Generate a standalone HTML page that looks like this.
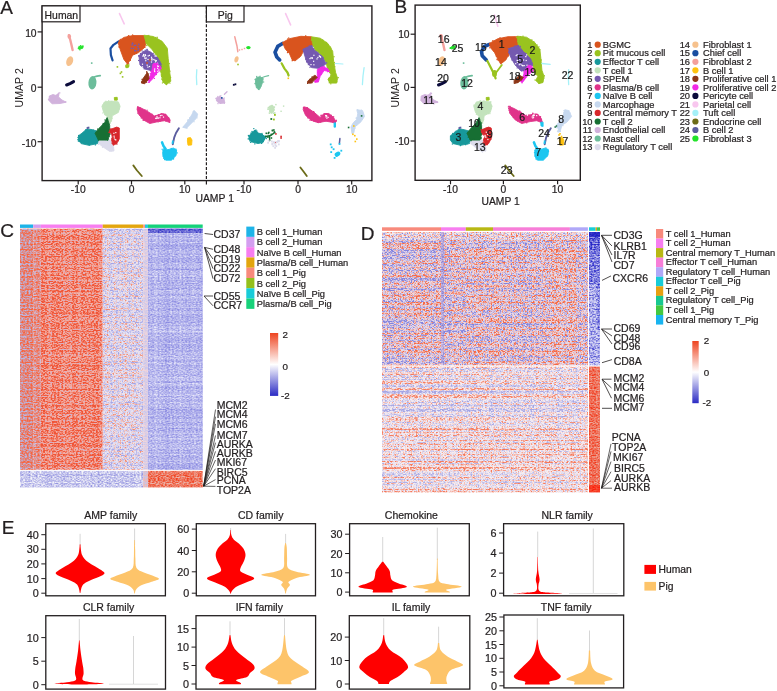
<!DOCTYPE html>
<html><head><meta charset="utf-8"><style>
html,body{margin:0;padding:0;background:#fff;}
svg{display:block;font-family:"Liberation Sans", sans-serif;will-change:transform;}
</style></head><body>
<svg width="777" height="691" viewBox="0 0 777 691">
<defs><filter id="hf1" x="17" y="225.6" width="19.200000000000003" height="247.20000000000002" filterUnits="userSpaceOnUse" color-interpolation-filters="sRGB"><feTurbulence type="fractalNoise" baseFrequency="0.55 0.85" numOctaves="1" seed="3" result="n1"/><feColorMatrix in="n1" type="matrix" values="2.400 0 0 0 -0.700 2.400 0 0 0 -0.700 2.400 0 0 0 -0.700 0 0 0 0 1" result="m1"/><feTurbulence type="fractalNoise" baseFrequency="0.0015 0.55" numOctaves="1" seed="53" result="n2"/><feColorMatrix in="n2" type="matrix" values="1.400 0 0 0 -0.200 1.400 0 0 0 -0.200 1.400 0 0 0 -0.200 0 0 0 0 1" result="m2"/><feTurbulence type="fractalNoise" baseFrequency="0.45 0.0015" numOctaves="1" seed="93" result="n3"/><feColorMatrix in="n3" type="matrix" values="0.500 0 0 0 0.250 0.500 0 0 0 0.250 0.500 0 0 0 0.250 0 0 0 0 1" result="m3"/><feComposite in="m1" in2="m2" operator="arithmetic" k1="0" k2="1" k3="1" k4="-0.5" result="m12"/><feComposite in="m12" in2="m3" operator="arithmetic" k1="0" k2="1" k3="1" k4="-0.4558"/><feColorMatrix type="matrix" values="1 0 0 0 0 0 1 0 0 0 0 0 1 0 0 0 0 0 0 1"/><feComponentTransfer><feFuncR type="table" tableValues="0.725 0.980"/><feFuncG type="table" tableValues="0.725 0.392"/><feFuncB type="table" tableValues="0.902 0.235"/><feFuncA type="linear" slope="0" intercept="1"/></feComponentTransfer><feGaussianBlur stdDeviation="0.4 0.25"/><feComposite in2="SourceGraphic" operator="in"/></filter>
<filter id="hf2" x="30.200000000000003" y="225.6" width="13.699999999999996" height="247.20000000000002" filterUnits="userSpaceOnUse" color-interpolation-filters="sRGB"><feTurbulence type="fractalNoise" baseFrequency="0.55 0.85" numOctaves="1" seed="4" result="n1"/><feColorMatrix in="n1" type="matrix" values="2.200 0 0 0 -0.600 2.200 0 0 0 -0.600 2.200 0 0 0 -0.600 0 0 0 0 1" result="m1"/><feTurbulence type="fractalNoise" baseFrequency="0.0015 0.55" numOctaves="1" seed="54" result="n2"/><feColorMatrix in="n2" type="matrix" values="1.200 0 0 0 -0.100 1.200 0 0 0 -0.100 1.200 0 0 0 -0.100 0 0 0 0 1" result="m2"/><feTurbulence type="fractalNoise" baseFrequency="0.45 0.0015" numOctaves="1" seed="94" result="n3"/><feColorMatrix in="n3" type="matrix" values="0.500 0 0 0 0.250 0.500 0 0 0 0.250 0.500 0 0 0 0.250 0 0 0 0 1" result="m3"/><feComposite in="m1" in2="m2" operator="arithmetic" k1="0" k2="1" k3="1" k4="-0.5" result="m12"/><feComposite in="m12" in2="m3" operator="arithmetic" k1="0" k2="1" k3="1" k4="-0.4746"/><feColorMatrix type="matrix" values="1 0 0 0 0 0 1 0 0 0 0 0 1 0 0 0 0 0 0 1"/><feComponentTransfer><feFuncR type="table" tableValues="0.784 0.980"/><feFuncG type="table" tableValues="0.765 0.392"/><feFuncB type="table" tableValues="0.910 0.235"/><feFuncA type="linear" slope="0" intercept="1"/></feComponentTransfer><feGaussianBlur stdDeviation="0.4 0.25"/><feComposite in2="SourceGraphic" operator="in"/></filter>
<filter id="hf3" x="37.9" y="225.6" width="67.80000000000001" height="247.20000000000002" filterUnits="userSpaceOnUse" color-interpolation-filters="sRGB"><feTurbulence type="fractalNoise" baseFrequency="0.55 0.85" numOctaves="1" seed="5" result="n1"/><feColorMatrix in="n1" type="matrix" values="2.000 0 0 0 -0.500 2.000 0 0 0 -0.500 2.000 0 0 0 -0.500 0 0 0 0 1" result="m1"/><feTurbulence type="fractalNoise" baseFrequency="0.0015 0.55" numOctaves="1" seed="55" result="n2"/><feColorMatrix in="n2" type="matrix" values="1.000 0 0 0 0.000 1.000 0 0 0 0.000 1.000 0 0 0 0.000 0 0 0 0 1" result="m2"/><feTurbulence type="fractalNoise" baseFrequency="0.45 0.0015" numOctaves="1" seed="95" result="n3"/><feColorMatrix in="n3" type="matrix" values="0.500 0 0 0 0.250 0.500 0 0 0 0.250 0.500 0 0 0 0.250 0 0 0 0 1" result="m3"/><feComposite in="m1" in2="m2" operator="arithmetic" k1="0" k2="1" k3="1" k4="-0.5" result="m12"/><feComposite in="m12" in2="m3" operator="arithmetic" k1="0" k2="1" k3="1" k4="-0.2900"/><feColorMatrix type="matrix" values="1 0 0 0 0 0 1 0 0 0 0 0 1 0 0 0 0 0 0 1"/><feComponentTransfer><feFuncR type="table" tableValues="0.725 0.957 0.941"/><feFuncG type="table" tableValues="0.698 0.686 0.333"/><feFuncB type="table" tableValues="0.902 0.647 0.216"/><feFuncA type="linear" slope="0" intercept="1"/></feComponentTransfer><feGaussianBlur stdDeviation="0.4 0.25"/><feComposite in2="SourceGraphic" operator="in"/></filter>
<filter id="hf4" x="99.7" y="225.6" width="46.39999999999999" height="247.20000000000002" filterUnits="userSpaceOnUse" color-interpolation-filters="sRGB"><feTurbulence type="fractalNoise" baseFrequency="0.55 0.85" numOctaves="1" seed="6" result="n1"/><feColorMatrix in="n1" type="matrix" values="1.900 0 0 0 -0.450 1.900 0 0 0 -0.450 1.900 0 0 0 -0.450 0 0 0 0 1" result="m1"/><feTurbulence type="fractalNoise" baseFrequency="0.0015 0.55" numOctaves="1" seed="56" result="n2"/><feColorMatrix in="n2" type="matrix" values="1.100 0 0 0 -0.050 1.100 0 0 0 -0.050 1.100 0 0 0 -0.050 0 0 0 0 1" result="m2"/><feTurbulence type="fractalNoise" baseFrequency="0.45 0.0015" numOctaves="1" seed="96" result="n3"/><feColorMatrix in="n3" type="matrix" values="0.500 0 0 0 0.250 0.500 0 0 0 0.250 0.500 0 0 0 0.250 0 0 0 0 1" result="m3"/><feComposite in="m1" in2="m2" operator="arithmetic" k1="0" k2="1" k3="1" k4="-0.5" result="m12"/><feComposite in="m12" in2="m3" operator="arithmetic" k1="0" k2="1" k3="1" k4="-0.5500"/><feColorMatrix type="matrix" values="1 0 0 0 0 0 1 0 0 0 0 0 1 0 0 0 0 0 0 1"/><feComponentTransfer><feFuncR type="table" tableValues="0.647 0.918 0.949"/><feFuncG type="table" tableValues="0.647 0.902 0.529"/><feFuncB type="table" tableValues="0.902 0.957 0.431"/><feFuncA type="linear" slope="0" intercept="1"/></feComponentTransfer><feGaussianBlur stdDeviation="0.4 0.25"/><feComposite in2="SourceGraphic" operator="in"/></filter>
<filter id="hf5" x="140.1" y="225.6" width="10.900000000000006" height="247.20000000000002" filterUnits="userSpaceOnUse" color-interpolation-filters="sRGB"><feTurbulence type="fractalNoise" baseFrequency="0.55 0.85" numOctaves="1" seed="7" result="n1"/><feColorMatrix in="n1" type="matrix" values="2.000 0 0 0 -0.500 2.000 0 0 0 -0.500 2.000 0 0 0 -0.500 0 0 0 0 1" result="m1"/><feTurbulence type="fractalNoise" baseFrequency="0.0015 0.55" numOctaves="1" seed="57" result="n2"/><feColorMatrix in="n2" type="matrix" values="0.900 0 0 0 0.050 0.900 0 0 0 0.050 0.900 0 0 0 0.050 0 0 0 0 1" result="m2"/><feTurbulence type="fractalNoise" baseFrequency="0.45 0.0015" numOctaves="1" seed="97" result="n3"/><feColorMatrix in="n3" type="matrix" values="0.500 0 0 0 0.250 0.500 0 0 0 0.250 0.500 0 0 0 0.250 0 0 0 0 1" result="m3"/><feComposite in="m1" in2="m2" operator="arithmetic" k1="0" k2="1" k3="1" k4="-0.5" result="m12"/><feComposite in="m12" in2="m3" operator="arithmetic" k1="0" k2="1" k3="1" k4="-0.5734"/><feColorMatrix type="matrix" values="1 0 0 0 0 0 1 0 0 0 0 0 1 0 0 0 0 0 0 1"/><feComponentTransfer><feFuncR type="table" tableValues="0.784 0.980"/><feFuncG type="table" tableValues="0.784 0.843"/><feFuncB type="table" tableValues="0.933 0.843"/><feFuncA type="linear" slope="0" intercept="1"/></feComponentTransfer><feGaussianBlur stdDeviation="0.4 0.25"/><feComposite in2="SourceGraphic" operator="in"/></filter>
<filter id="hf6" x="145" y="225.6" width="60.69999999999999" height="247.20000000000002" filterUnits="userSpaceOnUse" color-interpolation-filters="sRGB"><feTurbulence type="fractalNoise" baseFrequency="0.55 0.85" numOctaves="1" seed="8" result="n1"/><feColorMatrix in="n1" type="matrix" values="1.500 0 0 0 -0.250 1.500 0 0 0 -0.250 1.500 0 0 0 -0.250 0 0 0 0 1" result="m1"/><feTurbulence type="fractalNoise" baseFrequency="0.0015 0.55" numOctaves="1" seed="58" result="n2"/><feColorMatrix in="n2" type="matrix" values="0.800 0 0 0 0.100 0.800 0 0 0 0.100 0.800 0 0 0 0.100 0 0 0 0 1" result="m2"/><feTurbulence type="fractalNoise" baseFrequency="0.45 0.0015" numOctaves="1" seed="98" result="n3"/><feColorMatrix in="n3" type="matrix" values="0.500 0 0 0 0.250 0.500 0 0 0 0.250 0.500 0 0 0 0.250 0 0 0 0 1" result="m3"/><feComposite in="m1" in2="m2" operator="arithmetic" k1="0" k2="1" k3="1" k4="-0.5" result="m12"/><feComposite in="m12" in2="m3" operator="arithmetic" k1="0" k2="1" k3="1" k4="-0.5044"/><feColorMatrix type="matrix" values="1 0 0 0 0 0 1 0 0 0 0 0 1 0 0 0 0 0 0 1"/><feComponentTransfer><feFuncR type="table" tableValues="0.529 0.902"/><feFuncG type="table" tableValues="0.529 0.902"/><feFuncB type="table" tableValues="0.882 0.980"/><feFuncA type="linear" slope="0" intercept="1"/></feComponentTransfer><feGaussianBlur stdDeviation="0.4 0.25"/><feComposite in2="SourceGraphic" operator="in"/></filter>
<filter id="hf7" x="145" y="225.6" width="60.69999999999999" height="10.400000000000006" filterUnits="userSpaceOnUse" color-interpolation-filters="sRGB"><feTurbulence type="fractalNoise" baseFrequency="0.55 0.85" numOctaves="1" seed="9" result="n1"/><feColorMatrix in="n1" type="matrix" values="2.000 0 0 0 -0.500 2.000 0 0 0 -0.500 2.000 0 0 0 -0.500 0 0 0 0 1" result="m1"/><feTurbulence type="fractalNoise" baseFrequency="0.0015 0.55" numOctaves="1" seed="59" result="n2"/><feColorMatrix in="n2" type="matrix" values="0.900 0 0 0 0.050 0.900 0 0 0 0.050 0.900 0 0 0 0.050 0 0 0 0 1" result="m2"/><feTurbulence type="fractalNoise" baseFrequency="0.45 0.0015" numOctaves="1" seed="99" result="n3"/><feColorMatrix in="n3" type="matrix" values="0.500 0 0 0 0.250 0.500 0 0 0 0.250 0.500 0 0 0 0.250 0 0 0 0 1" result="m3"/><feComposite in="m1" in2="m2" operator="arithmetic" k1="0" k2="1" k3="1" k4="-0.5" result="m12"/><feComposite in="m12" in2="m3" operator="arithmetic" k1="0" k2="1" k3="1" k4="-0.5000"/><feColorMatrix type="matrix" values="1 0 0 0 0 0 1 0 0 0 0 0 1 0 0 0 0 0 0 1"/><feComponentTransfer><feFuncR type="table" tableValues="0.235 0.627"/><feFuncG type="table" tableValues="0.235 0.627"/><feFuncB type="table" tableValues="0.784 0.902"/><feFuncA type="linear" slope="0" intercept="1"/></feComponentTransfer><feGaussianBlur stdDeviation="0.4 0.25"/><feComposite in2="SourceGraphic" operator="in"/></filter>
<filter id="hf8" x="17" y="467.9" width="129.1" height="22.5" filterUnits="userSpaceOnUse" color-interpolation-filters="sRGB"><feTurbulence type="fractalNoise" baseFrequency="0.55 0.85" numOctaves="1" seed="10" result="n1"/><feColorMatrix in="n1" type="matrix" values="2.000 0 0 0 -0.500 2.000 0 0 0 -0.500 2.000 0 0 0 -0.500 0 0 0 0 1" result="m1"/><feTurbulence type="fractalNoise" baseFrequency="0.0015 0.55" numOctaves="1" seed="60" result="n2"/><feColorMatrix in="n2" type="matrix" values="0.900 0 0 0 0.050 0.900 0 0 0 0.050 0.900 0 0 0 0.050 0 0 0 0 1" result="m2"/><feTurbulence type="fractalNoise" baseFrequency="0.45 0.0015" numOctaves="1" seed="100" result="n3"/><feColorMatrix in="n3" type="matrix" values="0.500 0 0 0 0.250 0.500 0 0 0 0.250 0.500 0 0 0 0.250 0 0 0 0 1" result="m3"/><feComposite in="m1" in2="m2" operator="arithmetic" k1="0" k2="1" k3="1" k4="-0.5" result="m12"/><feComposite in="m12" in2="m3" operator="arithmetic" k1="0" k2="1" k3="1" k4="-0.4739"/><feColorMatrix type="matrix" values="1 0 0 0 0 0 1 0 0 0 0 0 1 0 0 0 0 0 0 1"/><feComponentTransfer><feFuncR type="table" tableValues="0.588 0.961"/><feFuncG type="table" tableValues="0.588 0.961"/><feFuncB type="table" tableValues="0.882 0.980"/><feFuncA type="linear" slope="0" intercept="1"/></feComponentTransfer><feGaussianBlur stdDeviation="0.4 0.25"/><feComposite in2="SourceGraphic" operator="in"/></filter>
<filter id="hf9" x="140.1" y="467.9" width="10.900000000000006" height="22.5" filterUnits="userSpaceOnUse" color-interpolation-filters="sRGB"><feTurbulence type="fractalNoise" baseFrequency="0.55 0.85" numOctaves="1" seed="11" result="n1"/><feColorMatrix in="n1" type="matrix" values="2.000 0 0 0 -0.500 2.000 0 0 0 -0.500 2.000 0 0 0 -0.500 0 0 0 0 1" result="m1"/><feTurbulence type="fractalNoise" baseFrequency="0.0015 0.55" numOctaves="1" seed="61" result="n2"/><feColorMatrix in="n2" type="matrix" values="0.900 0 0 0 0.050 0.900 0 0 0 0.050 0.900 0 0 0 0.050 0 0 0 0 1" result="m2"/><feTurbulence type="fractalNoise" baseFrequency="0.45 0.0015" numOctaves="1" seed="101" result="n3"/><feColorMatrix in="n3" type="matrix" values="0.500 0 0 0 0.250 0.500 0 0 0 0.250 0.500 0 0 0 0.250 0 0 0 0 1" result="m3"/><feComposite in="m1" in2="m2" operator="arithmetic" k1="0" k2="1" k3="1" k4="-0.5" result="m12"/><feComposite in="m12" in2="m3" operator="arithmetic" k1="0" k2="1" k3="1" k4="-0.5000"/><feColorMatrix type="matrix" values="1 0 0 0 0 0 1 0 0 0 0 0 1 0 0 0 0 0 0 1"/><feComponentTransfer><feFuncR type="table" tableValues="0.784 0.980"/><feFuncG type="table" tableValues="0.784 0.706"/><feFuncB type="table" tableValues="0.922 0.647"/><feFuncA type="linear" slope="0" intercept="1"/></feComponentTransfer><feGaussianBlur stdDeviation="0.4 0.25"/><feComposite in2="SourceGraphic" operator="in"/></filter>
<filter id="hf10" x="145" y="467.9" width="60.69999999999999" height="22.5" filterUnits="userSpaceOnUse" color-interpolation-filters="sRGB"><feTurbulence type="fractalNoise" baseFrequency="0.55 0.85" numOctaves="1" seed="12" result="n1"/><feColorMatrix in="n1" type="matrix" values="2.000 0 0 0 -0.500 2.000 0 0 0 -0.500 2.000 0 0 0 -0.500 0 0 0 0 1" result="m1"/><feTurbulence type="fractalNoise" baseFrequency="0.0015 0.55" numOctaves="1" seed="62" result="n2"/><feColorMatrix in="n2" type="matrix" values="0.900 0 0 0 0.050 0.900 0 0 0 0.050 0.900 0 0 0 0.050 0 0 0 0 1" result="m2"/><feTurbulence type="fractalNoise" baseFrequency="0.45 0.0015" numOctaves="1" seed="102" result="n3"/><feColorMatrix in="n3" type="matrix" values="0.500 0 0 0 0.250 0.500 0 0 0 0.250 0.500 0 0 0 0.250 0 0 0 0 1" result="m3"/><feComposite in="m1" in2="m2" operator="arithmetic" k1="0" k2="1" k3="1" k4="-0.5" result="m12"/><feComposite in="m12" in2="m3" operator="arithmetic" k1="0" k2="1" k3="1" k4="-0.4899"/><feColorMatrix type="matrix" values="1 0 0 0 0 0 1 0 0 0 0 0 1 0 0 0 0 0 0 1"/><feComponentTransfer><feFuncR type="table" tableValues="0.922 0.949"/><feFuncG type="table" tableValues="0.725 0.255"/><feFuncB type="table" tableValues="0.686 0.118"/><feFuncA type="linear" slope="0" intercept="1"/></feComponentTransfer><feGaussianBlur stdDeviation="0.4 0.25"/><feComposite in2="SourceGraphic" operator="in"/></filter>
<filter id="hf11" x="379" y="229" width="65" height="139.39999999999998" filterUnits="userSpaceOnUse" color-interpolation-filters="sRGB"><feTurbulence type="fractalNoise" baseFrequency="0.55 0.85" numOctaves="1" seed="21" result="n1"/><feColorMatrix in="n1" type="matrix" values="2.300 0 0 0 -0.650 2.300 0 0 0 -0.650 2.300 0 0 0 -0.650 0 0 0 0 1" result="m1"/><feTurbulence type="fractalNoise" baseFrequency="0.0015 0.55" numOctaves="1" seed="71" result="n2"/><feColorMatrix in="n2" type="matrix" values="1.300 0 0 0 -0.150 1.300 0 0 0 -0.150 1.300 0 0 0 -0.150 0 0 0 0 1" result="m2"/><feTurbulence type="fractalNoise" baseFrequency="0.45 0.0015" numOctaves="1" seed="111" result="n3"/><feColorMatrix in="n3" type="matrix" values="0.500 0 0 0 0.250 0.500 0 0 0 0.250 0.500 0 0 0 0.250 0 0 0 0 1" result="m3"/><feComposite in="m1" in2="m2" operator="arithmetic" k1="0" k2="1" k3="1" k4="-0.5" result="m12"/><feComposite in="m12" in2="m3" operator="arithmetic" k1="0" k2="1" k3="1" k4="-0.5300"/><feColorMatrix type="matrix" values="1 0 0 0 0 0 1 0 0 0 0 0 1 0 0 0 0 0 0 1"/><feComponentTransfer><feFuncR type="table" tableValues="0.510 0.925 0.961"/><feFuncG type="table" tableValues="0.510 0.871 0.412"/><feFuncB type="table" tableValues="0.871 0.918 0.275"/><feFuncA type="linear" slope="0" intercept="1"/></feComponentTransfer><feGaussianBlur stdDeviation="0.4 0.25"/><feComposite in2="SourceGraphic" operator="in"/></filter>
<filter id="hf12" x="441" y="229" width="28" height="139.39999999999998" filterUnits="userSpaceOnUse" color-interpolation-filters="sRGB"><feTurbulence type="fractalNoise" baseFrequency="0.55 0.85" numOctaves="1" seed="31" result="n1"/><feColorMatrix in="n1" type="matrix" values="2.300 0 0 0 -0.650 2.300 0 0 0 -0.650 2.300 0 0 0 -0.650 0 0 0 0 1" result="m1"/><feTurbulence type="fractalNoise" baseFrequency="0.0015 0.55" numOctaves="1" seed="81" result="n2"/><feColorMatrix in="n2" type="matrix" values="1.300 0 0 0 -0.150 1.300 0 0 0 -0.150 1.300 0 0 0 -0.150 0 0 0 0 1" result="m2"/><feTurbulence type="fractalNoise" baseFrequency="0.45 0.0015" numOctaves="1" seed="121" result="n3"/><feColorMatrix in="n3" type="matrix" values="0.500 0 0 0 0.250 0.500 0 0 0 0.250 0.500 0 0 0 0.250 0 0 0 0 1" result="m3"/><feComposite in="m1" in2="m2" operator="arithmetic" k1="0" k2="1" k3="1" k4="-0.5" result="m12"/><feComposite in="m12" in2="m3" operator="arithmetic" k1="0" k2="1" k3="1" k4="-0.5400"/><feColorMatrix type="matrix" values="1 0 0 0 0 0 1 0 0 0 0 0 1 0 0 0 0 0 0 1"/><feComponentTransfer><feFuncR type="table" tableValues="0.510 0.925 0.961"/><feFuncG type="table" tableValues="0.510 0.871 0.412"/><feFuncB type="table" tableValues="0.871 0.918 0.275"/><feFuncA type="linear" slope="0" intercept="1"/></feComponentTransfer><feGaussianBlur stdDeviation="0.4 0.25"/><feComposite in2="SourceGraphic" operator="in"/></filter>
<filter id="hf13" x="463" y="229" width="128" height="139.39999999999998" filterUnits="userSpaceOnUse" color-interpolation-filters="sRGB"><feTurbulence type="fractalNoise" baseFrequency="0.55 0.85" numOctaves="1" seed="32" result="n1"/><feColorMatrix in="n1" type="matrix" values="2.300 0 0 0 -0.650 2.300 0 0 0 -0.650 2.300 0 0 0 -0.650 0 0 0 0 1" result="m1"/><feTurbulence type="fractalNoise" baseFrequency="0.0015 0.55" numOctaves="1" seed="82" result="n2"/><feColorMatrix in="n2" type="matrix" values="1.300 0 0 0 -0.150 1.300 0 0 0 -0.150 1.300 0 0 0 -0.150 0 0 0 0 1" result="m2"/><feTurbulence type="fractalNoise" baseFrequency="0.45 0.0015" numOctaves="1" seed="122" result="n3"/><feColorMatrix in="n3" type="matrix" values="0.500 0 0 0 0.250 0.500 0 0 0 0.250 0.500 0 0 0 0.250 0 0 0 0 1" result="m3"/><feComposite in="m1" in2="m2" operator="arithmetic" k1="0" k2="1" k3="1" k4="-0.5" result="m12"/><feComposite in="m12" in2="m3" operator="arithmetic" k1="0" k2="1" k3="1" k4="-0.4700"/><feColorMatrix type="matrix" values="1 0 0 0 0 0 1 0 0 0 0 0 1 0 0 0 0 0 0 1"/><feComponentTransfer><feFuncR type="table" tableValues="0.510 0.925 0.961"/><feFuncG type="table" tableValues="0.510 0.871 0.412"/><feFuncB type="table" tableValues="0.871 0.918 0.275"/><feFuncA type="linear" slope="0" intercept="1"/></feComponentTransfer><feGaussianBlur stdDeviation="0.4 0.25"/><feComposite in2="SourceGraphic" operator="in"/></filter>
<filter id="hf14" x="379" y="229" width="212" height="14" filterUnits="userSpaceOnUse" color-interpolation-filters="sRGB"><feTurbulence type="fractalNoise" baseFrequency="0.55 0.85" numOctaves="1" seed="34" result="n1"/><feColorMatrix in="n1" type="matrix" values="1.800 0 0 0 -0.400 1.800 0 0 0 -0.400 1.800 0 0 0 -0.400 0 0 0 0 1" result="m1"/><feTurbulence type="fractalNoise" baseFrequency="0.0015 0.55" numOctaves="1" seed="84" result="n2"/><feColorMatrix in="n2" type="matrix" values="1.000 0 0 0 0.000 1.000 0 0 0 0.000 1.000 0 0 0 0.000 0 0 0 0 1" result="m2"/><feTurbulence type="fractalNoise" baseFrequency="0.45 0.0015" numOctaves="1" seed="124" result="n3"/><feColorMatrix in="n3" type="matrix" values="0.500 0 0 0 0.250 0.500 0 0 0 0.250 0.500 0 0 0 0.250 0 0 0 0 1" result="m3"/><feComposite in="m1" in2="m2" operator="arithmetic" k1="0" k2="1" k3="1" k4="-0.5" result="m12"/><feComposite in="m12" in2="m3" operator="arithmetic" k1="0" k2="1" k3="1" k4="-0.5000"/><feColorMatrix type="matrix" values="1 0 0 0 0 0 1 0 0 0 0 0 1 0 0 0 0 0 0 1"/><feComponentTransfer><feFuncR type="table" tableValues="0.510 0.961 0.961"/><feFuncG type="table" tableValues="0.510 0.933 0.412"/><feFuncB type="table" tableValues="0.871 0.949 0.275"/><feFuncA type="linear" slope="0" intercept="1"/></feComponentTransfer><feGaussianBlur stdDeviation="0.4 0.25"/><feComposite in2="SourceGraphic" operator="in"/></filter>
<filter id="hf15" x="438" y="229" width="9" height="139.39999999999998" filterUnits="userSpaceOnUse" color-interpolation-filters="sRGB"><feTurbulence type="fractalNoise" baseFrequency="0.55 0.85" numOctaves="1" seed="22" result="n1"/><feColorMatrix in="n1" type="matrix" values="2.000 0 0 0 -0.500 2.000 0 0 0 -0.500 2.000 0 0 0 -0.500 0 0 0 0 1" result="m1"/><feTurbulence type="fractalNoise" baseFrequency="0.0015 0.55" numOctaves="1" seed="72" result="n2"/><feColorMatrix in="n2" type="matrix" values="0.900 0 0 0 0.050 0.900 0 0 0 0.050 0.900 0 0 0 0.050 0 0 0 0 1" result="m2"/><feTurbulence type="fractalNoise" baseFrequency="0.45 0.0015" numOctaves="1" seed="112" result="n3"/><feColorMatrix in="n3" type="matrix" values="0.500 0 0 0 0.250 0.500 0 0 0 0.250 0.500 0 0 0 0.250 0 0 0 0 1" result="m3"/><feComposite in="m1" in2="m2" operator="arithmetic" k1="0" k2="1" k3="1" k4="-0.5" result="m12"/><feComposite in="m12" in2="m3" operator="arithmetic" k1="0" k2="1" k3="1" k4="-0.4612"/><feColorMatrix type="matrix" values="1 0 0 0 0 0 1 0 0 0 0 0 1 0 0 0 0 0 0 1"/><feComponentTransfer><feFuncR type="table" tableValues="0.471 0.882"/><feFuncG type="table" tableValues="0.471 0.784"/><feFuncB type="table" tableValues="0.831 0.882"/><feFuncA type="linear" slope="0" intercept="1"/></feComponentTransfer><feGaussianBlur stdDeviation="0.4 0.25"/><feComposite in2="SourceGraphic" operator="in"/></filter>
<filter id="hf16" x="586" y="234" width="17" height="19" filterUnits="userSpaceOnUse" color-interpolation-filters="sRGB"><feTurbulence type="fractalNoise" baseFrequency="0.55 0.85" numOctaves="1" seed="23" result="n1"/><feColorMatrix in="n1" type="matrix" values="2.000 0 0 0 -0.500 2.000 0 0 0 -0.500 2.000 0 0 0 -0.500 0 0 0 0 1" result="m1"/><feTurbulence type="fractalNoise" baseFrequency="0.0015 0.55" numOctaves="1" seed="73" result="n2"/><feColorMatrix in="n2" type="matrix" values="0.900 0 0 0 0.050 0.900 0 0 0 0.050 0.900 0 0 0 0.050 0 0 0 0 1" result="m2"/><feTurbulence type="fractalNoise" baseFrequency="0.45 0.0015" numOctaves="1" seed="113" result="n3"/><feColorMatrix in="n3" type="matrix" values="0.500 0 0 0 0.250 0.500 0 0 0 0.250 0.500 0 0 0 0.250 0 0 0 0 1" result="m3"/><feComposite in="m1" in2="m2" operator="arithmetic" k1="0" k2="1" k3="1" k4="-0.5" result="m12"/><feComposite in="m12" in2="m3" operator="arithmetic" k1="0" k2="1" k3="1" k4="-0.7149"/><feColorMatrix type="matrix" values="1 0 0 0 0 0 1 0 0 0 0 0 1 0 0 0 0 0 0 1"/><feComponentTransfer><feFuncR type="table" tableValues="0.157 0.843"/><feFuncG type="table" tableValues="0.157 0.843"/><feFuncB type="table" tableValues="0.784 0.961"/><feFuncA type="linear" slope="0" intercept="1"/></feComponentTransfer><feGaussianBlur stdDeviation="0.4 0.25"/><feComposite in2="SourceGraphic" operator="in"/></filter>
<filter id="hf17" x="586" y="247" width="17" height="41" filterUnits="userSpaceOnUse" color-interpolation-filters="sRGB"><feTurbulence type="fractalNoise" baseFrequency="0.55 0.85" numOctaves="1" seed="28" result="n1"/><feColorMatrix in="n1" type="matrix" values="2.000 0 0 0 -0.500 2.000 0 0 0 -0.500 2.000 0 0 0 -0.500 0 0 0 0 1" result="m1"/><feTurbulence type="fractalNoise" baseFrequency="0.0015 0.55" numOctaves="1" seed="78" result="n2"/><feColorMatrix in="n2" type="matrix" values="0.900 0 0 0 0.050 0.900 0 0 0 0.050 0.900 0 0 0 0.050 0 0 0 0 1" result="m2"/><feTurbulence type="fractalNoise" baseFrequency="0.45 0.0015" numOctaves="1" seed="118" result="n3"/><feColorMatrix in="n3" type="matrix" values="0.500 0 0 0 0.250 0.500 0 0 0 0.250 0.500 0 0 0 0.250 0 0 0 0 1" result="m3"/><feComposite in="m1" in2="m2" operator="arithmetic" k1="0" k2="1" k3="1" k4="-0.5" result="m12"/><feComposite in="m12" in2="m3" operator="arithmetic" k1="0" k2="1" k3="1" k4="-0.5142"/><feColorMatrix type="matrix" values="1 0 0 0 0 0 1 0 0 0 0 0 1 0 0 0 0 0 0 1"/><feComponentTransfer><feFuncR type="table" tableValues="0.157 0.843"/><feFuncG type="table" tableValues="0.157 0.843"/><feFuncB type="table" tableValues="0.784 0.961"/><feFuncA type="linear" slope="0" intercept="1"/></feComponentTransfer><feGaussianBlur stdDeviation="0.4 0.25"/><feComposite in2="SourceGraphic" operator="in"/></filter>
<filter id="hf18" x="586" y="282" width="17" height="51" filterUnits="userSpaceOnUse" color-interpolation-filters="sRGB"><feTurbulence type="fractalNoise" baseFrequency="0.55 0.85" numOctaves="1" seed="29" result="n1"/><feColorMatrix in="n1" type="matrix" values="2.000 0 0 0 -0.500 2.000 0 0 0 -0.500 2.000 0 0 0 -0.500 0 0 0 0 1" result="m1"/><feTurbulence type="fractalNoise" baseFrequency="0.0015 0.55" numOctaves="1" seed="79" result="n2"/><feColorMatrix in="n2" type="matrix" values="0.900 0 0 0 0.050 0.900 0 0 0 0.050 0.900 0 0 0 0.050 0 0 0 0 1" result="m2"/><feTurbulence type="fractalNoise" baseFrequency="0.45 0.0015" numOctaves="1" seed="119" result="n3"/><feColorMatrix in="n3" type="matrix" values="0.500 0 0 0 0.250 0.500 0 0 0 0.250 0.500 0 0 0 0.250 0 0 0 0 1" result="m3"/><feComposite in="m1" in2="m2" operator="arithmetic" k1="0" k2="1" k3="1" k4="-0.5" result="m12"/><feComposite in="m12" in2="m3" operator="arithmetic" k1="0" k2="1" k3="1" k4="-0.3135"/><feColorMatrix type="matrix" values="1 0 0 0 0 0 1 0 0 0 0 0 1 0 0 0 0 0 0 1"/><feComponentTransfer><feFuncR type="table" tableValues="0.157 0.843"/><feFuncG type="table" tableValues="0.157 0.843"/><feFuncB type="table" tableValues="0.784 0.961"/><feFuncA type="linear" slope="0" intercept="1"/></feComponentTransfer><feGaussianBlur stdDeviation="0.4 0.25"/><feComposite in2="SourceGraphic" operator="in"/></filter>
<filter id="hf19" x="586" y="327" width="17" height="41.39999999999998" filterUnits="userSpaceOnUse" color-interpolation-filters="sRGB"><feTurbulence type="fractalNoise" baseFrequency="0.55 0.85" numOctaves="1" seed="30" result="n1"/><feColorMatrix in="n1" type="matrix" values="2.000 0 0 0 -0.500 2.000 0 0 0 -0.500 2.000 0 0 0 -0.500 0 0 0 0 1" result="m1"/><feTurbulence type="fractalNoise" baseFrequency="0.0015 0.55" numOctaves="1" seed="80" result="n2"/><feColorMatrix in="n2" type="matrix" values="0.900 0 0 0 0.050 0.900 0 0 0 0.050 0.900 0 0 0 0.050 0 0 0 0 1" result="m2"/><feTurbulence type="fractalNoise" baseFrequency="0.45 0.0015" numOctaves="1" seed="120" result="n3"/><feColorMatrix in="n3" type="matrix" values="0.500 0 0 0 0.250 0.500 0 0 0 0.250 0.500 0 0 0 0.250 0 0 0 0 1" result="m3"/><feComposite in="m1" in2="m2" operator="arithmetic" k1="0" k2="1" k3="1" k4="-0.5" result="m12"/><feComposite in="m12" in2="m3" operator="arithmetic" k1="0" k2="1" k3="1" k4="-0.2277"/><feColorMatrix type="matrix" values="1 0 0 0 0 0 1 0 0 0 0 0 1 0 0 0 0 0 0 1"/><feComponentTransfer><feFuncR type="table" tableValues="0.157 0.843"/><feFuncG type="table" tableValues="0.157 0.843"/><feFuncB type="table" tableValues="0.784 0.961"/><feFuncA type="linear" slope="0" intercept="1"/></feComponentTransfer><feGaussianBlur stdDeviation="0.4 0.25"/><feComposite in2="SourceGraphic" operator="in"/></filter>
<filter id="hf20" x="586" y="229" width="17" height="11" filterUnits="userSpaceOnUse" color-interpolation-filters="sRGB"><feTurbulence type="fractalNoise" baseFrequency="0.55 0.85" numOctaves="1" seed="24" result="n1"/><feColorMatrix in="n1" type="matrix" values="2.000 0 0 0 -0.500 2.000 0 0 0 -0.500 2.000 0 0 0 -0.500 0 0 0 0 1" result="m1"/><feTurbulence type="fractalNoise" baseFrequency="0.0015 0.55" numOctaves="1" seed="74" result="n2"/><feColorMatrix in="n2" type="matrix" values="0.900 0 0 0 0.050 0.900 0 0 0 0.050 0.900 0 0 0 0.050 0 0 0 0 1" result="m2"/><feTurbulence type="fractalNoise" baseFrequency="0.45 0.0015" numOctaves="1" seed="114" result="n3"/><feColorMatrix in="n3" type="matrix" values="0.500 0 0 0 0.250 0.500 0 0 0 0.250 0.500 0 0 0 0.250 0 0 0 0 1" result="m3"/><feComposite in="m1" in2="m2" operator="arithmetic" k1="0" k2="1" k3="1" k4="-0.5" result="m12"/><feComposite in="m12" in2="m3" operator="arithmetic" k1="0" k2="1" k3="1" k4="-0.6212"/><feColorMatrix type="matrix" values="1 0 0 0 0 0 1 0 0 0 0 0 1 0 0 0 0 0 0 1"/><feComponentTransfer><feFuncR type="table" tableValues="0.118 0.275"/><feFuncG type="table" tableValues="0.118 0.275"/><feFuncB type="table" tableValues="0.765 0.804"/><feFuncA type="linear" slope="0" intercept="1"/></feComponentTransfer><feGaussianBlur stdDeviation="0.4 0.25"/><feComposite in2="SourceGraphic" operator="in"/></filter>
<filter id="hf21" x="379" y="363.6" width="212" height="79.39999999999998" filterUnits="userSpaceOnUse" color-interpolation-filters="sRGB"><feTurbulence type="fractalNoise" baseFrequency="0.55 0.85" numOctaves="1" seed="25" result="n1"/><feColorMatrix in="n1" type="matrix" values="1.700 0 0 0 -0.350 1.700 0 0 0 -0.350 1.700 0 0 0 -0.350 0 0 0 0 1" result="m1"/><feTurbulence type="fractalNoise" baseFrequency="0.0015 0.55" numOctaves="1" seed="75" result="n2"/><feColorMatrix in="n2" type="matrix" values="1.600 0 0 0 -0.300 1.600 0 0 0 -0.300 1.600 0 0 0 -0.300 0 0 0 0 1" result="m2"/><feTurbulence type="fractalNoise" baseFrequency="0.45 0.0015" numOctaves="1" seed="115" result="n3"/><feColorMatrix in="n3" type="matrix" values="0.500 0 0 0 0.250 0.500 0 0 0 0.250 0.500 0 0 0 0.250 0 0 0 0 1" result="m3"/><feComposite in="m1" in2="m2" operator="arithmetic" k1="0" k2="1" k3="1" k4="-0.5" result="m12"/><feComposite in="m12" in2="m3" operator="arithmetic" k1="0" k2="1" k3="1" k4="-0.5100"/><feColorMatrix type="matrix" values="1 0 0 0 0 0 1 0 0 0 0 0 1 0 0 0 0 0 0 1"/><feComponentTransfer><feFuncR type="table" tableValues="0.647 0.965 0.961"/><feFuncG type="table" tableValues="0.647 0.941 0.490"/><feFuncB type="table" tableValues="0.894 0.965 0.373"/><feFuncA type="linear" slope="0" intercept="1"/></feComponentTransfer><feGaussianBlur stdDeviation="0.4 0.25"/><feComposite in2="SourceGraphic" operator="in"/></filter>
<filter id="hf22" x="379" y="437" width="212" height="58.39999999999998" filterUnits="userSpaceOnUse" color-interpolation-filters="sRGB"><feTurbulence type="fractalNoise" baseFrequency="0.55 0.85" numOctaves="1" seed="33" result="n1"/><feColorMatrix in="n1" type="matrix" values="1.700 0 0 0 -0.350 1.700 0 0 0 -0.350 1.700 0 0 0 -0.350 0 0 0 0 1" result="m1"/><feTurbulence type="fractalNoise" baseFrequency="0.0015 0.55" numOctaves="1" seed="83" result="n2"/><feColorMatrix in="n2" type="matrix" values="1.600 0 0 0 -0.300 1.600 0 0 0 -0.300 1.600 0 0 0 -0.300 0 0 0 0 1" result="m2"/><feTurbulence type="fractalNoise" baseFrequency="0.45 0.0015" numOctaves="1" seed="123" result="n3"/><feColorMatrix in="n3" type="matrix" values="0.500 0 0 0 0.250 0.500 0 0 0 0.250 0.500 0 0 0 0.250 0 0 0 0 1" result="m3"/><feComposite in="m1" in2="m2" operator="arithmetic" k1="0" k2="1" k3="1" k4="-0.5" result="m12"/><feComposite in="m12" in2="m3" operator="arithmetic" k1="0" k2="1" k3="1" k4="-0.4700"/><feColorMatrix type="matrix" values="1 0 0 0 0 0 1 0 0 0 0 0 1 0 0 0 0 0 0 1"/><feComponentTransfer><feFuncR type="table" tableValues="0.686 0.969 0.961"/><feFuncG type="table" tableValues="0.686 0.941 0.471"/><feFuncB type="table" tableValues="0.902 0.957 0.353"/><feFuncA type="linear" slope="0" intercept="1"/></feComponentTransfer><feGaussianBlur stdDeviation="0.4 0.25"/><feComposite in2="SourceGraphic" operator="in"/></filter>
<filter id="hf23" x="586" y="363.6" width="17" height="124.39999999999998" filterUnits="userSpaceOnUse" color-interpolation-filters="sRGB"><feTurbulence type="fractalNoise" baseFrequency="0.55 0.85" numOctaves="1" seed="26" result="n1"/><feColorMatrix in="n1" type="matrix" values="2.000 0 0 0 -0.500 2.000 0 0 0 -0.500 2.000 0 0 0 -0.500 0 0 0 0 1" result="m1"/><feTurbulence type="fractalNoise" baseFrequency="0.0015 0.55" numOctaves="1" seed="76" result="n2"/><feColorMatrix in="n2" type="matrix" values="0.900 0 0 0 0.050 0.900 0 0 0 0.050 0.900 0 0 0 0.050 0 0 0 0 1" result="m2"/><feTurbulence type="fractalNoise" baseFrequency="0.45 0.0015" numOctaves="1" seed="116" result="n3"/><feColorMatrix in="n3" type="matrix" values="0.500 0 0 0 0.250 0.500 0 0 0 0.250 0.500 0 0 0 0.250 0 0 0 0 1" result="m3"/><feComposite in="m1" in2="m2" operator="arithmetic" k1="0" k2="1" k3="1" k4="-0.5" result="m12"/><feComposite in="m12" in2="m3" operator="arithmetic" k1="0" k2="1" k3="1" k4="-0.4689"/><feColorMatrix type="matrix" values="1 0 0 0 0 0 1 0 0 0 0 0 1 0 0 0 0 0 0 1"/><feComponentTransfer><feFuncR type="table" tableValues="0.933 0.949"/><feFuncG type="table" tableValues="0.667 0.216"/><feFuncB type="table" tableValues="0.608 0.098"/><feFuncA type="linear" slope="0" intercept="1"/></feComponentTransfer><feGaussianBlur stdDeviation="0.4 0.25"/><feComposite in2="SourceGraphic" operator="in"/></filter>
<filter id="hf24" x="586" y="482" width="17" height="13.399999999999977" filterUnits="userSpaceOnUse" color-interpolation-filters="sRGB"><feTurbulence type="fractalNoise" baseFrequency="0.55 0.85" numOctaves="1" seed="27" result="n1"/><feColorMatrix in="n1" type="matrix" values="2.000 0 0 0 -0.500 2.000 0 0 0 -0.500 2.000 0 0 0 -0.500 0 0 0 0 1" result="m1"/><feTurbulence type="fractalNoise" baseFrequency="0.0015 0.55" numOctaves="1" seed="77" result="n2"/><feColorMatrix in="n2" type="matrix" values="0.900 0 0 0 0.050 0.900 0 0 0 0.050 0.900 0 0 0 0.050 0 0 0 0 1" result="m2"/><feTurbulence type="fractalNoise" baseFrequency="0.45 0.0015" numOctaves="1" seed="117" result="n3"/><feColorMatrix in="n3" type="matrix" values="0.500 0 0 0 0.250 0.500 0 0 0 0.250 0.500 0 0 0 0.250 0 0 0 0 1" result="m3"/><feComposite in="m1" in2="m2" operator="arithmetic" k1="0" k2="1" k3="1" k4="-0.5" result="m12"/><feComposite in="m12" in2="m3" operator="arithmetic" k1="0" k2="1" k3="1" k4="-0.3876"/><feColorMatrix type="matrix" values="1 0 0 0 0 0 1 0 0 0 0 0 1 0 0 0 0 0 0 1"/><feComponentTransfer><feFuncR type="table" tableValues="0.961 0.988"/><feFuncG type="table" tableValues="0.392 0.118"/><feFuncB type="table" tableValues="0.275 0.039"/><feFuncA type="linear" slope="0" intercept="1"/></feComponentTransfer><feGaussianBlur stdDeviation="0.4 0.25"/><feComposite in2="SourceGraphic" operator="in"/></filter>
<linearGradient id="cbar" x1="0" y1="0" x2="0" y2="1"><stop offset="0" stop-color="#ee4420"/><stop offset="0.5" stop-color="#ffffff"/><stop offset="1" stop-color="#2b2bc4"/></linearGradient></defs>
<rect width="777" height="691" fill="#fff"/>
<text x="0.3" y="14.3" font-size="19" text-anchor="start" fill="#231f20" stroke="#231f20" stroke-width="0.22" >A</text>
<text x="394.5" y="13.4" font-size="19" text-anchor="start" fill="#231f20" stroke="#231f20" stroke-width="0.22" >B</text>
<text x="0.2" y="237.4" font-size="19" text-anchor="start" fill="#231f20" stroke="#231f20" stroke-width="0.22" >C</text>
<text x="360.8" y="239.8" font-size="19" text-anchor="start" fill="#231f20" stroke="#231f20" stroke-width="0.22" >D</text>
<text x="1.8" y="533.6" font-size="19" text-anchor="start" fill="#231f20" stroke="#231f20" stroke-width="0.22" >E</text>
<text x="592.5" y="47.9" font-size="9.3" text-anchor="end" fill="#231f20" stroke="#231f20" stroke-width="0.22" >1</text>
<circle cx="597.7" cy="44.7" r="3.1" fill="#d9541e"/>
<text x="602.8" y="47.9" font-size="9.3" text-anchor="start" fill="#231f20" stroke="#231f20" stroke-width="0.22" >BGMC</text>
<text x="592.5" y="56.4" font-size="9.3" text-anchor="end" fill="#231f20" stroke="#231f20" stroke-width="0.22" >2</text>
<circle cx="597.7" cy="53.2" r="3.1" fill="#99c31f"/>
<text x="602.8" y="56.4" font-size="9.3" text-anchor="start" fill="#231f20" stroke="#231f20" stroke-width="0.22" >Pit mucous cell</text>
<text x="592.5" y="65.0" font-size="9.3" text-anchor="end" fill="#231f20" stroke="#231f20" stroke-width="0.22" >3</text>
<circle cx="597.7" cy="61.8" r="3.1" fill="#17989b"/>
<text x="602.8" y="65.0" font-size="9.3" text-anchor="start" fill="#231f20" stroke="#231f20" stroke-width="0.22" >Effector T cell</text>
<text x="592.5" y="73.5" font-size="9.3" text-anchor="end" fill="#231f20" stroke="#231f20" stroke-width="0.22" >4</text>
<circle cx="597.7" cy="70.3" r="3.1" fill="#c3e3bc"/>
<text x="602.8" y="73.5" font-size="9.3" text-anchor="start" fill="#231f20" stroke="#231f20" stroke-width="0.22" >T cell 1</text>
<text x="592.5" y="82.0" font-size="9.3" text-anchor="end" fill="#231f20" stroke="#231f20" stroke-width="0.22" >5</text>
<circle cx="597.7" cy="78.8" r="3.1" fill="#7459b0"/>
<text x="602.8" y="82.0" font-size="9.3" text-anchor="start" fill="#231f20" stroke="#231f20" stroke-width="0.22" >SPEM</text>
<text x="592.5" y="90.6" font-size="9.3" text-anchor="end" fill="#231f20" stroke="#231f20" stroke-width="0.22" >6</text>
<circle cx="597.7" cy="87.3" r="3.1" fill="#e0338a"/>
<text x="602.8" y="90.6" font-size="9.3" text-anchor="start" fill="#231f20" stroke="#231f20" stroke-width="0.22" >Plasma/B cell</text>
<text x="592.5" y="99.1" font-size="9.3" text-anchor="end" fill="#231f20" stroke="#231f20" stroke-width="0.22" >7</text>
<circle cx="597.7" cy="95.9" r="3.1" fill="#1cc6f0"/>
<text x="602.8" y="99.1" font-size="9.3" text-anchor="start" fill="#231f20" stroke="#231f20" stroke-width="0.22" >Na&#239;ve B cell</text>
<text x="592.5" y="107.6" font-size="9.3" text-anchor="end" fill="#231f20" stroke="#231f20" stroke-width="0.22" >8</text>
<circle cx="597.7" cy="104.4" r="3.1" fill="#c6d8ef"/>
<text x="602.8" y="107.6" font-size="9.3" text-anchor="start" fill="#231f20" stroke="#231f20" stroke-width="0.22" >Marcophage</text>
<text x="592.5" y="116.1" font-size="9.3" text-anchor="end" fill="#231f20" stroke="#231f20" stroke-width="0.22" >9</text>
<circle cx="597.7" cy="112.9" r="3.1" fill="#d7272b"/>
<text x="602.8" y="116.1" font-size="9.3" text-anchor="start" fill="#231f20" stroke="#231f20" stroke-width="0.22" >Central memory T</text>
<text x="592.5" y="124.7" font-size="9.3" text-anchor="end" fill="#231f20" stroke="#231f20" stroke-width="0.22" >10</text>
<circle cx="597.7" cy="121.5" r="3.1" fill="#176f33"/>
<text x="602.8" y="124.7" font-size="9.3" text-anchor="start" fill="#231f20" stroke="#231f20" stroke-width="0.22" >T cell 2</text>
<text x="592.5" y="133.2" font-size="9.3" text-anchor="end" fill="#231f20" stroke="#231f20" stroke-width="0.22" >11</text>
<circle cx="597.7" cy="130.0" r="3.1" fill="#d1b2dc"/>
<text x="602.8" y="133.2" font-size="9.3" text-anchor="start" fill="#231f20" stroke="#231f20" stroke-width="0.22" >Endothelial cell</text>
<text x="592.5" y="141.7" font-size="9.3" text-anchor="end" fill="#231f20" stroke="#231f20" stroke-width="0.22" >12</text>
<circle cx="597.7" cy="138.5" r="3.1" fill="#6cbd9b"/>
<text x="602.8" y="141.7" font-size="9.3" text-anchor="start" fill="#231f20" stroke="#231f20" stroke-width="0.22" >Mast cell</text>
<text x="592.5" y="150.3" font-size="9.3" text-anchor="end" fill="#231f20" stroke="#231f20" stroke-width="0.22" >13</text>
<circle cx="597.7" cy="147.1" r="3.1" fill="#dcdcec"/>
<text x="602.8" y="150.3" font-size="9.3" text-anchor="start" fill="#231f20" stroke="#231f20" stroke-width="0.22" >Regulatory T cell</text>
<text x="690.0" y="47.9" font-size="9.3" text-anchor="end" fill="#231f20" stroke="#231f20" stroke-width="0.22" >14</text>
<circle cx="695.4" cy="44.7" r="3.1" fill="#f6c18d"/>
<text x="703.0" y="47.9" font-size="9.3" text-anchor="start" fill="#231f20" stroke="#231f20" stroke-width="0.22" >Fibroblast 1</text>
<text x="690.0" y="56.4" font-size="9.3" text-anchor="end" fill="#231f20" stroke="#231f20" stroke-width="0.22" >15</text>
<circle cx="695.4" cy="53.2" r="3.1" fill="#1a4ea0"/>
<text x="703.0" y="56.4" font-size="9.3" text-anchor="start" fill="#231f20" stroke="#231f20" stroke-width="0.22" >Chief cell</text>
<text x="690.0" y="65.0" font-size="9.3" text-anchor="end" fill="#231f20" stroke="#231f20" stroke-width="0.22" >16</text>
<circle cx="695.4" cy="61.8" r="3.1" fill="#f4a09c"/>
<text x="703.0" y="65.0" font-size="9.3" text-anchor="start" fill="#231f20" stroke="#231f20" stroke-width="0.22" >Fibroblast 2</text>
<text x="690.0" y="73.5" font-size="9.3" text-anchor="end" fill="#231f20" stroke="#231f20" stroke-width="0.22" >17</text>
<circle cx="695.4" cy="70.3" r="3.1" fill="#ffc20e"/>
<text x="703.0" y="73.5" font-size="9.3" text-anchor="start" fill="#231f20" stroke="#231f20" stroke-width="0.22" >B cell 1</text>
<text x="690.0" y="82.0" font-size="9.3" text-anchor="end" fill="#231f20" stroke="#231f20" stroke-width="0.22" >18</text>
<circle cx="695.4" cy="78.8" r="3.1" fill="#8c3516"/>
<text x="703.0" y="82.0" font-size="9.3" text-anchor="start" fill="#231f20" stroke="#231f20" stroke-width="0.22" >Proliferative cell 1</text>
<text x="690.0" y="90.6" font-size="9.3" text-anchor="end" fill="#231f20" stroke="#231f20" stroke-width="0.22" >19</text>
<circle cx="695.4" cy="87.3" r="3.1" fill="#f22ae6"/>
<text x="703.0" y="90.6" font-size="9.3" text-anchor="start" fill="#231f20" stroke="#231f20" stroke-width="0.22" >Proliferative cell 2</text>
<text x="690.0" y="99.1" font-size="9.3" text-anchor="end" fill="#231f20" stroke="#231f20" stroke-width="0.22" >20</text>
<circle cx="695.4" cy="95.9" r="3.1" fill="#0b0b3b"/>
<text x="703.0" y="99.1" font-size="9.3" text-anchor="start" fill="#231f20" stroke="#231f20" stroke-width="0.22" >Pericyte cell</text>
<text x="690.0" y="107.6" font-size="9.3" text-anchor="end" fill="#231f20" stroke="#231f20" stroke-width="0.22" >21</text>
<circle cx="695.4" cy="104.4" r="3.1" fill="#f8c6ee"/>
<text x="703.0" y="107.6" font-size="9.3" text-anchor="start" fill="#231f20" stroke="#231f20" stroke-width="0.22" >Parietal cell</text>
<text x="690.0" y="116.1" font-size="9.3" text-anchor="end" fill="#231f20" stroke="#231f20" stroke-width="0.22" >22</text>
<circle cx="695.4" cy="112.9" r="3.1" fill="#a5f1f8"/>
<text x="703.0" y="116.1" font-size="9.3" text-anchor="start" fill="#231f20" stroke="#231f20" stroke-width="0.22" >Tuft cell</text>
<text x="690.0" y="124.7" font-size="9.3" text-anchor="end" fill="#231f20" stroke="#231f20" stroke-width="0.22" >23</text>
<circle cx="695.4" cy="121.5" r="3.1" fill="#6b6b18"/>
<text x="703.0" y="124.7" font-size="9.3" text-anchor="start" fill="#231f20" stroke="#231f20" stroke-width="0.22" >Endocrine cell</text>
<text x="690.0" y="133.2" font-size="9.3" text-anchor="end" fill="#231f20" stroke="#231f20" stroke-width="0.22" >24</text>
<circle cx="695.4" cy="130.0" r="3.1" fill="#5b5d9f"/>
<text x="703.0" y="133.2" font-size="9.3" text-anchor="start" fill="#231f20" stroke="#231f20" stroke-width="0.22" >B cell 2</text>
<text x="690.0" y="141.7" font-size="9.3" text-anchor="end" fill="#231f20" stroke="#231f20" stroke-width="0.22" >25</text>
<circle cx="695.4" cy="138.5" r="3.1" fill="#22e22a"/>
<text x="703.0" y="141.7" font-size="9.3" text-anchor="start" fill="#231f20" stroke="#231f20" stroke-width="0.22" >Fibroblast 3</text>
<path d="M119.5,13.6 L121.5,18.0 L124.2,23.8" fill="none" stroke="#f8c6ee" stroke-width="1.6" stroke-linecap="round" stroke-linejoin="round"/>
<path d="M68.9,35.2 L70.3,40.0 L71.5,45.0 L72.6,50.0" fill="none" stroke="#f4a09c" stroke-width="2.4" stroke-linecap="round" stroke-linejoin="round"/>
<ellipse cx="69.3" cy="36.5" rx="1.8" ry="2.2" fill="#f4a09c" transform="rotate(0 69.3 36.5)"/>
<polygon points="77.8,48.2 80.0,46.4 83.3,45.8 82.8,48.2 80.0,49.0" fill="#22e22a" stroke="#22e22a" stroke-width="0.9" stroke-linejoin="round"/>
<rect x="78.6" y="48.5" width="1.2" height="1.2" fill="#22e22a"/>
<rect x="79.3" y="49.2" width="1.2" height="1.2" fill="#22e22a"/>
<rect x="78.5" y="45.9" width="1.2" height="1.2" fill="#22e22a"/>
<rect x="79.9" y="45.1" width="1.2" height="1.2" fill="#22e22a"/>
<ellipse cx="69.7" cy="61.2" rx="3.3" ry="5.0" fill="#f6c18d" transform="rotate(20 69.7 61.2)"/>
<path d="M66.6,85.0 L70.0,83.6 L73.6,81.6" fill="none" stroke="#0b0b3b" stroke-width="3.0" stroke-linecap="round" stroke-linejoin="round"/>
<ellipse cx="92.4" cy="82.8" rx="4.0" ry="6.8" fill="#6cbd9b" transform="rotate(5 92.4 82.8)"/>
<path d="M94.0,77.0 L97.0,76.2 L100.2,75.6" fill="none" stroke="#6cbd9b" stroke-width="1.8" stroke-linecap="round" stroke-linejoin="round"/>
<rect x="90.9" y="62.3" width="1.6" height="1.6" fill="#6cbd9b"/>
<polygon points="49.3,96.0 53.0,94.5 56.0,95.5 59.1,92.6 58.5,97.0 62.0,100.0 66.2,102.2 60.0,103.5 52.0,103.8 49.0,100.5" fill="#d1b2dc" stroke="#d1b2dc" stroke-width="0.9" stroke-linejoin="round"/>
<rect x="57.7" y="94.5" width="1.2" height="1.2" fill="#d1b2dc"/>
<rect x="65.1" y="101.2" width="1.2" height="1.2" fill="#d1b2dc"/>
<rect x="47.9" y="98.7" width="1.2" height="1.2" fill="#d1b2dc"/>
<rect x="49.0" y="96.0" width="1.2" height="1.2" fill="#d1b2dc"/>
<rect x="57.1" y="94.1" width="1.2" height="1.2" fill="#d1b2dc"/>
<rect x="59.2" y="92.3" width="1.2" height="1.2" fill="#d1b2dc"/>
<rect x="63.5" y="101.4" width="1.2" height="1.2" fill="#d1b2dc"/>
<rect x="55.9" y="94.7" width="1.2" height="1.2" fill="#d1b2dc"/>
<rect x="48.7" y="99.6" width="1.2" height="1.2" fill="#d1b2dc"/>
<rect x="58.8" y="97.8" width="1.2" height="1.2" fill="#d1b2dc"/>
<path d="M196.8,69.7 L196.4,77.0 L196.8,84.6" fill="none" stroke="#a5f1f8" stroke-width="1.3" stroke-linecap="round" stroke-linejoin="round"/>
<path d="M133.3,165.4 L137.0,170.5 L141.8,176.0" fill="none" stroke="#6b6b18" stroke-width="1.8" stroke-linecap="round" stroke-linejoin="round"/>
<path d="M118.7,41.3 L113.5,44.8 L110.5,48.5 L110.9,55.2 L112.6,60.4" fill="none" stroke="#1a4ea0" stroke-width="2.2" stroke-linecap="round" stroke-linejoin="round"/>
<polygon points="118.2,43.0 120.0,40.2 123.9,37.4 132.6,35.6 143.9,35.6 146.5,41.3 144.7,47.4 138.6,52.6 132.6,55.2 130.0,60.4 127.4,63.9 123.9,59.5 120.4,50.0" fill="#d9541e" stroke="#d9541e" stroke-width="0.9" stroke-linejoin="round"/>
<rect x="127.9" y="35.1" width="1.2" height="1.2" fill="#d9541e"/>
<rect x="119.1" y="39.6" width="1.2" height="1.2" fill="#d9541e"/>
<rect x="129.7" y="58.8" width="1.2" height="1.2" fill="#d9541e"/>
<rect x="118.8" y="41.4" width="1.2" height="1.2" fill="#d9541e"/>
<rect x="132.9" y="35.6" width="1.2" height="1.2" fill="#d9541e"/>
<rect x="135.7" y="52.9" width="1.2" height="1.2" fill="#d9541e"/>
<rect x="118.9" y="46.7" width="1.2" height="1.2" fill="#d9541e"/>
<rect x="143.5" y="46.7" width="1.2" height="1.2" fill="#d9541e"/>
<rect x="120.2" y="38.8" width="1.2" height="1.2" fill="#d9541e"/>
<rect x="127.0" y="36.3" width="1.2" height="1.2" fill="#d9541e"/>
<rect x="144.7" y="39.4" width="1.2" height="1.2" fill="#d9541e"/>
<rect x="126.6" y="63.5" width="1.2" height="1.2" fill="#d9541e"/>
<rect x="128.8" y="35.7" width="1.2" height="1.2" fill="#d9541e"/>
<rect x="144.3" y="46.7" width="1.2" height="1.2" fill="#d9541e"/>
<rect x="144.3" y="36.8" width="1.2" height="1.2" fill="#d9541e"/>
<rect x="126.7" y="63.8" width="1.2" height="1.2" fill="#d9541e"/>
<rect x="132.0" y="34.4" width="1.2" height="1.2" fill="#d9541e"/>
<rect x="118.3" y="46.3" width="1.2" height="1.2" fill="#d9541e"/>
<rect x="118.8" y="40.0" width="1.2" height="1.2" fill="#d9541e"/>
<rect x="128.0" y="62.7" width="1.2" height="1.2" fill="#d9541e"/>
<rect x="133.5" y="53.4" width="1.2" height="1.2" fill="#d9541e"/>
<rect x="134.9" y="52.8" width="1.2" height="1.2" fill="#d9541e"/>
<rect x="129.7" y="59.6" width="1.2" height="1.2" fill="#d9541e"/>
<rect x="145.6" y="41.8" width="1.2" height="1.2" fill="#d9541e"/>
<rect x="129.5" y="59.6" width="1.2" height="1.2" fill="#d9541e"/>
<rect x="119.2" y="46.1" width="1.2" height="1.2" fill="#d9541e"/>
<polygon points="143.9,35.2 153.4,36.5 162.1,41.3 167.3,48.2 168.2,58.6 169.9,73.4 170.8,81.2 166.4,84.7 163.0,82.1 161.2,73.4 158.6,64.7 156.9,56.0 151.7,49.1 146.5,43.9" fill="#99c31f" stroke="#99c31f" stroke-width="0.9" stroke-linejoin="round"/>
<rect x="168.6" y="63.0" width="1.2" height="1.2" fill="#99c31f"/>
<rect x="165.8" y="83.8" width="1.2" height="1.2" fill="#99c31f"/>
<rect x="170.0" y="77.0" width="1.2" height="1.2" fill="#99c31f"/>
<rect x="160.7" y="74.4" width="1.2" height="1.2" fill="#99c31f"/>
<rect x="169.3" y="70.6" width="1.2" height="1.2" fill="#99c31f"/>
<rect x="169.3" y="75.7" width="1.2" height="1.2" fill="#99c31f"/>
<rect x="169.3" y="82.5" width="1.2" height="1.2" fill="#99c31f"/>
<rect x="153.7" y="52.0" width="1.2" height="1.2" fill="#99c31f"/>
<rect x="163.7" y="45.0" width="1.2" height="1.2" fill="#99c31f"/>
<rect x="145.0" y="39.5" width="1.2" height="1.2" fill="#99c31f"/>
<rect x="154.3" y="53.3" width="1.2" height="1.2" fill="#99c31f"/>
<rect x="161.1" y="75.9" width="1.2" height="1.2" fill="#99c31f"/>
<rect x="146.2" y="44.9" width="1.2" height="1.2" fill="#99c31f"/>
<rect x="166.7" y="49.5" width="1.2" height="1.2" fill="#99c31f"/>
<rect x="166.8" y="55.9" width="1.2" height="1.2" fill="#99c31f"/>
<rect x="161.9" y="82.3" width="1.2" height="1.2" fill="#99c31f"/>
<rect x="155.0" y="36.9" width="1.2" height="1.2" fill="#99c31f"/>
<rect x="147.0" y="35.4" width="1.2" height="1.2" fill="#99c31f"/>
<rect x="157.5" y="39.5" width="1.2" height="1.2" fill="#99c31f"/>
<rect x="147.4" y="35.7" width="1.2" height="1.2" fill="#99c31f"/>
<rect x="146.2" y="42.1" width="1.2" height="1.2" fill="#99c31f"/>
<rect x="148.2" y="34.9" width="1.2" height="1.2" fill="#99c31f"/>
<rect x="161.9" y="79.4" width="1.2" height="1.2" fill="#99c31f"/>
<rect x="145.4" y="42.3" width="1.2" height="1.2" fill="#99c31f"/>
<rect x="161.1" y="78.5" width="1.2" height="1.2" fill="#99c31f"/>
<rect x="158.8" y="68.0" width="1.2" height="1.2" fill="#99c31f"/>
<rect x="156.6" y="36.7" width="1.2" height="1.2" fill="#99c31f"/>
<rect x="156.4" y="37.5" width="1.2" height="1.2" fill="#99c31f"/>
<polygon points="139.0,56.0 143.0,51.5 147.5,50.5 152.0,53.0 157.0,57.0 160.3,62.0 160.0,67.0 157.0,70.0 151.7,70.8 145.0,69.0 140.0,65.0" fill="#7459b0" stroke="#7459b0" stroke-width="0.9" stroke-linejoin="round"/>
<rect x="160.5" y="64.2" width="1.2" height="1.2" fill="#7459b0"/>
<rect x="156.5" y="69.3" width="1.2" height="1.2" fill="#7459b0"/>
<rect x="159.1" y="66.7" width="1.2" height="1.2" fill="#7459b0"/>
<rect x="144.3" y="67.4" width="1.2" height="1.2" fill="#7459b0"/>
<rect x="160.4" y="66.0" width="1.2" height="1.2" fill="#7459b0"/>
<rect x="155.7" y="57.5" width="1.2" height="1.2" fill="#7459b0"/>
<rect x="154.0" y="68.7" width="1.2" height="1.2" fill="#7459b0"/>
<rect x="159.4" y="65.9" width="1.2" height="1.2" fill="#7459b0"/>
<rect x="151.6" y="69.5" width="1.2" height="1.2" fill="#7459b0"/>
<rect x="149.6" y="51.7" width="1.2" height="1.2" fill="#7459b0"/>
<rect x="154.5" y="70.7" width="1.2" height="1.2" fill="#7459b0"/>
<rect x="141.6" y="50.4" width="1.2" height="1.2" fill="#7459b0"/>
<rect x="160.1" y="63.3" width="1.2" height="1.2" fill="#7459b0"/>
<rect x="160.2" y="63.4" width="1.2" height="1.2" fill="#7459b0"/>
<rect x="138.5" y="55.8" width="1.2" height="1.2" fill="#7459b0"/>
<rect x="146.5" y="48.8" width="1.2" height="1.2" fill="#7459b0"/>
<rect x="158.1" y="69.3" width="1.2" height="1.2" fill="#7459b0"/>
<rect x="139.9" y="59.8" width="1.2" height="1.2" fill="#7459b0"/>
<rect x="157.9" y="69.4" width="1.2" height="1.2" fill="#7459b0"/>
<rect x="151.0" y="70.9" width="1.2" height="1.2" fill="#7459b0"/>
<rect x="158.0" y="68.1" width="1.2" height="1.2" fill="#7459b0"/>
<rect x="156.8" y="57.2" width="1.2" height="1.2" fill="#7459b0"/>
<rect x="151.3" y="70.0" width="1.2" height="1.2" fill="#7459b0"/>
<rect x="144.6" y="68.1" width="1.2" height="1.2" fill="#7459b0"/>
<rect x="146.4" y="49.0" width="1.2" height="1.2" fill="#7459b0"/>
<rect x="157.7" y="69.8" width="1.2" height="1.2" fill="#7459b0"/>
<rect x="138.0" y="55.1" width="1.2" height="1.2" fill="#7459b0"/>
<rect x="144.7" y="49.7" width="1.2" height="1.2" fill="#7459b0"/>
<rect x="155.9" y="69.3" width="1.2" height="1.2" fill="#7459b0"/>
<rect x="146.5" y="50.2" width="1.2" height="1.2" fill="#7459b0"/>
<rect x="138.0" y="59.9" width="1.2" height="1.2" fill="#7459b0"/>
<rect x="143.6" y="68.2" width="1.2" height="1.2" fill="#7459b0"/>
<rect x="139.7" y="53.7" width="1.2" height="1.2" fill="#7459b0"/>
<rect x="154.9" y="70.7" width="1.2" height="1.2" fill="#7459b0"/>
<rect x="149.2" y="52.0" width="1.2" height="1.2" fill="#7459b0"/>
<rect x="150.2" y="69.8" width="1.2" height="1.2" fill="#7459b0"/>
<rect x="152.8" y="52.9" width="1.2" height="1.2" fill="#7459b0"/>
<rect x="157.2" y="58.3" width="1.2" height="1.2" fill="#7459b0"/>
<rect x="159.3" y="62.8" width="1.2" height="1.2" fill="#7459b0"/>
<rect x="140.0" y="52.9" width="1.2" height="1.2" fill="#7459b0"/>
<rect x="142.9" y="55.1" width="1.2" height="1.2" fill="#ffffff"/>
<rect x="150.9" y="56.7" width="1.2" height="1.2" fill="#ffffff"/>
<rect x="155.4" y="60.1" width="1.2" height="1.2" fill="#ffffff"/>
<rect x="146.6" y="64.6" width="1.2" height="1.2" fill="#ffffff"/>
<rect x="141.9" y="63.6" width="1.2" height="1.2" fill="#ffffff"/>
<rect x="142.3" y="55.5" width="1.2" height="1.2" fill="#ffffff"/>
<rect x="156.6" y="62.9" width="1.2" height="1.2" fill="#ffffff"/>
<rect x="145.0" y="55.0" width="1.2" height="1.2" fill="#ffffff"/>
<rect x="157.0" y="62.7" width="1.2" height="1.2" fill="#ffffff"/>
<rect x="154.5" y="55.4" width="1.2" height="1.2" fill="#ffffff"/>
<rect x="151.4" y="58.4" width="1.2" height="1.2" fill="#ffffff"/>
<rect x="145.2" y="58.1" width="1.2" height="1.2" fill="#ffffff"/>
<rect x="151.2" y="58.3" width="1.2" height="1.2" fill="#ffffff"/>
<rect x="147.6" y="55.3" width="1.2" height="1.2" fill="#ffffff"/>
<rect x="154.7" y="62.5" width="1.2" height="1.2" fill="#ffffff"/>
<rect x="154.3" y="59.5" width="1.2" height="1.2" fill="#ffffff"/>
<rect x="155.0" y="60.6" width="1.2" height="1.2" fill="#ffffff"/>
<rect x="150.9" y="61.4" width="1.2" height="1.2" fill="#ffffff"/>
<rect x="153.2" y="58.9" width="1.2" height="1.2" fill="#ffffff"/>
<rect x="143.0" y="53.9" width="1.2" height="1.2" fill="#ffffff"/>
<rect x="144.6" y="54.0" width="1.2" height="1.2" fill="#ffffff"/>
<rect x="155.6" y="60.1" width="1.2" height="1.2" fill="#ffffff"/>
<rect x="153.6" y="53.4" width="1.2" height="1.2" fill="#ffffff"/>
<rect x="148.9" y="65.9" width="1.2" height="1.2" fill="#ffffff"/>
<rect x="151.3" y="59.4" width="1.2" height="1.2" fill="#ffffff"/>
<rect x="148.8" y="54.8" width="1.2" height="1.2" fill="#ffffff"/>
<rect x="143.9" y="55.6" width="1.2" height="1.2" fill="#ffffff"/>
<rect x="147.4" y="58.8" width="1.2" height="1.2" fill="#ffffff"/>
<rect x="155.5" y="55.5" width="1.2" height="1.2" fill="#ffffff"/>
<rect x="145.5" y="57.3" width="1.2" height="1.2" fill="#ffffff"/>
<rect x="144.0" y="57.4" width="1.2" height="1.2" fill="#ffffff"/>
<rect x="145.2" y="60.1" width="1.2" height="1.2" fill="#ffffff"/>
<rect x="141.9" y="66.3" width="1.2" height="1.2" fill="#ffffff"/>
<rect x="147.3" y="66.5" width="1.2" height="1.2" fill="#ffffff"/>
<rect x="149.2" y="59.2" width="1.6" height="1.6" fill="#d9541e"/>
<rect x="152.2" y="65.2" width="1.6" height="1.6" fill="#d9541e"/>
<rect x="146.2" y="62.2" width="1.6" height="1.6" fill="#d9541e"/>
<rect x="137.6" y="47.7" width="1.4" height="1.4" fill="#7459b0"/>
<rect x="135.0" y="49.9" width="1.4" height="1.4" fill="#7459b0"/>
<rect x="130.7" y="47.6" width="1.4" height="1.4" fill="#7459b0"/>
<rect x="132.8" y="47.7" width="1.4" height="1.4" fill="#7459b0"/>
<rect x="138.1" y="43.6" width="1.4" height="1.4" fill="#7459b0"/>
<rect x="131.7" y="42.5" width="1.4" height="1.4" fill="#7459b0"/>
<rect x="132.1" y="42.9" width="1.4" height="1.4" fill="#7459b0"/>
<rect x="134.1" y="50.1" width="1.4" height="1.4" fill="#7459b0"/>
<rect x="133.7" y="44.8" width="1.4" height="1.4" fill="#7459b0"/>
<rect x="134.9" y="44.6" width="1.4" height="1.4" fill="#7459b0"/>
<rect x="138.1" y="48.0" width="1.4" height="1.4" fill="#7459b0"/>
<rect x="131.3" y="44.2" width="1.4" height="1.4" fill="#7459b0"/>
<rect x="137.4" y="49.8" width="1.4" height="1.4" fill="#7459b0"/>
<rect x="137.1" y="45.7" width="1.4" height="1.4" fill="#7459b0"/>
<polygon points="153.0,64.0 157.0,63.5 161.0,67.0 160.0,70.5 156.0,74.0 152.5,79.0 149.5,82.0 148.0,80.0 150.5,75.0 152.0,70.0" fill="#f22ae6" stroke="#f22ae6" stroke-width="0.9" stroke-linejoin="round"/>
<rect x="154.5" y="74.0" width="1.2" height="1.2" fill="#f22ae6"/>
<rect x="147.7" y="81.7" width="1.2" height="1.2" fill="#f22ae6"/>
<rect x="151.6" y="72.0" width="1.2" height="1.2" fill="#f22ae6"/>
<rect x="155.8" y="73.9" width="1.2" height="1.2" fill="#f22ae6"/>
<rect x="155.4" y="63.1" width="1.2" height="1.2" fill="#f22ae6"/>
<rect x="153.3" y="63.3" width="1.2" height="1.2" fill="#f22ae6"/>
<rect x="156.8" y="62.4" width="1.2" height="1.2" fill="#f22ae6"/>
<rect x="150.2" y="70.7" width="1.2" height="1.2" fill="#f22ae6"/>
<rect x="148.7" y="81.7" width="1.2" height="1.2" fill="#f22ae6"/>
<rect x="160.5" y="67.9" width="1.2" height="1.2" fill="#f22ae6"/>
<rect x="153.9" y="63.0" width="1.2" height="1.2" fill="#f22ae6"/>
<rect x="147.4" y="79.4" width="1.2" height="1.2" fill="#f22ae6"/>
<rect x="153.8" y="77.8" width="1.2" height="1.2" fill="#f22ae6"/>
<rect x="149.7" y="73.0" width="1.2" height="1.2" fill="#f22ae6"/>
<rect x="152.2" y="76.8" width="1.2" height="1.2" fill="#f22ae6"/>
<rect x="158.7" y="65.1" width="1.2" height="1.2" fill="#f22ae6"/>
<rect x="158.2" y="69.4" width="1.2" height="1.2" fill="#ffffff"/>
<rect x="154.1" y="68.4" width="1.2" height="1.2" fill="#ffffff"/>
<rect x="153.9" y="69.6" width="1.2" height="1.2" fill="#ffffff"/>
<rect x="157.2" y="70.7" width="1.2" height="1.2" fill="#ffffff"/>
<rect x="157.7" y="65.8" width="1.2" height="1.2" fill="#ffffff"/>
<rect x="157.0" y="67.7" width="1.2" height="1.2" fill="#ffffff"/>
<rect x="157.0" y="65.4" width="1.2" height="1.2" fill="#ffffff"/>
<rect x="154.1" y="71.0" width="1.2" height="1.2" fill="#ffffff"/>
<polygon points="147.3,72.5 143.0,78.6 141.3,83.0 144.7,83.8 149.1,78.6 148.2,73.4" fill="#8c3516" stroke="#8c3516" stroke-width="0.9" stroke-linejoin="round"/>
<rect x="141.3" y="81.1" width="1.2" height="1.2" fill="#8c3516"/>
<rect x="146.0" y="71.3" width="1.2" height="1.2" fill="#8c3516"/>
<rect x="145.8" y="81.6" width="1.2" height="1.2" fill="#8c3516"/>
<rect x="141.5" y="78.8" width="1.2" height="1.2" fill="#8c3516"/>
<rect x="146.7" y="78.9" width="1.2" height="1.2" fill="#8c3516"/>
<rect x="146.2" y="71.5" width="1.2" height="1.2" fill="#8c3516"/>
<polygon points="125.6,65.5 129.1,64.5 128.5,67.3 125.8,67.5" fill="#99c31f" stroke="#99c31f" stroke-width="0.9" stroke-linejoin="round"/>
<rect x="127.9" y="65.8" width="1.2" height="1.2" fill="#99c31f"/>
<rect x="125.7" y="64.4" width="1.2" height="1.2" fill="#99c31f"/>
<rect x="126.3" y="67.0" width="1.2" height="1.2" fill="#99c31f"/>
<rect x="127.3" y="66.0" width="1.2" height="1.2" fill="#99c31f"/>
<rect x="116.6" y="66.1" width="1.6" height="1.6" fill="#99c31f"/>
<rect x="119.6" y="72.6" width="1.6" height="1.6" fill="#99c31f"/>
<rect x="121.8" y="76.1" width="1.6" height="1.6" fill="#99c31f"/>
<rect x="120.7" y="71.2" width="1.6" height="1.6" fill="#99c31f"/>
<polygon points="104.5,101.9 111.5,101.1 118.4,101.9 120.1,106.3 118.4,112.4 112.3,115.8 111.5,121.0 108.9,124.5 107.1,116.7 103.6,112.4 101.9,106.3" fill="#c3e3bc" stroke="#c3e3bc" stroke-width="0.9" stroke-linejoin="round"/>
<rect x="118.2" y="104.6" width="1.2" height="1.2" fill="#c3e3bc"/>
<rect x="108.1" y="122.9" width="1.2" height="1.2" fill="#c3e3bc"/>
<rect x="118.6" y="108.4" width="1.2" height="1.2" fill="#c3e3bc"/>
<rect x="103.8" y="102.4" width="1.2" height="1.2" fill="#c3e3bc"/>
<rect x="102.3" y="112.4" width="1.2" height="1.2" fill="#c3e3bc"/>
<rect x="102.3" y="104.6" width="1.2" height="1.2" fill="#c3e3bc"/>
<rect x="103.0" y="110.1" width="1.2" height="1.2" fill="#c3e3bc"/>
<rect x="107.5" y="121.7" width="1.2" height="1.2" fill="#c3e3bc"/>
<rect x="105.2" y="114.4" width="1.2" height="1.2" fill="#c3e3bc"/>
<rect x="111.0" y="117.9" width="1.2" height="1.2" fill="#c3e3bc"/>
<rect x="108.0" y="100.2" width="1.2" height="1.2" fill="#c3e3bc"/>
<rect x="117.8" y="108.1" width="1.2" height="1.2" fill="#c3e3bc"/>
<rect x="115.7" y="101.9" width="1.2" height="1.2" fill="#c3e3bc"/>
<rect x="111.3" y="117.7" width="1.2" height="1.2" fill="#c3e3bc"/>
<rect x="116.2" y="100.3" width="1.2" height="1.2" fill="#c3e3bc"/>
<rect x="104.6" y="114.1" width="1.2" height="1.2" fill="#c3e3bc"/>
<rect x="105.3" y="100.7" width="1.2" height="1.2" fill="#c3e3bc"/>
<rect x="109.7" y="122.5" width="1.2" height="1.2" fill="#c3e3bc"/>
<rect x="107.1" y="117.0" width="1.2" height="1.2" fill="#c3e3bc"/>
<rect x="104.2" y="113.8" width="1.2" height="1.2" fill="#c3e3bc"/>
<rect x="110.1" y="120.7" width="1.2" height="1.2" fill="#c3e3bc"/>
<rect x="118.3" y="106.7" width="1.2" height="1.2" fill="#c3e3bc"/>
<polygon points="114.3,97.5 117.2,97.3 117.3,100.0 114.5,100.2" fill="#99c31f" stroke="#99c31f" stroke-width="0.9" stroke-linejoin="round"/>
<polygon points="78.5,135.8 81.9,133.2 87.2,128.9 92.4,129.7 98.4,131.5 99.3,138.4 97.6,143.6 88.9,145.3 81.1,143.6 78.5,140.1" fill="#17989b" stroke="#17989b" stroke-width="0.9" stroke-linejoin="round"/>
<rect x="98.3" y="141.8" width="1.2" height="1.2" fill="#17989b"/>
<rect x="95.1" y="143.1" width="1.2" height="1.2" fill="#17989b"/>
<rect x="92.7" y="129.5" width="1.2" height="1.2" fill="#17989b"/>
<rect x="98.9" y="137.7" width="1.2" height="1.2" fill="#17989b"/>
<rect x="77.4" y="136.9" width="1.2" height="1.2" fill="#17989b"/>
<rect x="83.4" y="131.7" width="1.2" height="1.2" fill="#17989b"/>
<rect x="88.9" y="144.4" width="1.2" height="1.2" fill="#17989b"/>
<rect x="78.9" y="140.1" width="1.2" height="1.2" fill="#17989b"/>
<rect x="94.8" y="144.3" width="1.2" height="1.2" fill="#17989b"/>
<rect x="97.6" y="138.7" width="1.2" height="1.2" fill="#17989b"/>
<rect x="97.8" y="137.2" width="1.2" height="1.2" fill="#17989b"/>
<rect x="85.1" y="129.4" width="1.2" height="1.2" fill="#17989b"/>
<rect x="84.5" y="130.4" width="1.2" height="1.2" fill="#17989b"/>
<rect x="78.5" y="140.3" width="1.2" height="1.2" fill="#17989b"/>
<rect x="78.5" y="140.8" width="1.2" height="1.2" fill="#17989b"/>
<rect x="85.3" y="129.4" width="1.2" height="1.2" fill="#17989b"/>
<rect x="78.0" y="134.9" width="1.2" height="1.2" fill="#17989b"/>
<rect x="77.3" y="138.9" width="1.2" height="1.2" fill="#17989b"/>
<rect x="96.7" y="141.6" width="1.2" height="1.2" fill="#17989b"/>
<rect x="77.7" y="140.3" width="1.2" height="1.2" fill="#17989b"/>
<polygon points="99.3,141.0 109.7,139.3 113.2,145.3 114.1,150.6 109.7,151.4 101.9,146.2 98.4,142.7" fill="#dcdcec" stroke="#dcdcec" stroke-width="0.9" stroke-linejoin="round"/>
<rect x="100.7" y="145.0" width="1.2" height="1.2" fill="#dcdcec"/>
<rect x="102.5" y="145.7" width="1.2" height="1.2" fill="#dcdcec"/>
<rect x="110.8" y="142.4" width="1.2" height="1.2" fill="#dcdcec"/>
<rect x="112.4" y="148.4" width="1.2" height="1.2" fill="#dcdcec"/>
<rect x="100.7" y="143.9" width="1.2" height="1.2" fill="#dcdcec"/>
<rect x="101.9" y="146.7" width="1.2" height="1.2" fill="#dcdcec"/>
<rect x="103.1" y="139.2" width="1.2" height="1.2" fill="#dcdcec"/>
<rect x="112.9" y="147.0" width="1.2" height="1.2" fill="#dcdcec"/>
<rect x="98.2" y="143.7" width="1.2" height="1.2" fill="#dcdcec"/>
<rect x="111.2" y="150.5" width="1.2" height="1.2" fill="#dcdcec"/>
<rect x="111.8" y="145.2" width="1.2" height="1.2" fill="#dcdcec"/>
<rect x="112.7" y="150.2" width="1.2" height="1.2" fill="#dcdcec"/>
<rect x="97.9" y="143.7" width="1.2" height="1.2" fill="#dcdcec"/>
<rect x="112.7" y="148.4" width="1.2" height="1.2" fill="#dcdcec"/>
<polygon points="107.1,117.6 109.7,125.4 109.7,134.1 108.0,140.1 98.4,140.1 95.0,133.2 99.3,128.0 104.5,122.8" fill="#176f33" stroke="#176f33" stroke-width="0.9" stroke-linejoin="round"/>
<rect x="108.6" y="135.6" width="1.2" height="1.2" fill="#176f33"/>
<rect x="108.7" y="129.5" width="1.2" height="1.2" fill="#176f33"/>
<rect x="108.3" y="129.2" width="1.2" height="1.2" fill="#176f33"/>
<rect x="105.2" y="138.9" width="1.2" height="1.2" fill="#176f33"/>
<rect x="109.0" y="129.0" width="1.2" height="1.2" fill="#176f33"/>
<rect x="102.7" y="122.9" width="1.2" height="1.2" fill="#176f33"/>
<rect x="106.8" y="138.8" width="1.2" height="1.2" fill="#176f33"/>
<rect x="97.0" y="128.5" width="1.2" height="1.2" fill="#176f33"/>
<rect x="102.5" y="123.7" width="1.2" height="1.2" fill="#176f33"/>
<rect x="97.9" y="139.4" width="1.2" height="1.2" fill="#176f33"/>
<rect x="109.3" y="133.7" width="1.2" height="1.2" fill="#176f33"/>
<rect x="104.4" y="119.4" width="1.2" height="1.2" fill="#176f33"/>
<rect x="104.0" y="123.2" width="1.2" height="1.2" fill="#176f33"/>
<rect x="106.9" y="119.1" width="1.2" height="1.2" fill="#176f33"/>
<rect x="103.2" y="123.5" width="1.2" height="1.2" fill="#176f33"/>
<rect x="107.0" y="139.4" width="1.2" height="1.2" fill="#176f33"/>
<polygon points="109.7,129.7 116.7,127.1 119.3,128.0 119.3,138.4 116.7,143.6 113.2,145.3 111.5,140.1 113.2,135.8 109.7,132.3" fill="#d7272b" stroke="#d7272b" stroke-width="0.9" stroke-linejoin="round"/>
<rect x="111.6" y="135.7" width="1.2" height="1.2" fill="#d7272b"/>
<rect x="111.2" y="137.6" width="1.2" height="1.2" fill="#d7272b"/>
<rect x="116.3" y="143.5" width="1.2" height="1.2" fill="#d7272b"/>
<rect x="112.7" y="134.1" width="1.2" height="1.2" fill="#d7272b"/>
<rect x="111.9" y="134.8" width="1.2" height="1.2" fill="#d7272b"/>
<rect x="109.4" y="131.2" width="1.2" height="1.2" fill="#d7272b"/>
<rect x="118.3" y="138.4" width="1.2" height="1.2" fill="#d7272b"/>
<rect x="110.3" y="128.2" width="1.2" height="1.2" fill="#d7272b"/>
<rect x="111.5" y="142.6" width="1.2" height="1.2" fill="#d7272b"/>
<rect x="108.4" y="131.7" width="1.2" height="1.2" fill="#d7272b"/>
<rect x="112.8" y="143.2" width="1.2" height="1.2" fill="#d7272b"/>
<rect x="108.8" y="131.9" width="1.2" height="1.2" fill="#d7272b"/>
<rect x="115.2" y="142.8" width="1.2" height="1.2" fill="#d7272b"/>
<rect x="117.8" y="139.4" width="1.2" height="1.2" fill="#d7272b"/>
<rect x="117.6" y="140.2" width="1.2" height="1.2" fill="#d7272b"/>
<rect x="115.9" y="142.3" width="1.2" height="1.2" fill="#d7272b"/>
<rect x="112.9" y="135.8" width="1.2" height="1.2" fill="#d7272b"/>
<rect x="111.3" y="134.4" width="1.2" height="1.2" fill="#d7272b"/>
<rect x="113.5" y="135.6" width="1.2" height="1.2" fill="#ffffff"/>
<rect x="114.5" y="138.9" width="1.2" height="1.2" fill="#ffffff"/>
<rect x="115.2" y="139.3" width="1.2" height="1.2" fill="#ffffff"/>
<rect x="113.3" y="132.7" width="1.2" height="1.2" fill="#ffffff"/>
<rect x="115.2" y="132.0" width="1.2" height="1.2" fill="#ffffff"/>
<rect x="113.7" y="137.3" width="1.2" height="1.2" fill="#ffffff"/>
<rect x="86.6" y="127.1" width="1.8" height="1.8" fill="#5b5d9f"/>
<rect x="87.6" y="126.7" width="1.8" height="1.8" fill="#5b5d9f"/>
<polygon points="137.5,106.6 142.2,108.5 148.8,112.2 154.5,116.0 161.0,114.1 165.7,114.1 169.5,118.8 170.0,122.6 164.8,120.7 158.2,121.6 149.8,123.5 143.2,119.8 138.5,114.1 137.1,109.4" fill="#e0338a" stroke="#e0338a" stroke-width="0.9" stroke-linejoin="round"/>
<rect x="159.4" y="120.7" width="1.2" height="1.2" fill="#e0338a"/>
<rect x="137.3" y="106.6" width="1.2" height="1.2" fill="#e0338a"/>
<rect x="164.4" y="113.9" width="1.2" height="1.2" fill="#e0338a"/>
<rect x="153.0" y="121.1" width="1.2" height="1.2" fill="#e0338a"/>
<rect x="168.2" y="117.4" width="1.2" height="1.2" fill="#e0338a"/>
<rect x="137.1" y="108.5" width="1.2" height="1.2" fill="#e0338a"/>
<rect x="160.7" y="113.1" width="1.2" height="1.2" fill="#e0338a"/>
<rect x="151.3" y="113.6" width="1.2" height="1.2" fill="#e0338a"/>
<rect x="165.2" y="120.4" width="1.2" height="1.2" fill="#e0338a"/>
<rect x="157.6" y="121.2" width="1.2" height="1.2" fill="#e0338a"/>
<rect x="139.4" y="107.1" width="1.2" height="1.2" fill="#e0338a"/>
<rect x="142.6" y="119.8" width="1.2" height="1.2" fill="#e0338a"/>
<rect x="144.4" y="109.3" width="1.2" height="1.2" fill="#e0338a"/>
<rect x="156.5" y="120.7" width="1.2" height="1.2" fill="#e0338a"/>
<rect x="146.5" y="109.7" width="1.2" height="1.2" fill="#e0338a"/>
<rect x="140.7" y="117.3" width="1.2" height="1.2" fill="#e0338a"/>
<rect x="139.5" y="114.7" width="1.2" height="1.2" fill="#e0338a"/>
<rect x="161.4" y="113.1" width="1.2" height="1.2" fill="#e0338a"/>
<rect x="162.5" y="113.2" width="1.2" height="1.2" fill="#e0338a"/>
<rect x="143.2" y="118.9" width="1.2" height="1.2" fill="#e0338a"/>
<rect x="159.7" y="113.8" width="1.2" height="1.2" fill="#e0338a"/>
<rect x="168.7" y="121.1" width="1.2" height="1.2" fill="#e0338a"/>
<rect x="169.2" y="119.7" width="1.2" height="1.2" fill="#e0338a"/>
<rect x="154.8" y="115.5" width="1.2" height="1.2" fill="#e0338a"/>
<rect x="164.3" y="119.4" width="1.2" height="1.2" fill="#e0338a"/>
<rect x="169.0" y="119.3" width="1.2" height="1.2" fill="#e0338a"/>
<rect x="157.8" y="114.2" width="1.2" height="1.2" fill="#e0338a"/>
<rect x="137.2" y="112.5" width="1.2" height="1.2" fill="#e0338a"/>
<rect x="156.4" y="116.1" width="1.2" height="1.2" fill="#ffffff"/>
<rect x="162.9" y="116.5" width="1.2" height="1.2" fill="#ffffff"/>
<rect x="159.3" y="117.2" width="1.2" height="1.2" fill="#ffffff"/>
<rect x="155.3" y="117.7" width="1.2" height="1.2" fill="#ffffff"/>
<rect x="161.3" y="114.8" width="1.2" height="1.2" fill="#ffffff"/>
<rect x="155.4" y="117.9" width="1.2" height="1.2" fill="#ffffff"/>
<rect x="157.2" y="117.4" width="1.2" height="1.2" fill="#ffffff"/>
<rect x="156.2" y="117.5" width="1.2" height="1.2" fill="#ffffff"/>
<rect x="159.8" y="115.1" width="1.2" height="1.2" fill="#ffffff"/>
<rect x="157.7" y="117.5" width="1.2" height="1.2" fill="#ffffff"/>
<polygon points="194.0,110.3 197.7,114.1 195.9,118.8 190.2,124.5 186.4,128.2 182.7,127.3 188.3,120.7 192.1,114.1" fill="#c6d8ef" stroke="#c6d8ef" stroke-width="0.9" stroke-linejoin="round"/>
<rect x="196.1" y="114.7" width="1.2" height="1.2" fill="#c6d8ef"/>
<rect x="196.3" y="115.8" width="1.2" height="1.2" fill="#c6d8ef"/>
<rect x="187.6" y="119.1" width="1.2" height="1.2" fill="#c6d8ef"/>
<rect x="196.4" y="117.2" width="1.2" height="1.2" fill="#c6d8ef"/>
<rect x="195.5" y="115.5" width="1.2" height="1.2" fill="#c6d8ef"/>
<rect x="183.7" y="126.7" width="1.2" height="1.2" fill="#c6d8ef"/>
<rect x="187.3" y="119.7" width="1.2" height="1.2" fill="#c6d8ef"/>
<rect x="189.2" y="123.6" width="1.2" height="1.2" fill="#c6d8ef"/>
<rect x="189.0" y="117.3" width="1.2" height="1.2" fill="#c6d8ef"/>
<rect x="188.5" y="120.7" width="1.2" height="1.2" fill="#c6d8ef"/>
<rect x="193.4" y="121.1" width="1.2" height="1.2" fill="#c6d8ef"/>
<rect x="187.4" y="120.1" width="1.2" height="1.2" fill="#c6d8ef"/>
<rect x="186.4" y="127.5" width="1.2" height="1.2" fill="#c6d8ef"/>
<rect x="193.1" y="111.6" width="1.2" height="1.2" fill="#c6d8ef"/>
<rect x="185.2" y="126.9" width="1.2" height="1.2" fill="#c6d8ef"/>
<rect x="192.6" y="111.2" width="1.2" height="1.2" fill="#c6d8ef"/>
<path d="M178.9,128.2 L176.0,133.0 L174.2,137.6 L172.8,144.2" fill="none" stroke="#5b5d9f" stroke-width="1.9" stroke-linecap="round" stroke-linejoin="round"/>
<polygon points="187.6,138.0 190.5,137.6 192.0,140.0 191.6,145.0 188.0,145.2 187.4,141.0" fill="#ffc20e" stroke="#ffc20e" stroke-width="0.9" stroke-linejoin="round"/>
<path d="M162.0,142.3 L163.5,146.0 L165.7,149.0" fill="none" stroke="#1cc6f0" stroke-width="2.5" stroke-linecap="round" stroke-linejoin="round"/>
<polygon points="162.9,149.9 167.6,149.9 173.3,148.0 176.6,149.9 176.1,155.5 171.4,160.2 165.7,160.2 162.9,156.4" fill="#1cc6f0" stroke="#1cc6f0" stroke-width="0.9" stroke-linejoin="round"/>
<rect x="176.6" y="152.3" width="1.2" height="1.2" fill="#1cc6f0"/>
<rect x="161.6" y="148.7" width="1.2" height="1.2" fill="#1cc6f0"/>
<rect x="170.7" y="147.9" width="1.2" height="1.2" fill="#1cc6f0"/>
<rect x="175.3" y="148.6" width="1.2" height="1.2" fill="#1cc6f0"/>
<rect x="172.9" y="157.9" width="1.2" height="1.2" fill="#1cc6f0"/>
<rect x="167.3" y="149.0" width="1.2" height="1.2" fill="#1cc6f0"/>
<rect x="162.3" y="152.3" width="1.2" height="1.2" fill="#1cc6f0"/>
<rect x="171.9" y="157.4" width="1.2" height="1.2" fill="#1cc6f0"/>
<rect x="164.0" y="159.0" width="1.2" height="1.2" fill="#1cc6f0"/>
<rect x="172.9" y="158.4" width="1.2" height="1.2" fill="#1cc6f0"/>
<rect x="164.0" y="150.1" width="1.2" height="1.2" fill="#1cc6f0"/>
<rect x="163.1" y="157.7" width="1.2" height="1.2" fill="#1cc6f0"/>
<rect x="162.7" y="153.6" width="1.2" height="1.2" fill="#1cc6f0"/>
<rect x="163.0" y="148.4" width="1.2" height="1.2" fill="#1cc6f0"/>
<rect x="162.9" y="150.0" width="1.2" height="1.2" fill="#1cc6f0"/>
<rect x="163.9" y="148.8" width="1.2" height="1.2" fill="#1cc6f0"/>
<rect x="171.9" y="140.5" width="1.8" height="1.8" fill="#1cc6f0"/>
<rect x="171.7" y="142.1" width="1.8" height="1.8" fill="#1cc6f0"/>
<path d="M285.6,13.6 L288.0,19.0 L290.6,24.8" fill="none" stroke="#f8c6ee" stroke-width="1.6" stroke-linecap="round" stroke-linejoin="round"/>
<path d="M234.8,36.8 L236.0,42.0 L237.0,46.0 L237.8,51.7" fill="none" stroke="#f4a09c" stroke-width="1.5" stroke-linecap="round" stroke-linejoin="round"/>
<rect x="238.8" y="49.3" width="1.4" height="1.4" fill="#f4a09c"/>
<rect x="241.3" y="48.8" width="1.4" height="1.4" fill="#f4a09c"/>
<rect x="243.8" y="47.8" width="1.4" height="1.4" fill="#f4a09c"/>
<ellipse cx="248.4" cy="47.6" rx="2.2" ry="1.7" fill="#22e22a" transform="rotate(0 248.4 47.6)"/>
<ellipse cx="236.5" cy="59.3" rx="2.0" ry="3.2" fill="#f6c18d" transform="rotate(15 236.5 59.3)"/>
<rect x="237.2" y="63.7" width="1.6" height="1.6" fill="#99c31f"/>
<rect x="232.9" y="83.9" width="1.8" height="1.8" fill="#0b0b3b"/>
<rect x="234.5" y="83.4" width="1.8" height="1.8" fill="#0b0b3b"/>
<polygon points="255.8,78.5 259.5,77.0 263.3,78.5 262.0,84.0 260.0,88.8 256.5,88.0 255.4,83.0" fill="#6cbd9b" stroke="#6cbd9b" stroke-width="0.9" stroke-linejoin="round"/>
<rect x="261.2" y="81.9" width="1.2" height="1.2" fill="#6cbd9b"/>
<rect x="254.7" y="78.8" width="1.2" height="1.2" fill="#6cbd9b"/>
<rect x="257.6" y="87.8" width="1.2" height="1.2" fill="#6cbd9b"/>
<rect x="259.0" y="77.4" width="1.2" height="1.2" fill="#6cbd9b"/>
<rect x="259.0" y="76.7" width="1.2" height="1.2" fill="#6cbd9b"/>
<rect x="257.1" y="78.3" width="1.2" height="1.2" fill="#6cbd9b"/>
<rect x="256.3" y="76.9" width="1.2" height="1.2" fill="#6cbd9b"/>
<rect x="258.5" y="88.9" width="1.2" height="1.2" fill="#6cbd9b"/>
<rect x="259.5" y="75.7" width="1.2" height="1.2" fill="#6cbd9b"/>
<rect x="256.1" y="75.9" width="1.2" height="1.2" fill="#6cbd9b"/>
<rect x="260.9" y="77.9" width="1.2" height="1.2" fill="#6cbd9b"/>
<rect x="260.1" y="85.7" width="1.2" height="1.2" fill="#6cbd9b"/>
<rect x="255.6" y="80.5" width="1.2" height="1.2" fill="#6cbd9b"/>
<rect x="263.0" y="81.4" width="1.2" height="1.2" fill="#6cbd9b"/>
<rect x="260.8" y="81.3" width="1.2" height="1.2" fill="#6cbd9b"/>
<rect x="260.9" y="77.5" width="1.2" height="1.2" fill="#6cbd9b"/>
<rect x="257.7" y="76.6" width="1.2" height="1.2" fill="#6cbd9b"/>
<rect x="254.7" y="79.0" width="1.2" height="1.2" fill="#6cbd9b"/>
<rect x="258.4" y="86.7" width="1.2" height="1.2" fill="#6cbd9b"/>
<rect x="258.6" y="76.9" width="1.2" height="1.2" fill="#6cbd9b"/>
<rect x="257.4" y="77.0" width="1.2" height="1.2" fill="#6cbd9b"/>
<rect x="254.4" y="83.0" width="1.2" height="1.2" fill="#6cbd9b"/>
<rect x="256.7" y="85.3" width="1.2" height="1.2" fill="#6cbd9b"/>
<rect x="257.8" y="88.8" width="1.2" height="1.2" fill="#6cbd9b"/>
<rect x="261.4" y="78.6" width="1.2" height="1.2" fill="#6cbd9b"/>
<path d="M261.0,78.0 L265.0,76.5 L268.6,75.7" fill="none" stroke="#6cbd9b" stroke-width="1.2" stroke-linecap="round" stroke-linejoin="round"/>
<polygon points="216.2,98.0 220.0,96.5 224.0,99.0 224.9,103.0 220.0,103.5 216.5,101.0" fill="#d1b2dc" stroke="#d1b2dc" stroke-width="0.9" stroke-linejoin="round"/>
<rect x="223.8" y="102.6" width="1.2" height="1.2" fill="#d1b2dc"/>
<rect x="223.6" y="97.4" width="1.2" height="1.2" fill="#d1b2dc"/>
<rect x="219.9" y="102.6" width="1.2" height="1.2" fill="#d1b2dc"/>
<rect x="219.2" y="95.6" width="1.2" height="1.2" fill="#d1b2dc"/>
<rect x="220.2" y="95.2" width="1.2" height="1.2" fill="#d1b2dc"/>
<rect x="223.2" y="98.1" width="1.2" height="1.2" fill="#d1b2dc"/>
<rect x="217.4" y="103.0" width="1.2" height="1.2" fill="#d1b2dc"/>
<rect x="217.7" y="101.2" width="1.2" height="1.2" fill="#d1b2dc"/>
<rect x="215.4" y="97.8" width="1.2" height="1.2" fill="#d1b2dc"/>
<rect x="217.2" y="95.9" width="1.2" height="1.2" fill="#d1b2dc"/>
<path d="M224.4,94.3 L227.0,91.7" fill="none" stroke="#d1b2dc" stroke-width="1.3" stroke-linecap="round" stroke-linejoin="round"/>
<rect x="221.0" y="97.1" width="1.6" height="1.6" fill="#1a4ea0"/>
<path d="M364.1,67.6 L363.0,76.0 L362.4,84.6" fill="none" stroke="#a5f1f8" stroke-width="1.3" stroke-linecap="round" stroke-linejoin="round"/>
<path d="M335.5,63.5 L342.9,64.0" fill="none" stroke="#a5f1f8" stroke-width="1.2" stroke-linecap="round" stroke-linejoin="round"/>
<path d="M300.4,167.5 L303.5,171.5 L306.8,176.0" fill="none" stroke="#6b6b18" stroke-width="1.8" stroke-linecap="round" stroke-linejoin="round"/>
<path d="M282.5,43.5 L277.7,46.4 L275.0,52.2 L276.8,57.0 L279.7,59.9" fill="none" stroke="#1a4ea0" stroke-width="3.6" stroke-linecap="round" stroke-linejoin="round"/>
<polygon points="282.5,42.5 289.3,38.7 300.9,36.3 311.5,36.8 314.4,40.6 312.5,45.4 306.7,48.3 302.8,52.2 300.9,56.1 295.1,60.9 292.2,59.9 289.3,53.2 285.4,49.3" fill="#d9541e" stroke="#d9541e" stroke-width="0.9" stroke-linejoin="round"/>
<rect x="311.5" y="38.1" width="1.2" height="1.2" fill="#d9541e"/>
<rect x="288.1" y="37.4" width="1.2" height="1.2" fill="#d9541e"/>
<rect x="307.6" y="46.1" width="1.2" height="1.2" fill="#d9541e"/>
<rect x="305.1" y="48.0" width="1.2" height="1.2" fill="#d9541e"/>
<rect x="308.5" y="46.2" width="1.2" height="1.2" fill="#d9541e"/>
<rect x="300.9" y="52.8" width="1.2" height="1.2" fill="#d9541e"/>
<rect x="286.9" y="51.9" width="1.2" height="1.2" fill="#d9541e"/>
<rect x="305.2" y="36.8" width="1.2" height="1.2" fill="#d9541e"/>
<rect x="311.1" y="44.4" width="1.2" height="1.2" fill="#d9541e"/>
<rect x="298.8" y="56.2" width="1.2" height="1.2" fill="#d9541e"/>
<rect x="313.5" y="42.2" width="1.2" height="1.2" fill="#d9541e"/>
<rect x="312.9" y="37.9" width="1.2" height="1.2" fill="#d9541e"/>
<rect x="313.2" y="39.0" width="1.2" height="1.2" fill="#d9541e"/>
<rect x="313.8" y="39.7" width="1.2" height="1.2" fill="#d9541e"/>
<rect x="311.5" y="37.4" width="1.2" height="1.2" fill="#d9541e"/>
<rect x="287.2" y="38.3" width="1.2" height="1.2" fill="#d9541e"/>
<rect x="291.6" y="60.1" width="1.2" height="1.2" fill="#d9541e"/>
<rect x="306.1" y="47.1" width="1.2" height="1.2" fill="#d9541e"/>
<rect x="312.0" y="38.0" width="1.2" height="1.2" fill="#d9541e"/>
<rect x="292.0" y="59.7" width="1.2" height="1.2" fill="#d9541e"/>
<rect x="283.5" y="43.6" width="1.2" height="1.2" fill="#d9541e"/>
<rect x="303.5" y="50.7" width="1.2" height="1.2" fill="#d9541e"/>
<rect x="305.1" y="35.2" width="1.2" height="1.2" fill="#d9541e"/>
<rect x="287.0" y="51.9" width="1.2" height="1.2" fill="#d9541e"/>
<rect x="289.0" y="51.1" width="1.2" height="1.2" fill="#d9541e"/>
<rect x="292.4" y="58.8" width="1.2" height="1.2" fill="#d9541e"/>
<polygon points="311.5,36.8 320.2,38.2 327.9,43.5 332.7,51.2 333.7,61.9 335.6,72.5 337.6,78.3 336.6,83.1 329.8,83.1 327.9,79.2 331.8,75.4 327.9,70.5 326.0,61.9 320.2,54.1 315.4,49.3 312.5,43.5" fill="#99c31f" stroke="#99c31f" stroke-width="0.9" stroke-linejoin="round"/>
<rect x="311.0" y="38.6" width="1.2" height="1.2" fill="#99c31f"/>
<rect x="333.7" y="61.9" width="1.2" height="1.2" fill="#99c31f"/>
<rect x="333.4" y="56.1" width="1.2" height="1.2" fill="#99c31f"/>
<rect x="335.7" y="81.2" width="1.2" height="1.2" fill="#99c31f"/>
<rect x="329.7" y="76.4" width="1.2" height="1.2" fill="#99c31f"/>
<rect x="314.8" y="49.9" width="1.2" height="1.2" fill="#99c31f"/>
<rect x="313.4" y="44.9" width="1.2" height="1.2" fill="#99c31f"/>
<rect x="334.2" y="66.1" width="1.2" height="1.2" fill="#99c31f"/>
<rect x="312.7" y="44.7" width="1.2" height="1.2" fill="#99c31f"/>
<rect x="333.4" y="63.5" width="1.2" height="1.2" fill="#99c31f"/>
<rect x="322.1" y="39.4" width="1.2" height="1.2" fill="#99c31f"/>
<rect x="332.2" y="59.5" width="1.2" height="1.2" fill="#99c31f"/>
<rect x="325.6" y="41.8" width="1.2" height="1.2" fill="#99c31f"/>
<rect x="329.6" y="46.3" width="1.2" height="1.2" fill="#99c31f"/>
<rect x="336.2" y="81.1" width="1.2" height="1.2" fill="#99c31f"/>
<rect x="310.9" y="39.5" width="1.2" height="1.2" fill="#99c31f"/>
<rect x="328.2" y="78.4" width="1.2" height="1.2" fill="#99c31f"/>
<rect x="313.7" y="47.8" width="1.2" height="1.2" fill="#99c31f"/>
<rect x="330.4" y="47.6" width="1.2" height="1.2" fill="#99c31f"/>
<rect x="331.1" y="75.0" width="1.2" height="1.2" fill="#99c31f"/>
<rect x="327.7" y="69.5" width="1.2" height="1.2" fill="#99c31f"/>
<rect x="330.2" y="83.2" width="1.2" height="1.2" fill="#99c31f"/>
<rect x="337.6" y="77.0" width="1.2" height="1.2" fill="#99c31f"/>
<rect x="314.7" y="48.6" width="1.2" height="1.2" fill="#99c31f"/>
<rect x="327.1" y="66.3" width="1.2" height="1.2" fill="#99c31f"/>
<rect x="312.7" y="45.8" width="1.2" height="1.2" fill="#99c31f"/>
<rect x="328.5" y="77.5" width="1.2" height="1.2" fill="#99c31f"/>
<rect x="328.7" y="82.1" width="1.2" height="1.2" fill="#99c31f"/>
<rect x="326.0" y="42.9" width="1.2" height="1.2" fill="#99c31f"/>
<rect x="315.8" y="50.2" width="1.2" height="1.2" fill="#99c31f"/>
<rect x="325.3" y="60.3" width="1.2" height="1.2" fill="#99c31f"/>
<rect x="330.1" y="74.7" width="1.2" height="1.2" fill="#99c31f"/>
<path d="M281.6,63.3 L284.5,68.6 L287.5,72.5 L288.6,75.5" fill="none" stroke="#99c31f" stroke-width="2.2" stroke-linecap="round" stroke-linejoin="round"/>
<rect x="287.5" y="77.5" width="1.6" height="1.6" fill="#ffc20e"/>
<polygon points="302.8,49.3 311.5,45.4 315.4,51.2 322.1,56.1 326.0,63.8 320.2,68.6 311.5,67.6 306.7,61.9" fill="#7459b0" stroke="#7459b0" stroke-width="0.9" stroke-linejoin="round"/>
<rect x="306.2" y="61.0" width="1.2" height="1.2" fill="#7459b0"/>
<rect x="313.3" y="50.1" width="1.2" height="1.2" fill="#7459b0"/>
<rect x="311.3" y="45.5" width="1.2" height="1.2" fill="#7459b0"/>
<rect x="306.0" y="61.1" width="1.2" height="1.2" fill="#7459b0"/>
<rect x="326.0" y="62.3" width="1.2" height="1.2" fill="#7459b0"/>
<rect x="315.8" y="51.2" width="1.2" height="1.2" fill="#7459b0"/>
<rect x="322.6" y="57.2" width="1.2" height="1.2" fill="#7459b0"/>
<rect x="313.5" y="66.4" width="1.2" height="1.2" fill="#7459b0"/>
<rect x="308.7" y="45.3" width="1.2" height="1.2" fill="#7459b0"/>
<rect x="305.0" y="58.5" width="1.2" height="1.2" fill="#7459b0"/>
<rect x="307.8" y="64.0" width="1.2" height="1.2" fill="#7459b0"/>
<rect x="322.3" y="66.2" width="1.2" height="1.2" fill="#7459b0"/>
<rect x="317.2" y="51.8" width="1.2" height="1.2" fill="#7459b0"/>
<rect x="315.1" y="51.4" width="1.2" height="1.2" fill="#7459b0"/>
<rect x="309.4" y="66.7" width="1.2" height="1.2" fill="#7459b0"/>
<rect x="322.3" y="65.3" width="1.2" height="1.2" fill="#7459b0"/>
<rect x="311.6" y="57.1" width="1.2" height="1.2" fill="#ffffff"/>
<rect x="309.4" y="58.0" width="1.2" height="1.2" fill="#ffffff"/>
<rect x="313.3" y="64.2" width="1.2" height="1.2" fill="#ffffff"/>
<rect x="313.3" y="54.7" width="1.2" height="1.2" fill="#ffffff"/>
<rect x="320.0" y="56.6" width="1.2" height="1.2" fill="#ffffff"/>
<rect x="311.6" y="57.8" width="1.2" height="1.2" fill="#ffffff"/>
<rect x="310.4" y="57.2" width="1.2" height="1.2" fill="#ffffff"/>
<rect x="317.3" y="56.9" width="1.2" height="1.2" fill="#ffffff"/>
<rect x="318.7" y="55.3" width="1.2" height="1.2" fill="#ffffff"/>
<rect x="319.2" y="55.8" width="1.2" height="1.2" fill="#ffffff"/>
<rect x="316.4" y="58.3" width="1.2" height="1.2" fill="#ffffff"/>
<rect x="313.0" y="60.7" width="1.2" height="1.2" fill="#ffffff"/>
<rect x="310.4" y="64.0" width="1.2" height="1.2" fill="#ffffff"/>
<rect x="319.6" y="56.0" width="1.2" height="1.2" fill="#ffffff"/>
<polygon points="317.3,69.6 322.1,66.7 327.9,68.6 328.9,71.5 324.1,70.5 320.2,76.3 318.3,82.1 314.4,82.1 317.3,75.4" fill="#f22ae6" stroke="#f22ae6" stroke-width="0.9" stroke-linejoin="round"/>
<rect x="315.1" y="81.5" width="1.2" height="1.2" fill="#f22ae6"/>
<rect x="320.9" y="73.3" width="1.2" height="1.2" fill="#f22ae6"/>
<rect x="317.1" y="71.7" width="1.2" height="1.2" fill="#f22ae6"/>
<rect x="328.7" y="70.8" width="1.2" height="1.2" fill="#f22ae6"/>
<rect x="320.8" y="67.3" width="1.2" height="1.2" fill="#f22ae6"/>
<rect x="327.1" y="71.1" width="1.2" height="1.2" fill="#f22ae6"/>
<rect x="323.6" y="66.0" width="1.2" height="1.2" fill="#f22ae6"/>
<rect x="320.0" y="67.2" width="1.2" height="1.2" fill="#f22ae6"/>
<polygon points="307.6,81.2 314.4,75.4 317.3,77.3 311.5,83.1 307.6,83.1" fill="#8c3516" stroke="#8c3516" stroke-width="0.9" stroke-linejoin="round"/>
<rect x="309.3" y="78.7" width="1.2" height="1.2" fill="#8c3516"/>
<rect x="307.0" y="82.8" width="1.2" height="1.2" fill="#8c3516"/>
<rect x="309.2" y="82.1" width="1.2" height="1.2" fill="#8c3516"/>
<rect x="314.7" y="75.2" width="1.2" height="1.2" fill="#8c3516"/>
<rect x="311.3" y="82.1" width="1.2" height="1.2" fill="#8c3516"/>
<rect x="311.5" y="76.3" width="1.2" height="1.2" fill="#8c3516"/>
<rect x="268.2" y="106.7" width="1.6" height="1.6" fill="#c3e3bc"/>
<rect x="272.4" y="107.1" width="1.6" height="1.6" fill="#c3e3bc"/>
<rect x="271.2" y="104.8" width="1.6" height="1.6" fill="#c3e3bc"/>
<rect x="267.6" y="106.9" width="1.6" height="1.6" fill="#c3e3bc"/>
<rect x="271.9" y="110.2" width="1.6" height="1.6" fill="#c3e3bc"/>
<rect x="271.9" y="107.0" width="1.6" height="1.6" fill="#c3e3bc"/>
<rect x="270.8" y="108.4" width="1.6" height="1.6" fill="#c3e3bc"/>
<rect x="270.5" y="105.6" width="1.6" height="1.6" fill="#c3e3bc"/>
<rect x="273.5" y="106.3" width="1.6" height="1.6" fill="#c3e3bc"/>
<rect x="274.0" y="112.2" width="1.6" height="1.6" fill="#c3e3bc"/>
<rect x="267.3" y="108.4" width="1.6" height="1.6" fill="#c3e3bc"/>
<rect x="272.9" y="112.4" width="1.6" height="1.6" fill="#c3e3bc"/>
<rect x="270.3" y="106.8" width="1.6" height="1.6" fill="#c3e3bc"/>
<rect x="268.7" y="112.3" width="1.6" height="1.6" fill="#c3e3bc"/>
<polygon points="269.5,106.0 273.0,105.6 274.5,110.0 272.0,113.5 269.5,112.0" fill="#c3e3bc" stroke="#c3e3bc" stroke-width="0.9" stroke-linejoin="round"/>
<rect x="275.2" y="103.9" width="1.4" height="1.4" fill="#c3e3bc"/>
<rect x="282.9" y="105.4" width="1.4" height="1.4" fill="#c3e3bc"/>
<rect x="280.4" y="110.6" width="1.4" height="1.4" fill="#c3e3bc"/>
<rect x="274.0" y="114.0" width="1.8" height="1.8" fill="#99c31f"/>
<rect x="273.0" y="118.6" width="1.8" height="1.8" fill="#99c31f"/>
<rect x="270.4" y="118.1" width="1.8" height="1.8" fill="#176f33"/>
<polygon points="249.0,136.0 252.0,132.5 255.0,130.0 258.0,133.0 262.0,134.0 265.5,137.5 263.0,142.5 258.0,143.5 252.0,142.0 249.0,139.5" fill="#17989b" stroke="#17989b" stroke-width="0.9" stroke-linejoin="round"/>
<rect x="256.4" y="133.3" width="1.2" height="1.2" fill="#17989b"/>
<rect x="263.6" y="137.8" width="1.2" height="1.2" fill="#17989b"/>
<rect x="249.3" y="140.3" width="1.2" height="1.2" fill="#17989b"/>
<rect x="252.0" y="140.0" width="1.2" height="1.2" fill="#17989b"/>
<rect x="251.8" y="131.8" width="1.2" height="1.2" fill="#17989b"/>
<rect x="255.3" y="129.4" width="1.2" height="1.2" fill="#17989b"/>
<rect x="265.7" y="138.0" width="1.2" height="1.2" fill="#17989b"/>
<rect x="253.2" y="128.0" width="1.2" height="1.2" fill="#17989b"/>
<rect x="260.9" y="133.9" width="1.2" height="1.2" fill="#17989b"/>
<rect x="249.8" y="139.5" width="1.2" height="1.2" fill="#17989b"/>
<rect x="247.8" y="134.9" width="1.2" height="1.2" fill="#17989b"/>
<rect x="254.4" y="130.2" width="1.2" height="1.2" fill="#17989b"/>
<rect x="261.4" y="132.9" width="1.2" height="1.2" fill="#17989b"/>
<rect x="251.3" y="133.9" width="1.2" height="1.2" fill="#17989b"/>
<rect x="250.5" y="138.6" width="1.2" height="1.2" fill="#17989b"/>
<rect x="261.0" y="142.8" width="1.2" height="1.2" fill="#17989b"/>
<rect x="264.4" y="135.3" width="1.2" height="1.2" fill="#17989b"/>
<rect x="255.3" y="130.2" width="1.2" height="1.2" fill="#17989b"/>
<rect x="262.0" y="134.8" width="1.2" height="1.2" fill="#17989b"/>
<rect x="262.3" y="140.7" width="1.2" height="1.2" fill="#17989b"/>
<rect x="248.7" y="138.2" width="1.2" height="1.2" fill="#17989b"/>
<rect x="262.2" y="140.7" width="1.2" height="1.2" fill="#17989b"/>
<rect x="257.3" y="132.8" width="1.2" height="1.2" fill="#17989b"/>
<rect x="263.5" y="138.3" width="1.2" height="1.2" fill="#17989b"/>
<rect x="250.4" y="132.5" width="1.2" height="1.2" fill="#17989b"/>
<rect x="250.0" y="141.7" width="1.2" height="1.2" fill="#17989b"/>
<rect x="257.2" y="141.3" width="1.2" height="1.2" fill="#17989b"/>
<rect x="250.7" y="141.2" width="1.2" height="1.2" fill="#17989b"/>
<rect x="251.4" y="130.9" width="1.2" height="1.2" fill="#17989b"/>
<rect x="254.2" y="143.3" width="1.2" height="1.2" fill="#17989b"/>
<rect x="248.5" y="135.8" width="1.2" height="1.2" fill="#17989b"/>
<rect x="251.6" y="140.1" width="1.2" height="1.2" fill="#17989b"/>
<rect x="250.3" y="138.5" width="1.2" height="1.2" fill="#17989b"/>
<rect x="251.0" y="132.9" width="1.2" height="1.2" fill="#17989b"/>
<rect x="254.9" y="130.0" width="1.2" height="1.2" fill="#17989b"/>
<rect x="257.8" y="141.2" width="1.2" height="1.2" fill="#17989b"/>
<rect x="256.4" y="130.6" width="1.2" height="1.2" fill="#17989b"/>
<rect x="265.2" y="136.9" width="1.2" height="1.2" fill="#17989b"/>
<rect x="257.7" y="141.2" width="1.2" height="1.2" fill="#17989b"/>
<rect x="247.6" y="138.3" width="1.2" height="1.2" fill="#17989b"/>
<path d="M265.6,136.5 L270.8,135.5 L274.9,132.4" fill="none" stroke="#176f33" stroke-width="1.4" stroke-linecap="round" stroke-linejoin="round"/>
<path d="M269.5,136.0 L269.7,140.6" fill="none" stroke="#176f33" stroke-width="1.4" stroke-linecap="round" stroke-linejoin="round"/>
<rect x="273.1" y="129.2" width="1.6" height="1.6" fill="#176f33"/>
<rect x="270.6" y="137.2" width="1.6" height="1.6" fill="#176f33"/>
<rect x="268.0" y="131.7" width="1.6" height="1.6" fill="#176f33"/>
<rect x="273.6" y="131.1" width="1.6" height="1.6" fill="#176f33"/>
<rect x="270.5" y="133.6" width="1.6" height="1.6" fill="#176f33"/>
<rect x="265.5" y="132.5" width="1.6" height="1.6" fill="#176f33"/>
<rect x="271.7" y="129.6" width="1.6" height="1.6" fill="#176f33"/>
<rect x="267.1" y="136.3" width="1.6" height="1.6" fill="#176f33"/>
<rect x="271.7" y="129.8" width="1.6" height="1.6" fill="#176f33"/>
<rect x="267.5" y="132.6" width="1.6" height="1.6" fill="#176f33"/>
<rect x="275.1" y="133.1" width="1.6" height="1.6" fill="#d7272b"/>
<rect x="280.3" y="135.7" width="1.6" height="1.6" fill="#d7272b"/>
<rect x="280.3" y="137.2" width="1.6" height="1.6" fill="#d7272b"/>
<rect x="274.6" y="141.9" width="1.6" height="1.6" fill="#d7272b"/>
<rect x="271.5" y="143.5" width="1.8" height="1.8" fill="#dcdcec"/>
<rect x="275.4" y="145.3" width="1.8" height="1.8" fill="#dcdcec"/>
<rect x="271.4" y="142.8" width="1.8" height="1.8" fill="#dcdcec"/>
<rect x="267.2" y="141.9" width="1.8" height="1.8" fill="#dcdcec"/>
<rect x="277.2" y="140.1" width="1.8" height="1.8" fill="#dcdcec"/>
<rect x="273.0" y="141.2" width="1.8" height="1.8" fill="#dcdcec"/>
<rect x="276.3" y="141.2" width="1.8" height="1.8" fill="#dcdcec"/>
<rect x="272.7" y="141.7" width="1.8" height="1.8" fill="#dcdcec"/>
<rect x="277.8" y="140.5" width="1.8" height="1.8" fill="#dcdcec"/>
<rect x="274.6" y="144.5" width="1.8" height="1.8" fill="#dcdcec"/>
<rect x="277.9" y="143.5" width="1.8" height="1.8" fill="#dcdcec"/>
<rect x="278.0" y="140.1" width="1.8" height="1.8" fill="#dcdcec"/>
<rect x="274.2" y="147.0" width="1.8" height="1.8" fill="#dcdcec"/>
<rect x="267.8" y="139.8" width="1.8" height="1.8" fill="#dcdcec"/>
<rect x="274.3" y="142.9" width="1.8" height="1.8" fill="#dcdcec"/>
<rect x="275.6" y="141.1" width="1.8" height="1.8" fill="#dcdcec"/>
<rect x="272.5" y="145.3" width="1.8" height="1.8" fill="#dcdcec"/>
<rect x="270.9" y="140.5" width="1.8" height="1.8" fill="#dcdcec"/>
<polygon points="303.7,106.8 307.5,107.7 314.3,112.5 320.1,117.4 324.0,113.5 328.8,113.5 333.6,117.4 335.5,121.2 335.5,123.2 331.7,122.2 325.9,121.2 318.2,122.7 311.4,120.3 305.6,115.4 303.2,109.7" fill="#e0338a" stroke="#e0338a" stroke-width="0.9" stroke-linejoin="round"/>
<rect x="312.9" y="111.0" width="1.2" height="1.2" fill="#e0338a"/>
<rect x="302.8" y="107.2" width="1.2" height="1.2" fill="#e0338a"/>
<rect x="314.8" y="120.9" width="1.2" height="1.2" fill="#e0338a"/>
<rect x="313.6" y="111.7" width="1.2" height="1.2" fill="#e0338a"/>
<rect x="334.1" y="121.3" width="1.2" height="1.2" fill="#e0338a"/>
<rect x="321.5" y="115.0" width="1.2" height="1.2" fill="#e0338a"/>
<rect x="307.5" y="117.5" width="1.2" height="1.2" fill="#e0338a"/>
<rect x="330.7" y="114.7" width="1.2" height="1.2" fill="#e0338a"/>
<rect x="310.7" y="119.8" width="1.2" height="1.2" fill="#e0338a"/>
<rect x="307.0" y="116.4" width="1.2" height="1.2" fill="#e0338a"/>
<rect x="335.7" y="120.3" width="1.2" height="1.2" fill="#e0338a"/>
<rect x="317.4" y="121.7" width="1.2" height="1.2" fill="#e0338a"/>
<rect x="333.0" y="116.2" width="1.2" height="1.2" fill="#e0338a"/>
<rect x="313.7" y="120.1" width="1.2" height="1.2" fill="#e0338a"/>
<rect x="313.2" y="120.5" width="1.2" height="1.2" fill="#e0338a"/>
<rect x="306.6" y="107.2" width="1.2" height="1.2" fill="#e0338a"/>
<rect x="334.7" y="122.1" width="1.2" height="1.2" fill="#e0338a"/>
<rect x="333.9" y="119.9" width="1.2" height="1.2" fill="#e0338a"/>
<rect x="306.6" y="107.5" width="1.2" height="1.2" fill="#e0338a"/>
<rect x="309.4" y="119.6" width="1.2" height="1.2" fill="#e0338a"/>
<rect x="335.4" y="120.6" width="1.2" height="1.2" fill="#e0338a"/>
<rect x="320.4" y="115.1" width="1.2" height="1.2" fill="#e0338a"/>
<rect x="325.1" y="120.3" width="1.2" height="1.2" fill="#e0338a"/>
<rect x="335.6" y="119.7" width="1.2" height="1.2" fill="#e0338a"/>
<rect x="308.2" y="109.0" width="1.2" height="1.2" fill="#e0338a"/>
<rect x="334.2" y="120.9" width="1.2" height="1.2" fill="#e0338a"/>
<rect x="303.4" y="107.8" width="1.2" height="1.2" fill="#e0338a"/>
<rect x="320.0" y="121.4" width="1.2" height="1.2" fill="#e0338a"/>
<rect x="325.9" y="113.3" width="1.2" height="1.2" fill="#e0338a"/>
<rect x="320.6" y="114.6" width="1.2" height="1.2" fill="#e0338a"/>
<rect x="326.3" y="117.6" width="1.2" height="1.2" fill="#ffffff"/>
<rect x="325.8" y="115.1" width="1.2" height="1.2" fill="#ffffff"/>
<rect x="326.2" y="115.6" width="1.2" height="1.2" fill="#ffffff"/>
<rect x="327.5" y="116.8" width="1.2" height="1.2" fill="#ffffff"/>
<rect x="325.4" y="116.3" width="1.2" height="1.2" fill="#ffffff"/>
<rect x="325.1" y="114.9" width="1.2" height="1.2" fill="#ffffff"/>
<path d="M334.8,123.5 L334.8,126.5" fill="none" stroke="#1cc6f0" stroke-width="2.4" stroke-linecap="round" stroke-linejoin="round"/>
<polygon points="356.8,109.7 362.6,110.6 364.5,116.4 360.6,122.2 354.8,127.0 353.9,132.8 352.0,133.8 351.0,127.0 352.9,123.2 356.8,119.3 357.7,113.5" fill="#c6d8ef" stroke="#c6d8ef" stroke-width="0.9" stroke-linejoin="round"/>
<rect x="355.9" y="124.8" width="1.2" height="1.2" fill="#c6d8ef"/>
<rect x="353.2" y="127.9" width="1.2" height="1.2" fill="#c6d8ef"/>
<rect x="355.6" y="117.6" width="1.2" height="1.2" fill="#c6d8ef"/>
<rect x="361.7" y="118.9" width="1.2" height="1.2" fill="#c6d8ef"/>
<rect x="357.0" y="109.4" width="1.2" height="1.2" fill="#c6d8ef"/>
<rect x="359.5" y="121.0" width="1.2" height="1.2" fill="#c6d8ef"/>
<rect x="354.6" y="127.4" width="1.2" height="1.2" fill="#c6d8ef"/>
<rect x="360.8" y="109.6" width="1.2" height="1.2" fill="#c6d8ef"/>
<rect x="355.9" y="117.4" width="1.2" height="1.2" fill="#c6d8ef"/>
<rect x="354.0" y="121.2" width="1.2" height="1.2" fill="#c6d8ef"/>
<rect x="352.1" y="133.5" width="1.6" height="1.6" fill="#ffc20e"/>
<rect x="354.0" y="134.9" width="1.6" height="1.6" fill="#ffc20e"/>
<rect x="356.0" y="138.3" width="1.6" height="1.6" fill="#ffc20e"/>
<rect x="354.5" y="140.7" width="1.6" height="1.6" fill="#ffc20e"/>
<rect x="353.0" y="125.2" width="1.6" height="1.6" fill="#ffc20e"/>
<rect x="347.8" y="126.7" width="1.6" height="1.6" fill="#176f33"/>
<rect x="360.8" y="115.1" width="1.6" height="1.6" fill="#176f33"/>
<path d="M339.9,138.6 L339.4,143.4" fill="none" stroke="#5b5d9f" stroke-width="1.5" stroke-linecap="round" stroke-linejoin="round"/>
<rect x="329.8" y="143.5" width="1.8" height="1.8" fill="#1cc6f0"/>
<rect x="330.8" y="146.4" width="1.8" height="1.8" fill="#1cc6f0"/>
<rect x="332.7" y="148.3" width="1.8" height="1.8" fill="#1cc6f0"/>
<rect x="330.3" y="151.2" width="1.8" height="1.8" fill="#1cc6f0"/>
<rect x="337.5" y="153.2" width="1.8" height="1.8" fill="#1cc6f0"/>
<rect x="335.6" y="155.1" width="1.8" height="1.8" fill="#1cc6f0"/>
<rect x="333.7" y="157.0" width="1.8" height="1.8" fill="#1cc6f0"/>
<rect x="340.4" y="149.8" width="1.8" height="1.8" fill="#1cc6f0"/>
<rect x="338.6" y="143.1" width="1.8" height="1.8" fill="#1cc6f0"/>
<ellipse cx="337.5" cy="154.1" rx="3" ry="2.2" fill="#1cc6f0" transform="rotate(-30 337.5 154.1)"/>
<path d="M494.5,15.0 L496.0,20.0 L497.8,26.2" fill="none" stroke="#f8c6ee" stroke-width="1.6" stroke-linecap="round" stroke-linejoin="round"/>
<path d="M440.8,35.2 L442.2,40.0 L443.4,45.0 L444.5,50.0" fill="none" stroke="#f4a09c" stroke-width="2.4" stroke-linecap="round" stroke-linejoin="round"/>
<ellipse cx="441.2" cy="36.5" rx="1.8" ry="2.2" fill="#f4a09c" transform="rotate(0 441.2 36.5)"/>
<polygon points="449.7,48.2 451.9,46.4 455.2,45.8 454.7,48.2 451.9,49.0" fill="#22e22a" stroke="#22e22a" stroke-width="0.9" stroke-linejoin="round"/>
<rect x="452.0" y="47.5" width="1.2" height="1.2" fill="#22e22a"/>
<rect x="449.8" y="47.2" width="1.2" height="1.2" fill="#22e22a"/>
<rect x="454.5" y="45.7" width="1.2" height="1.2" fill="#22e22a"/>
<rect x="454.4" y="48.5" width="1.2" height="1.2" fill="#22e22a"/>
<ellipse cx="441.6" cy="61.2" rx="3.3" ry="5.0" fill="#f6c18d" transform="rotate(20 441.6 61.2)"/>
<path d="M438.5,85.0 L441.9,83.6 L445.5,81.6" fill="none" stroke="#0b0b3b" stroke-width="3.0" stroke-linecap="round" stroke-linejoin="round"/>
<ellipse cx="464.3" cy="82.8" rx="4.0" ry="6.8" fill="#6cbd9b" transform="rotate(5 464.3 82.8)"/>
<path d="M465.9,77.0 L468.9,76.2 L472.1,75.6" fill="none" stroke="#6cbd9b" stroke-width="1.8" stroke-linecap="round" stroke-linejoin="round"/>
<rect x="462.8" y="62.3" width="1.6" height="1.6" fill="#6cbd9b"/>
<polygon points="421.2,96.0 424.9,94.5 427.9,95.5 431.0,92.6 430.4,97.0 433.9,100.0 438.1,102.2 431.9,103.5 423.9,103.8 420.9,100.5" fill="#d1b2dc" stroke="#d1b2dc" stroke-width="0.9" stroke-linejoin="round"/>
<rect x="436.1" y="101.1" width="1.2" height="1.2" fill="#d1b2dc"/>
<rect x="421.6" y="99.5" width="1.2" height="1.2" fill="#d1b2dc"/>
<rect x="433.3" y="103.4" width="1.2" height="1.2" fill="#d1b2dc"/>
<rect x="430.4" y="94.8" width="1.2" height="1.2" fill="#d1b2dc"/>
<rect x="427.4" y="94.5" width="1.2" height="1.2" fill="#d1b2dc"/>
<rect x="436.2" y="101.9" width="1.2" height="1.2" fill="#d1b2dc"/>
<rect x="436.9" y="101.7" width="1.2" height="1.2" fill="#d1b2dc"/>
<rect x="421.9" y="95.7" width="1.2" height="1.2" fill="#d1b2dc"/>
<rect x="420.8" y="99.3" width="1.2" height="1.2" fill="#d1b2dc"/>
<rect x="430.9" y="92.8" width="1.2" height="1.2" fill="#d1b2dc"/>
<path d="M568.7,69.7 L568.3,77.0 L568.7,84.6" fill="none" stroke="#a5f1f8" stroke-width="1.3" stroke-linecap="round" stroke-linejoin="round"/>
<path d="M505.2,165.4 L508.9,170.5 L513.7,176.0" fill="none" stroke="#6b6b18" stroke-width="1.8" stroke-linecap="round" stroke-linejoin="round"/>
<path d="M489.4,44.4 L484.3,46.5 L481.5,51.6 L482.2,55.7 L486.3,59.9" fill="none" stroke="#1a4ea0" stroke-width="3.6" stroke-linecap="round" stroke-linejoin="round"/>
<polygon points="489.4,43.4 497.7,38.8 508.0,36.7 518.3,36.7 520.3,41.3 518.3,46.5 511.0,47.5 509.0,53.7 505.9,59.9 500.7,64.0 497.7,58.8 494.6,52.7 490.4,47.5" fill="#d9541e" stroke="#d9541e" stroke-width="0.9" stroke-linejoin="round"/>
<rect x="493.1" y="40.6" width="1.2" height="1.2" fill="#d9541e"/>
<rect x="518.4" y="38.3" width="1.2" height="1.2" fill="#d9541e"/>
<rect x="503.7" y="37.5" width="1.2" height="1.2" fill="#d9541e"/>
<rect x="489.2" y="47.2" width="1.2" height="1.2" fill="#d9541e"/>
<rect x="498.0" y="59.4" width="1.2" height="1.2" fill="#d9541e"/>
<rect x="496.4" y="58.6" width="1.2" height="1.2" fill="#d9541e"/>
<rect x="518.0" y="37.3" width="1.2" height="1.2" fill="#d9541e"/>
<rect x="495.6" y="55.4" width="1.2" height="1.2" fill="#d9541e"/>
<rect x="517.6" y="45.8" width="1.2" height="1.2" fill="#d9541e"/>
<rect x="519.4" y="38.1" width="1.2" height="1.2" fill="#d9541e"/>
<rect x="492.1" y="40.2" width="1.2" height="1.2" fill="#d9541e"/>
<rect x="499.2" y="37.4" width="1.2" height="1.2" fill="#d9541e"/>
<rect x="499.9" y="37.6" width="1.2" height="1.2" fill="#d9541e"/>
<rect x="489.5" y="43.2" width="1.2" height="1.2" fill="#d9541e"/>
<rect x="507.8" y="55.4" width="1.2" height="1.2" fill="#d9541e"/>
<rect x="501.0" y="38.1" width="1.2" height="1.2" fill="#d9541e"/>
<rect x="510.2" y="50.2" width="1.2" height="1.2" fill="#d9541e"/>
<rect x="513.7" y="36.7" width="1.2" height="1.2" fill="#d9541e"/>
<rect x="520.4" y="41.4" width="1.2" height="1.2" fill="#d9541e"/>
<rect x="518.7" y="45.8" width="1.2" height="1.2" fill="#d9541e"/>
<rect x="489.1" y="43.1" width="1.2" height="1.2" fill="#d9541e"/>
<rect x="519.3" y="43.6" width="1.2" height="1.2" fill="#d9541e"/>
<rect x="512.0" y="36.9" width="1.2" height="1.2" fill="#d9541e"/>
<rect x="492.0" y="48.4" width="1.2" height="1.2" fill="#d9541e"/>
<rect x="508.1" y="54.5" width="1.2" height="1.2" fill="#d9541e"/>
<rect x="496.8" y="59.2" width="1.2" height="1.2" fill="#d9541e"/>
<polygon points="517.2,36.2 526.5,37.2 534.7,42.4 539.9,49.6 540.9,58.8 541.9,70.2 544.0,76.3 543.0,82.5 538.9,83.6 535.8,80.5 537.8,76.3 533.7,71.2 532.7,63.0 528.6,55.7 522.4,50.6 518.3,45.4" fill="#99c31f" stroke="#99c31f" stroke-width="0.9" stroke-linejoin="round"/>
<rect x="518.1" y="41.2" width="1.2" height="1.2" fill="#99c31f"/>
<rect x="540.7" y="59.4" width="1.2" height="1.2" fill="#99c31f"/>
<rect x="538.3" y="82.8" width="1.2" height="1.2" fill="#99c31f"/>
<rect x="531.8" y="62.0" width="1.2" height="1.2" fill="#99c31f"/>
<rect x="537.4" y="80.5" width="1.2" height="1.2" fill="#99c31f"/>
<rect x="524.7" y="52.4" width="1.2" height="1.2" fill="#99c31f"/>
<rect x="538.8" y="48.9" width="1.2" height="1.2" fill="#99c31f"/>
<rect x="538.3" y="46.3" width="1.2" height="1.2" fill="#99c31f"/>
<rect x="517.2" y="40.9" width="1.2" height="1.2" fill="#99c31f"/>
<rect x="530.6" y="39.7" width="1.2" height="1.2" fill="#99c31f"/>
<rect x="521.4" y="49.2" width="1.2" height="1.2" fill="#99c31f"/>
<rect x="515.9" y="36.9" width="1.2" height="1.2" fill="#99c31f"/>
<rect x="531.3" y="39.4" width="1.2" height="1.2" fill="#99c31f"/>
<rect x="543.8" y="75.2" width="1.2" height="1.2" fill="#99c31f"/>
<rect x="519.8" y="36.0" width="1.2" height="1.2" fill="#99c31f"/>
<rect x="522.4" y="35.6" width="1.2" height="1.2" fill="#99c31f"/>
<rect x="538.0" y="75.8" width="1.2" height="1.2" fill="#99c31f"/>
<rect x="528.7" y="54.5" width="1.2" height="1.2" fill="#99c31f"/>
<rect x="532.3" y="64.4" width="1.2" height="1.2" fill="#99c31f"/>
<rect x="541.1" y="81.3" width="1.2" height="1.2" fill="#99c31f"/>
<rect x="536.5" y="44.4" width="1.2" height="1.2" fill="#99c31f"/>
<rect x="543.3" y="77.5" width="1.2" height="1.2" fill="#99c31f"/>
<rect x="536.3" y="79.8" width="1.2" height="1.2" fill="#99c31f"/>
<rect x="534.5" y="79.4" width="1.2" height="1.2" fill="#99c31f"/>
<rect x="527.2" y="55.4" width="1.2" height="1.2" fill="#99c31f"/>
<rect x="540.1" y="81.9" width="1.2" height="1.2" fill="#99c31f"/>
<rect x="533.3" y="41.3" width="1.2" height="1.2" fill="#99c31f"/>
<rect x="529.0" y="56.4" width="1.2" height="1.2" fill="#99c31f"/>
<rect x="539.2" y="49.1" width="1.2" height="1.2" fill="#99c31f"/>
<rect x="534.9" y="73.8" width="1.2" height="1.2" fill="#99c31f"/>
<rect x="529.6" y="58.9" width="1.2" height="1.2" fill="#99c31f"/>
<rect x="519.4" y="46.7" width="1.2" height="1.2" fill="#99c31f"/>
<path d="M487.4,60.9 L491.5,69.1 L494.6,75.3 L495.6,78.4" fill="none" stroke="#99c31f" stroke-width="2.2" stroke-linecap="round" stroke-linejoin="round"/>
<path d="M495.6,73.3 L501.8,65.0" fill="none" stroke="#99c31f" stroke-width="1.8" stroke-linecap="round" stroke-linejoin="round"/>
<ellipse cx="494.5" cy="73.5" rx="2.5" ry="3.5" fill="#99c31f" transform="rotate(0 494.5 73.5)"/>
<polygon points="509.0,48.5 518.3,45.4 523.4,51.6 530.6,58.8 532.7,64.0 528.6,69.1 521.3,71.2 515.2,65.0 511.0,57.8 509.0,52.7" fill="#7459b0" stroke="#7459b0" stroke-width="0.9" stroke-linejoin="round"/>
<rect x="524.4" y="52.6" width="1.2" height="1.2" fill="#7459b0"/>
<rect x="523.5" y="70.0" width="1.2" height="1.2" fill="#7459b0"/>
<rect x="528.8" y="58.6" width="1.2" height="1.2" fill="#7459b0"/>
<rect x="509.2" y="49.9" width="1.2" height="1.2" fill="#7459b0"/>
<rect x="519.5" y="69.0" width="1.2" height="1.2" fill="#7459b0"/>
<rect x="514.5" y="45.3" width="1.2" height="1.2" fill="#7459b0"/>
<rect x="523.0" y="70.1" width="1.2" height="1.2" fill="#7459b0"/>
<rect x="511.2" y="59.3" width="1.2" height="1.2" fill="#7459b0"/>
<rect x="519.7" y="45.9" width="1.2" height="1.2" fill="#7459b0"/>
<rect x="517.9" y="45.0" width="1.2" height="1.2" fill="#7459b0"/>
<rect x="516.6" y="67.3" width="1.2" height="1.2" fill="#7459b0"/>
<rect x="508.7" y="52.5" width="1.2" height="1.2" fill="#7459b0"/>
<rect x="532.0" y="64.6" width="1.2" height="1.2" fill="#7459b0"/>
<rect x="507.8" y="48.2" width="1.2" height="1.2" fill="#7459b0"/>
<rect x="528.4" y="66.9" width="1.2" height="1.2" fill="#7459b0"/>
<rect x="515.6" y="64.6" width="1.2" height="1.2" fill="#7459b0"/>
<rect x="526.5" y="55.6" width="1.2" height="1.2" fill="#7459b0"/>
<rect x="525.6" y="53.1" width="1.2" height="1.2" fill="#7459b0"/>
<rect x="508.0" y="51.6" width="1.2" height="1.2" fill="#7459b0"/>
<rect x="508.9" y="51.6" width="1.2" height="1.2" fill="#7459b0"/>
<rect x="515.6" y="55.0" width="1.2" height="1.2" fill="#ffffff"/>
<rect x="516.9" y="59.9" width="1.2" height="1.2" fill="#ffffff"/>
<rect x="525.2" y="56.0" width="1.2" height="1.2" fill="#ffffff"/>
<rect x="516.8" y="61.6" width="1.2" height="1.2" fill="#ffffff"/>
<rect x="519.5" y="63.6" width="1.2" height="1.2" fill="#ffffff"/>
<rect x="526.4" y="64.6" width="1.2" height="1.2" fill="#ffffff"/>
<rect x="523.0" y="59.4" width="1.2" height="1.2" fill="#ffffff"/>
<rect x="515.1" y="63.1" width="1.2" height="1.2" fill="#ffffff"/>
<rect x="519.2" y="59.0" width="1.2" height="1.2" fill="#ffffff"/>
<rect x="522.0" y="65.0" width="1.2" height="1.2" fill="#ffffff"/>
<rect x="521.1" y="64.4" width="1.2" height="1.2" fill="#ffffff"/>
<rect x="526.0" y="54.4" width="1.2" height="1.2" fill="#ffffff"/>
<rect x="518.7" y="64.1" width="1.2" height="1.2" fill="#ffffff"/>
<rect x="523.6" y="65.0" width="1.2" height="1.2" fill="#ffffff"/>
<rect x="516.6" y="59.8" width="1.2" height="1.2" fill="#ffffff"/>
<rect x="525.6" y="59.9" width="1.2" height="1.2" fill="#ffffff"/>
<rect x="522.4" y="65.1" width="1.2" height="1.2" fill="#ffffff"/>
<rect x="516.5" y="54.1" width="1.2" height="1.2" fill="#ffffff"/>
<polygon points="524.4,71.2 528.6,65.0 532.7,67.1 532.7,71.2 528.6,74.3 525.5,78.4 522.4,82.5 520.3,81.5 523.4,76.3" fill="#f22ae6" stroke="#f22ae6" stroke-width="0.9" stroke-linejoin="round"/>
<rect x="529.1" y="73.0" width="1.2" height="1.2" fill="#f22ae6"/>
<rect x="523.1" y="78.9" width="1.2" height="1.2" fill="#f22ae6"/>
<rect x="531.1" y="71.2" width="1.2" height="1.2" fill="#f22ae6"/>
<rect x="532.8" y="70.3" width="1.2" height="1.2" fill="#f22ae6"/>
<rect x="523.5" y="71.4" width="1.2" height="1.2" fill="#f22ae6"/>
<rect x="522.7" y="75.8" width="1.2" height="1.2" fill="#f22ae6"/>
<rect x="521.4" y="82.2" width="1.2" height="1.2" fill="#f22ae6"/>
<rect x="530.1" y="65.0" width="1.2" height="1.2" fill="#f22ae6"/>
<polygon points="514.1,80.5 519.3,75.3 523.4,77.4 518.3,82.5 514.1,83.6" fill="#8c3516" stroke="#8c3516" stroke-width="0.9" stroke-linejoin="round"/>
<rect x="520.5" y="79.6" width="1.2" height="1.2" fill="#8c3516"/>
<rect x="519.1" y="75.0" width="1.2" height="1.2" fill="#8c3516"/>
<rect x="517.0" y="81.7" width="1.2" height="1.2" fill="#8c3516"/>
<rect x="514.9" y="78.4" width="1.2" height="1.2" fill="#8c3516"/>
<rect x="521.1" y="78.2" width="1.2" height="1.2" fill="#8c3516"/>
<rect x="521.2" y="78.4" width="1.2" height="1.2" fill="#8c3516"/>
<path d="M541.9,63.5 L550.2,64.3" fill="none" stroke="#a5f1f8" stroke-width="1.3" stroke-linecap="round" stroke-linejoin="round"/>
<polygon points="476.4,101.9 483.4,101.1 490.3,101.9 492.0,106.3 490.3,112.4 484.2,115.8 483.4,121.0 480.8,124.5 479.0,116.7 475.5,112.4 473.8,106.3" fill="#c3e3bc" stroke="#c3e3bc" stroke-width="0.9" stroke-linejoin="round"/>
<rect x="489.8" y="104.2" width="1.2" height="1.2" fill="#c3e3bc"/>
<rect x="490.7" y="105.8" width="1.2" height="1.2" fill="#c3e3bc"/>
<rect x="479.7" y="121.5" width="1.2" height="1.2" fill="#c3e3bc"/>
<rect x="483.3" y="100.4" width="1.2" height="1.2" fill="#c3e3bc"/>
<rect x="489.9" y="101.6" width="1.2" height="1.2" fill="#c3e3bc"/>
<rect x="482.1" y="122.4" width="1.2" height="1.2" fill="#c3e3bc"/>
<rect x="483.0" y="118.8" width="1.2" height="1.2" fill="#c3e3bc"/>
<rect x="491.0" y="105.5" width="1.2" height="1.2" fill="#c3e3bc"/>
<rect x="487.9" y="113.1" width="1.2" height="1.2" fill="#c3e3bc"/>
<rect x="482.9" y="101.0" width="1.2" height="1.2" fill="#c3e3bc"/>
<rect x="473.3" y="104.6" width="1.2" height="1.2" fill="#c3e3bc"/>
<rect x="490.2" y="101.3" width="1.2" height="1.2" fill="#c3e3bc"/>
<rect x="489.1" y="102.0" width="1.2" height="1.2" fill="#c3e3bc"/>
<rect x="482.4" y="117.3" width="1.2" height="1.2" fill="#c3e3bc"/>
<rect x="481.6" y="121.5" width="1.2" height="1.2" fill="#c3e3bc"/>
<rect x="479.0" y="122.2" width="1.2" height="1.2" fill="#c3e3bc"/>
<rect x="479.6" y="100.0" width="1.2" height="1.2" fill="#c3e3bc"/>
<rect x="478.9" y="118.7" width="1.2" height="1.2" fill="#c3e3bc"/>
<rect x="490.6" y="105.6" width="1.2" height="1.2" fill="#c3e3bc"/>
<rect x="489.3" y="113.0" width="1.2" height="1.2" fill="#c3e3bc"/>
<rect x="490.5" y="108.0" width="1.2" height="1.2" fill="#c3e3bc"/>
<rect x="475.8" y="113.7" width="1.2" height="1.2" fill="#c3e3bc"/>
<polygon points="486.2,97.5 489.1,97.3 489.2,100.0 486.4,100.2" fill="#99c31f" stroke="#99c31f" stroke-width="0.9" stroke-linejoin="round"/>
<polygon points="450.4,135.8 453.8,133.2 459.1,128.9 464.3,129.7 470.3,131.5 471.2,138.4 469.5,143.6 460.8,145.3 453.0,143.6 450.4,140.1" fill="#17989b" stroke="#17989b" stroke-width="0.9" stroke-linejoin="round"/>
<rect x="459.8" y="145.0" width="1.2" height="1.2" fill="#17989b"/>
<rect x="454.1" y="132.9" width="1.2" height="1.2" fill="#17989b"/>
<rect x="470.4" y="138.3" width="1.2" height="1.2" fill="#17989b"/>
<rect x="451.7" y="140.8" width="1.2" height="1.2" fill="#17989b"/>
<rect x="465.0" y="144.1" width="1.2" height="1.2" fill="#17989b"/>
<rect x="452.1" y="133.5" width="1.2" height="1.2" fill="#17989b"/>
<rect x="450.3" y="135.9" width="1.2" height="1.2" fill="#17989b"/>
<rect x="452.4" y="133.4" width="1.2" height="1.2" fill="#17989b"/>
<rect x="450.8" y="139.3" width="1.2" height="1.2" fill="#17989b"/>
<rect x="460.2" y="128.8" width="1.2" height="1.2" fill="#17989b"/>
<rect x="469.3" y="140.0" width="1.2" height="1.2" fill="#17989b"/>
<rect x="471.3" y="136.7" width="1.2" height="1.2" fill="#17989b"/>
<rect x="452.4" y="132.8" width="1.2" height="1.2" fill="#17989b"/>
<rect x="466.5" y="143.2" width="1.2" height="1.2" fill="#17989b"/>
<rect x="451.8" y="143.4" width="1.2" height="1.2" fill="#17989b"/>
<rect x="455.5" y="130.6" width="1.2" height="1.2" fill="#17989b"/>
<rect x="470.4" y="131.5" width="1.2" height="1.2" fill="#17989b"/>
<rect x="453.9" y="142.7" width="1.2" height="1.2" fill="#17989b"/>
<rect x="454.5" y="131.5" width="1.2" height="1.2" fill="#17989b"/>
<rect x="469.6" y="139.5" width="1.2" height="1.2" fill="#17989b"/>
<polygon points="471.2,141.0 481.6,139.3 485.1,145.3 486.0,150.6 481.6,151.4 473.8,146.2 470.3,142.7" fill="#dcdcec" stroke="#dcdcec" stroke-width="0.9" stroke-linejoin="round"/>
<rect x="470.6" y="143.1" width="1.2" height="1.2" fill="#dcdcec"/>
<rect x="481.4" y="150.7" width="1.2" height="1.2" fill="#dcdcec"/>
<rect x="481.9" y="151.4" width="1.2" height="1.2" fill="#dcdcec"/>
<rect x="471.1" y="143.2" width="1.2" height="1.2" fill="#dcdcec"/>
<rect x="484.8" y="150.3" width="1.2" height="1.2" fill="#dcdcec"/>
<rect x="470.1" y="141.8" width="1.2" height="1.2" fill="#dcdcec"/>
<rect x="484.3" y="146.0" width="1.2" height="1.2" fill="#dcdcec"/>
<rect x="485.2" y="146.9" width="1.2" height="1.2" fill="#dcdcec"/>
<rect x="474.3" y="139.5" width="1.2" height="1.2" fill="#dcdcec"/>
<rect x="483.5" y="143.0" width="1.2" height="1.2" fill="#dcdcec"/>
<rect x="476.7" y="139.5" width="1.2" height="1.2" fill="#dcdcec"/>
<rect x="481.9" y="140.4" width="1.2" height="1.2" fill="#dcdcec"/>
<rect x="480.3" y="149.3" width="1.2" height="1.2" fill="#dcdcec"/>
<rect x="483.5" y="141.2" width="1.2" height="1.2" fill="#dcdcec"/>
<polygon points="479.0,117.6 481.6,125.4 481.6,134.1 479.9,140.1 470.3,140.1 466.9,133.2 471.2,128.0 476.4,122.8" fill="#176f33" stroke="#176f33" stroke-width="0.9" stroke-linejoin="round"/>
<rect x="480.2" y="137.0" width="1.2" height="1.2" fill="#176f33"/>
<rect x="474.7" y="123.8" width="1.2" height="1.2" fill="#176f33"/>
<rect x="475.4" y="121.1" width="1.2" height="1.2" fill="#176f33"/>
<rect x="480.8" y="133.5" width="1.2" height="1.2" fill="#176f33"/>
<rect x="481.3" y="130.0" width="1.2" height="1.2" fill="#176f33"/>
<rect x="479.0" y="118.9" width="1.2" height="1.2" fill="#176f33"/>
<rect x="480.7" y="137.4" width="1.2" height="1.2" fill="#176f33"/>
<rect x="469.3" y="138.4" width="1.2" height="1.2" fill="#176f33"/>
<rect x="470.6" y="140.0" width="1.2" height="1.2" fill="#176f33"/>
<rect x="479.4" y="123.3" width="1.2" height="1.2" fill="#176f33"/>
<rect x="480.9" y="122.4" width="1.2" height="1.2" fill="#176f33"/>
<rect x="467.7" y="136.6" width="1.2" height="1.2" fill="#176f33"/>
<rect x="472.9" y="138.8" width="1.2" height="1.2" fill="#176f33"/>
<rect x="480.2" y="127.3" width="1.2" height="1.2" fill="#176f33"/>
<rect x="480.1" y="138.0" width="1.2" height="1.2" fill="#176f33"/>
<rect x="481.1" y="131.2" width="1.2" height="1.2" fill="#176f33"/>
<polygon points="481.6,129.7 488.6,127.1 491.2,128.0 491.2,138.4 488.6,143.6 485.1,145.3 483.4,140.1 485.1,135.8 481.6,132.3" fill="#d7272b" stroke="#d7272b" stroke-width="0.9" stroke-linejoin="round"/>
<rect x="486.7" y="143.6" width="1.2" height="1.2" fill="#d7272b"/>
<rect x="491.0" y="136.1" width="1.2" height="1.2" fill="#d7272b"/>
<rect x="490.3" y="138.6" width="1.2" height="1.2" fill="#d7272b"/>
<rect x="482.6" y="141.9" width="1.2" height="1.2" fill="#d7272b"/>
<rect x="482.3" y="133.7" width="1.2" height="1.2" fill="#d7272b"/>
<rect x="481.9" y="133.1" width="1.2" height="1.2" fill="#d7272b"/>
<rect x="486.4" y="143.2" width="1.2" height="1.2" fill="#d7272b"/>
<rect x="483.2" y="134.4" width="1.2" height="1.2" fill="#d7272b"/>
<rect x="490.8" y="131.2" width="1.2" height="1.2" fill="#d7272b"/>
<rect x="490.4" y="128.9" width="1.2" height="1.2" fill="#d7272b"/>
<rect x="480.3" y="129.1" width="1.2" height="1.2" fill="#d7272b"/>
<rect x="483.7" y="138.4" width="1.2" height="1.2" fill="#d7272b"/>
<rect x="486.4" y="144.1" width="1.2" height="1.2" fill="#d7272b"/>
<rect x="483.4" y="143.5" width="1.2" height="1.2" fill="#d7272b"/>
<rect x="484.0" y="129.0" width="1.2" height="1.2" fill="#d7272b"/>
<rect x="480.9" y="131.5" width="1.2" height="1.2" fill="#d7272b"/>
<rect x="485.6" y="127.6" width="1.2" height="1.2" fill="#d7272b"/>
<rect x="484.4" y="134.8" width="1.2" height="1.2" fill="#d7272b"/>
<rect x="485.7" y="131.6" width="1.2" height="1.2" fill="#ffffff"/>
<rect x="487.3" y="138.9" width="1.2" height="1.2" fill="#ffffff"/>
<rect x="484.5" y="134.8" width="1.2" height="1.2" fill="#ffffff"/>
<rect x="485.3" y="136.6" width="1.2" height="1.2" fill="#ffffff"/>
<rect x="484.6" y="136.2" width="1.2" height="1.2" fill="#ffffff"/>
<rect x="487.1" y="133.8" width="1.2" height="1.2" fill="#ffffff"/>
<rect x="458.5" y="127.1" width="1.8" height="1.8" fill="#5b5d9f"/>
<rect x="459.5" y="126.7" width="1.8" height="1.8" fill="#5b5d9f"/>
<polygon points="509.4,106.6 514.1,108.5 520.7,112.2 526.4,116.0 532.9,114.1 537.6,114.1 541.4,118.8 541.9,122.6 536.7,120.7 530.1,121.6 521.7,123.5 515.1,119.8 510.4,114.1 509.0,109.4" fill="#e0338a" stroke="#e0338a" stroke-width="0.9" stroke-linejoin="round"/>
<rect x="525.9" y="114.7" width="1.2" height="1.2" fill="#e0338a"/>
<rect x="520.1" y="111.6" width="1.2" height="1.2" fill="#e0338a"/>
<rect x="535.3" y="113.7" width="1.2" height="1.2" fill="#e0338a"/>
<rect x="512.8" y="116.8" width="1.2" height="1.2" fill="#e0338a"/>
<rect x="537.0" y="114.2" width="1.2" height="1.2" fill="#e0338a"/>
<rect x="539.9" y="116.1" width="1.2" height="1.2" fill="#e0338a"/>
<rect x="541.4" y="120.8" width="1.2" height="1.2" fill="#e0338a"/>
<rect x="540.0" y="117.8" width="1.2" height="1.2" fill="#e0338a"/>
<rect x="539.6" y="117.2" width="1.2" height="1.2" fill="#e0338a"/>
<rect x="540.8" y="120.6" width="1.2" height="1.2" fill="#e0338a"/>
<rect x="528.3" y="114.3" width="1.2" height="1.2" fill="#e0338a"/>
<rect x="526.1" y="122.2" width="1.2" height="1.2" fill="#e0338a"/>
<rect x="519.1" y="110.4" width="1.2" height="1.2" fill="#e0338a"/>
<rect x="532.2" y="113.2" width="1.2" height="1.2" fill="#e0338a"/>
<rect x="525.8" y="115.3" width="1.2" height="1.2" fill="#e0338a"/>
<rect x="521.7" y="121.9" width="1.2" height="1.2" fill="#e0338a"/>
<rect x="532.2" y="112.6" width="1.2" height="1.2" fill="#e0338a"/>
<rect x="508.3" y="105.7" width="1.2" height="1.2" fill="#e0338a"/>
<rect x="517.0" y="120.3" width="1.2" height="1.2" fill="#e0338a"/>
<rect x="509.5" y="105.8" width="1.2" height="1.2" fill="#e0338a"/>
<rect x="509.0" y="112.2" width="1.2" height="1.2" fill="#e0338a"/>
<rect x="539.9" y="121.2" width="1.2" height="1.2" fill="#e0338a"/>
<rect x="508.1" y="107.9" width="1.2" height="1.2" fill="#e0338a"/>
<rect x="507.8" y="106.3" width="1.2" height="1.2" fill="#e0338a"/>
<rect x="522.2" y="113.2" width="1.2" height="1.2" fill="#e0338a"/>
<rect x="508.6" y="109.9" width="1.2" height="1.2" fill="#e0338a"/>
<rect x="539.6" y="116.3" width="1.2" height="1.2" fill="#e0338a"/>
<rect x="540.9" y="119.3" width="1.2" height="1.2" fill="#e0338a"/>
<rect x="533.0" y="116.6" width="1.2" height="1.2" fill="#ffffff"/>
<rect x="533.5" y="114.6" width="1.2" height="1.2" fill="#ffffff"/>
<rect x="531.6" y="116.4" width="1.2" height="1.2" fill="#ffffff"/>
<rect x="532.5" y="114.8" width="1.2" height="1.2" fill="#ffffff"/>
<rect x="533.4" y="114.7" width="1.2" height="1.2" fill="#ffffff"/>
<rect x="526.8" y="114.6" width="1.2" height="1.2" fill="#ffffff"/>
<rect x="536.1" y="115.0" width="1.2" height="1.2" fill="#ffffff"/>
<rect x="533.1" y="114.6" width="1.2" height="1.2" fill="#ffffff"/>
<rect x="532.4" y="115.3" width="1.2" height="1.2" fill="#ffffff"/>
<rect x="532.3" y="117.4" width="1.2" height="1.2" fill="#ffffff"/>
<polygon points="565.9,110.3 569.6,114.1 567.8,118.8 562.1,124.5 558.3,128.2 554.6,127.3 560.2,120.7 564.0,114.1" fill="#c6d8ef" stroke="#c6d8ef" stroke-width="0.9" stroke-linejoin="round"/>
<rect x="565.6" y="110.1" width="1.2" height="1.2" fill="#c6d8ef"/>
<rect x="566.8" y="116.6" width="1.2" height="1.2" fill="#c6d8ef"/>
<rect x="563.3" y="111.9" width="1.2" height="1.2" fill="#c6d8ef"/>
<rect x="568.0" y="112.8" width="1.2" height="1.2" fill="#c6d8ef"/>
<rect x="561.0" y="119.2" width="1.2" height="1.2" fill="#c6d8ef"/>
<rect x="566.9" y="111.8" width="1.2" height="1.2" fill="#c6d8ef"/>
<rect x="566.9" y="119.4" width="1.2" height="1.2" fill="#c6d8ef"/>
<rect x="566.4" y="119.1" width="1.2" height="1.2" fill="#c6d8ef"/>
<rect x="567.7" y="112.9" width="1.2" height="1.2" fill="#c6d8ef"/>
<rect x="565.8" y="110.2" width="1.2" height="1.2" fill="#c6d8ef"/>
<rect x="564.6" y="111.7" width="1.2" height="1.2" fill="#c6d8ef"/>
<rect x="567.7" y="115.5" width="1.2" height="1.2" fill="#c6d8ef"/>
<rect x="565.8" y="119.2" width="1.2" height="1.2" fill="#c6d8ef"/>
<rect x="564.4" y="121.2" width="1.2" height="1.2" fill="#c6d8ef"/>
<rect x="561.2" y="123.4" width="1.2" height="1.2" fill="#c6d8ef"/>
<rect x="561.0" y="124.2" width="1.2" height="1.2" fill="#c6d8ef"/>
<path d="M550.8,128.2 L547.9,133.0 L546.1,137.6 L544.7,144.2" fill="none" stroke="#5b5d9f" stroke-width="1.9" stroke-linecap="round" stroke-linejoin="round"/>
<polygon points="559.5,138.0 562.4,137.6 563.9,140.0 563.5,145.0 559.9,145.2 559.3,141.0" fill="#ffc20e" stroke="#ffc20e" stroke-width="0.9" stroke-linejoin="round"/>
<path d="M533.9,142.3 L535.4,146.0 L537.6,149.0" fill="none" stroke="#1cc6f0" stroke-width="2.5" stroke-linecap="round" stroke-linejoin="round"/>
<polygon points="534.8,149.9 539.5,149.9 545.2,148.0 548.5,149.9 548.0,155.5 543.3,160.2 537.6,160.2 534.8,156.4" fill="#1cc6f0" stroke="#1cc6f0" stroke-width="0.9" stroke-linejoin="round"/>
<rect x="536.4" y="148.8" width="1.2" height="1.2" fill="#1cc6f0"/>
<rect x="546.9" y="151.4" width="1.2" height="1.2" fill="#1cc6f0"/>
<rect x="546.8" y="152.4" width="1.2" height="1.2" fill="#1cc6f0"/>
<rect x="546.1" y="155.8" width="1.2" height="1.2" fill="#1cc6f0"/>
<rect x="534.9" y="149.6" width="1.2" height="1.2" fill="#1cc6f0"/>
<rect x="535.3" y="158.3" width="1.2" height="1.2" fill="#1cc6f0"/>
<rect x="533.9" y="152.0" width="1.2" height="1.2" fill="#1cc6f0"/>
<rect x="547.2" y="148.8" width="1.2" height="1.2" fill="#1cc6f0"/>
<rect x="547.9" y="150.9" width="1.2" height="1.2" fill="#1cc6f0"/>
<rect x="534.9" y="149.6" width="1.2" height="1.2" fill="#1cc6f0"/>
<rect x="545.4" y="147.4" width="1.2" height="1.2" fill="#1cc6f0"/>
<rect x="547.4" y="150.2" width="1.2" height="1.2" fill="#1cc6f0"/>
<rect x="536.5" y="149.7" width="1.2" height="1.2" fill="#1cc6f0"/>
<rect x="536.5" y="159.0" width="1.2" height="1.2" fill="#1cc6f0"/>
<rect x="546.7" y="152.3" width="1.2" height="1.2" fill="#1cc6f0"/>
<rect x="540.1" y="148.1" width="1.2" height="1.2" fill="#1cc6f0"/>
<rect x="543.8" y="140.5" width="1.8" height="1.8" fill="#1cc6f0"/>
<rect x="543.6" y="142.1" width="1.8" height="1.8" fill="#1cc6f0"/>
<polygon points="564.8,109.7 568.7,110.6 571.6,116.4 566.8,122.2 562.0,125.1 560.0,131.9 558.1,130.9 559.1,124.1 562.9,119.3 563.9,113.5" fill="#c6d8ef" stroke="#c6d8ef" stroke-width="0.9" stroke-linejoin="round"/>
<rect x="562.3" y="125.0" width="1.2" height="1.2" fill="#c6d8ef"/>
<rect x="561.1" y="124.7" width="1.2" height="1.2" fill="#c6d8ef"/>
<rect x="569.6" y="112.5" width="1.2" height="1.2" fill="#c6d8ef"/>
<rect x="558.4" y="128.5" width="1.2" height="1.2" fill="#c6d8ef"/>
<rect x="557.5" y="131.2" width="1.2" height="1.2" fill="#c6d8ef"/>
<rect x="558.3" y="131.1" width="1.2" height="1.2" fill="#c6d8ef"/>
<rect x="563.7" y="112.9" width="1.2" height="1.2" fill="#c6d8ef"/>
<rect x="562.5" y="115.5" width="1.2" height="1.2" fill="#c6d8ef"/>
<rect x="559.7" y="130.9" width="1.2" height="1.2" fill="#c6d8ef"/>
<rect x="563.4" y="110.0" width="1.2" height="1.2" fill="#c6d8ef"/>
<rect x="568.3" y="110.3" width="1.2" height="1.2" fill="#c6d8ef"/>
<rect x="556.9" y="130.6" width="1.2" height="1.2" fill="#c6d8ef"/>
<rect x="559.2" y="133.0" width="1.6" height="1.6" fill="#ffc20e"/>
<rect x="558.2" y="134.2" width="1.6" height="1.6" fill="#ffc20e"/>
<rect x="560.7" y="135.7" width="1.6" height="1.6" fill="#ffc20e"/>
<rect x="554.5" y="126.3" width="1.4" height="1.4" fill="#176f33"/>
<rect x="555.8" y="125.3" width="1.4" height="1.4" fill="#176f33"/>
<polygon points="540.7,122.2 543.1,122.2 543.1,126.5 541.0,126.0" fill="#1cc6f0" stroke="#1cc6f0" stroke-width="0.9" stroke-linejoin="round"/>
<text x="495.7" y="23.0" font-size="10.5" text-anchor="middle" fill="#1a1a1a" stroke="#1a1a1a" stroke-width="0.22" >21</text>
<text x="443.7" y="42.6" font-size="10.5" text-anchor="middle" fill="#1a1a1a" stroke="#1a1a1a" stroke-width="0.22" >16</text>
<text x="457.5" y="52.1" font-size="10.5" text-anchor="middle" fill="#1a1a1a" stroke="#1a1a1a" stroke-width="0.22" >25</text>
<text x="480.8" y="51.1" font-size="10.5" text-anchor="middle" fill="#1a1a1a" stroke="#1a1a1a" stroke-width="0.22" >15</text>
<text x="501.6" y="47.9" font-size="10.5" text-anchor="middle" fill="#1a1a1a" stroke="#1a1a1a" stroke-width="0.22" >1</text>
<text x="532.4" y="54.3" font-size="10.5" text-anchor="middle" fill="#1a1a1a" stroke="#1a1a1a" stroke-width="0.22" >2</text>
<text x="520.1" y="62.8" font-size="10.5" text-anchor="middle" fill="#1a1a1a" stroke="#1a1a1a" stroke-width="0.22" >5</text>
<text x="440.9" y="65.5" font-size="10.5" text-anchor="middle" fill="#1a1a1a" stroke="#1a1a1a" stroke-width="0.22" >14</text>
<text x="443.0" y="81.9" font-size="10.5" text-anchor="middle" fill="#1a1a1a" stroke="#1a1a1a" stroke-width="0.22" >20</text>
<text x="467.0" y="86.7" font-size="10.5" text-anchor="middle" fill="#1a1a1a" stroke="#1a1a1a" stroke-width="0.22" >12</text>
<text x="514.8" y="79.7" font-size="10.5" text-anchor="middle" fill="#1a1a1a" stroke="#1a1a1a" stroke-width="0.22" >18</text>
<text x="530.3" y="76.1" font-size="10.5" text-anchor="middle" fill="#1a1a1a" stroke="#1a1a1a" stroke-width="0.22" >19</text>
<text x="567.5" y="79.1" font-size="10.5" text-anchor="middle" fill="#1a1a1a" stroke="#1a1a1a" stroke-width="0.22" >22</text>
<text x="428.8" y="104.2" font-size="10.5" text-anchor="middle" fill="#1a1a1a" stroke="#1a1a1a" stroke-width="0.22" >11</text>
<text x="480.4" y="109.5" font-size="10.5" text-anchor="middle" fill="#1a1a1a" stroke="#1a1a1a" stroke-width="0.22" >4</text>
<text x="474.0" y="126.5" font-size="10.5" text-anchor="middle" fill="#1a1a1a" stroke="#1a1a1a" stroke-width="0.22" >10</text>
<text x="522.2" y="121.2" font-size="10.5" text-anchor="middle" fill="#1a1a1a" stroke="#1a1a1a" stroke-width="0.22" >6</text>
<text x="561.1" y="123.3" font-size="10.5" text-anchor="middle" fill="#1a1a1a" stroke="#1a1a1a" stroke-width="0.22" >8</text>
<text x="458.5" y="141.4" font-size="10.5" text-anchor="middle" fill="#1a1a1a" stroke="#1a1a1a" stroke-width="0.22" >3</text>
<text x="489.8" y="138.2" font-size="10.5" text-anchor="middle" fill="#1a1a1a" stroke="#1a1a1a" stroke-width="0.22" >9</text>
<text x="544.1" y="137.1" font-size="10.5" text-anchor="middle" fill="#1a1a1a" stroke="#1a1a1a" stroke-width="0.22" >24</text>
<text x="562.6" y="144.6" font-size="10.5" text-anchor="middle" fill="#1a1a1a" stroke="#1a1a1a" stroke-width="0.22" >17</text>
<text x="479.8" y="150.9" font-size="10.5" text-anchor="middle" fill="#1a1a1a" stroke="#1a1a1a" stroke-width="0.22" >13</text>
<text x="538.2" y="156.2" font-size="10.5" text-anchor="middle" fill="#1a1a1a" stroke="#1a1a1a" stroke-width="0.22" >7</text>
<text x="506.7" y="173.9" font-size="10.5" text-anchor="middle" fill="#1a1a1a" stroke="#1a1a1a" stroke-width="0.22" >23</text>
<rect x="42.1" y="5.9" width="329.8" height="174.7" fill="none" stroke="#231f20" stroke-width="1.4"/>
<line x1="206.4" y1="5.9" x2="206.4" y2="180.6" stroke="#231f20" stroke-width="1.2" stroke-dasharray="3,1.6"/>
<line x1="206.4" y1="180.6" x2="206.4" y2="184.6" stroke="#231f20" stroke-width="1.2" />
<rect x="42.1" y="5.9" width="37.9" height="15.9" fill="#fff" stroke="#231f20" stroke-width="1.2"/>
<text x="44.6" y="18.8" font-size="10.4" text-anchor="start" fill="#231f20" stroke="#231f20" stroke-width="0.22" >Human</text>
<rect x="206.4" y="5.9" width="37.6" height="16" fill="#fff" stroke="#231f20" stroke-width="1.2"/>
<text x="225.3" y="18.8" font-size="10.4" text-anchor="middle" fill="#231f20" stroke="#231f20" stroke-width="0.22" >Pig</text>
<line x1="37.6" y1="31.9" x2="42.1" y2="31.9" stroke="#231f20" stroke-width="1.2" />
<text x="36.6" y="37.0" font-size="10.3" text-anchor="end" fill="#231f20" stroke="#231f20" stroke-width="0.22" >10</text>
<line x1="37.6" y1="87.2" x2="42.1" y2="87.2" stroke="#231f20" stroke-width="1.2" />
<text x="36.6" y="92.3" font-size="10.3" text-anchor="end" fill="#231f20" stroke="#231f20" stroke-width="0.22" >0</text>
<line x1="37.6" y1="141.7" x2="42.1" y2="141.7" stroke="#231f20" stroke-width="1.2" />
<text x="36.6" y="146.8" font-size="10.3" text-anchor="end" fill="#231f20" stroke="#231f20" stroke-width="0.22" >-10</text>
<line x1="78.2" y1="180.6" x2="78.2" y2="184.6" stroke="#231f20" stroke-width="1.2" />
<text x="78.2" y="193.4" font-size="10.3" text-anchor="middle" fill="#231f20" stroke="#231f20" stroke-width="0.22" >-10</text>
<line x1="131.5" y1="180.6" x2="131.5" y2="184.6" stroke="#231f20" stroke-width="1.2" />
<text x="131.5" y="193.4" font-size="10.3" text-anchor="middle" fill="#231f20" stroke="#231f20" stroke-width="0.22" >0</text>
<line x1="184.8" y1="180.6" x2="184.8" y2="184.6" stroke="#231f20" stroke-width="1.2" />
<text x="184.8" y="193.4" font-size="10.3" text-anchor="middle" fill="#231f20" stroke="#231f20" stroke-width="0.22" >10</text>
<line x1="244.0" y1="180.6" x2="244.0" y2="184.6" stroke="#231f20" stroke-width="1.2" />
<text x="244.0" y="193.4" font-size="10.3" text-anchor="middle" fill="#231f20" stroke="#231f20" stroke-width="0.22" >-10</text>
<line x1="298.0" y1="180.6" x2="298.0" y2="184.6" stroke="#231f20" stroke-width="1.2" />
<text x="298.0" y="193.4" font-size="10.3" text-anchor="middle" fill="#231f20" stroke="#231f20" stroke-width="0.22" >0</text>
<line x1="351.7" y1="180.6" x2="351.7" y2="184.6" stroke="#231f20" stroke-width="1.2" />
<text x="351.7" y="193.4" font-size="10.3" text-anchor="middle" fill="#231f20" stroke="#231f20" stroke-width="0.22" >10</text>
<text x="214.7" y="202.4" font-size="10.4" text-anchor="middle" fill="#231f20" stroke="#231f20" stroke-width="0.22" >UAMP 1</text>
<text transform="translate(23.3,87.8) rotate(-90)" font-size="10.6" text-anchor="middle" fill="#231f20">UMAP 2</text>
<rect x="415.1" y="5.1" width="165.2" height="175.2" fill="none" stroke="#231f20" stroke-width="1.4"/>
<line x1="410.6" y1="34.2" x2="415.1" y2="34.2" stroke="#231f20" stroke-width="1.2" />
<text x="409.6" y="38.1" font-size="10.3" text-anchor="end" fill="#231f20" stroke="#231f20" stroke-width="0.22" >10</text>
<line x1="410.6" y1="87.4" x2="415.1" y2="87.4" stroke="#231f20" stroke-width="1.2" />
<text x="409.6" y="91.3" font-size="10.3" text-anchor="end" fill="#231f20" stroke="#231f20" stroke-width="0.22" >0</text>
<line x1="410.6" y1="141.0" x2="415.1" y2="141.0" stroke="#231f20" stroke-width="1.2" />
<text x="409.6" y="144.9" font-size="10.3" text-anchor="end" fill="#231f20" stroke="#231f20" stroke-width="0.22" >-10</text>
<line x1="450.5" y1="180.3" x2="450.5" y2="184.3" stroke="#231f20" stroke-width="1.2" />
<text x="450.5" y="192.9" font-size="10.3" text-anchor="middle" fill="#231f20" stroke="#231f20" stroke-width="0.22" >-10</text>
<line x1="503.4" y1="180.3" x2="503.4" y2="184.3" stroke="#231f20" stroke-width="1.2" />
<text x="503.4" y="192.9" font-size="10.3" text-anchor="middle" fill="#231f20" stroke="#231f20" stroke-width="0.22" >0</text>
<line x1="557.6" y1="180.3" x2="557.6" y2="184.3" stroke="#231f20" stroke-width="1.2" />
<text x="557.6" y="192.9" font-size="10.3" text-anchor="middle" fill="#231f20" stroke="#231f20" stroke-width="0.22" >10</text>
<text x="500.6" y="205.0" font-size="10.3" text-anchor="middle" fill="#231f20" stroke="#231f20" stroke-width="0.22" >UAMP 1</text>
<text transform="translate(398.7,87.8) rotate(-90)" font-size="10.6" text-anchor="middle" fill="#231f20">UMAP 2</text>
<rect x="20.00" y="224.50" width="13.20" height="3.40" fill="#1eb4e8" />
<rect x="33.20" y="224.50" width="7.70" height="3.40" fill="#d49ef0" />
<rect x="40.90" y="224.50" width="61.80" height="3.40" fill="#f77ef0" />
<rect x="102.70" y="224.50" width="40.40" height="3.40" fill="#e3a60e" />
<rect x="143.10" y="224.50" width="1.90" height="3.40" fill="#f59a8c" />
<rect x="145.00" y="224.50" width="3.00" height="3.40" fill="#22c8e0" />
<rect x="148.00" y="224.50" width="54.70" height="3.40" fill="#14d27a" />
<rect x="20.00" y="228.60" width="13.20" height="241.20" fill="#000" filter="url(#hf1)"/>
<rect x="33.20" y="228.60" width="7.70" height="241.20" fill="#000" filter="url(#hf2)"/>
<rect x="40.90" y="228.60" width="61.80" height="241.20" fill="#000" filter="url(#hf3)"/>
<rect x="102.70" y="228.60" width="40.40" height="241.20" fill="#000" filter="url(#hf4)"/>
<rect x="143.10" y="228.60" width="4.90" height="241.20" fill="#000" filter="url(#hf5)"/>
<rect x="148.00" y="228.60" width="54.70" height="241.20" fill="#000" filter="url(#hf6)"/>
<rect x="148.00" y="228.60" width="54.70" height="4.40" fill="#000" filter="url(#hf7)"/>
<rect x="20.00" y="470.90" width="123.10" height="16.50" fill="#000" filter="url(#hf8)"/>
<rect x="143.10" y="470.90" width="4.90" height="16.50" fill="#000" filter="url(#hf9)"/>
<rect x="148.00" y="470.90" width="54.70" height="16.50" fill="#000" filter="url(#hf10)"/>
<rect x="382.00" y="227.30" width="59.00" height="3.50" fill="#f88a7c" />
<rect x="441.00" y="227.30" width="24.80" height="3.50" fill="#f77ef0" />
<rect x="465.80" y="227.30" width="27.20" height="3.50" fill="#b8b814" />
<rect x="493.00" y="227.30" width="76.90" height="3.50" fill="#f77ed8" />
<rect x="569.90" y="227.30" width="18.00" height="3.50" fill="#b0a8f8" />
<rect x="589.00" y="227.30" width="6.60" height="3.50" fill="#18ccd8" />
<rect x="595.60" y="227.30" width="1.40" height="3.50" fill="#e8a010" />
<rect x="597.00" y="227.30" width="1.00" height="3.50" fill="#18c890" />
<rect x="598.00" y="227.30" width="2.00" height="3.50" fill="#44c840" />
<rect x="382.00" y="232.00" width="59.00" height="133.40" fill="#000" filter="url(#hf11)"/>
<rect x="444.00" y="232.00" width="22.00" height="133.40" fill="#000" filter="url(#hf12)"/>
<rect x="466.00" y="232.00" width="122.00" height="133.40" fill="#000" filter="url(#hf13)"/>
<rect x="382.00" y="232.00" width="206.00" height="8.00" fill="#000" filter="url(#hf14)"/>
<rect x="441.00" y="232.00" width="3.00" height="133.40" fill="#000" filter="url(#hf15)"/>
<rect x="589.00" y="237.00" width="11.00" height="13.00" fill="#000" filter="url(#hf16)"/>
<rect x="589.00" y="250.00" width="11.00" height="35.00" fill="#000" filter="url(#hf17)"/>
<rect x="589.00" y="285.00" width="11.00" height="45.00" fill="#000" filter="url(#hf18)"/>
<rect x="589.00" y="330.00" width="11.00" height="35.40" fill="#000" filter="url(#hf19)"/>
<rect x="589.00" y="232.00" width="11.00" height="5.00" fill="#000" filter="url(#hf20)"/>
<rect x="382.00" y="366.60" width="206.00" height="73.40" fill="#000" filter="url(#hf21)"/>
<rect x="382.00" y="440.00" width="206.00" height="52.40" fill="#000" filter="url(#hf22)"/>
<rect x="589.00" y="366.60" width="11.00" height="118.40" fill="#000" filter="url(#hf23)"/>
<rect x="589.00" y="485.00" width="11.00" height="7.40" fill="#000" filter="url(#hf24)"/>
<rect x="270.00" y="333.00" width="8.20" height="62.90" fill="url(#cbar)" />
<text x="282.4" y="338.4" font-size="9.8" text-anchor="start" fill="#231f20" stroke="#231f20" stroke-width="0.22" >2</text>
<text x="282.4" y="369.8" font-size="9.8" text-anchor="start" fill="#231f20" stroke="#231f20" stroke-width="0.22" >0</text>
<text x="281.0" y="398.6" font-size="9.8" text-anchor="start" fill="#231f20" stroke="#231f20" stroke-width="0.22" >-2</text>
<rect x="692.30" y="341.00" width="6.40" height="62.20" fill="url(#cbar)" />
<text x="703.7" y="344.4" font-size="9.8" text-anchor="start" fill="#231f20" stroke="#231f20" stroke-width="0.22" >2</text>
<text x="703.7" y="375.7" font-size="9.8" text-anchor="start" fill="#231f20" stroke="#231f20" stroke-width="0.22" >0</text>
<text x="702.5" y="405.9" font-size="9.8" text-anchor="start" fill="#231f20" stroke="#231f20" stroke-width="0.22" >-2</text>
<rect x="246.30" y="226.60" width="8.10" height="10.30" fill="#1eb4e8" />
<text x="256.8" y="234.9" font-size="9.3" text-anchor="start" fill="#231f20" stroke="#231f20" stroke-width="0.22" >B cell 1_Human</text>
<rect x="246.30" y="236.88" width="8.10" height="10.30" fill="#d49ef0" />
<text x="256.8" y="245.3" font-size="9.3" text-anchor="start" fill="#231f20" stroke="#231f20" stroke-width="0.22" >B cell 2_Human</text>
<rect x="246.30" y="247.16" width="8.10" height="10.30" fill="#f77ef0" />
<text x="256.8" y="255.6" font-size="9.3" text-anchor="start" fill="#231f20" stroke="#231f20" stroke-width="0.22" >Na&#239;ve B cell_Human</text>
<rect x="246.30" y="257.44" width="8.10" height="10.30" fill="#e3a60e" />
<text x="256.8" y="266.0" font-size="9.3" text-anchor="start" fill="#231f20" stroke="#231f20" stroke-width="0.22" >Plasma/B cell_Human</text>
<rect x="246.30" y="267.72" width="8.10" height="10.30" fill="#f88a7c" />
<text x="256.8" y="276.3" font-size="9.3" text-anchor="start" fill="#231f20" stroke="#231f20" stroke-width="0.22" >B cell 1_Pig</text>
<rect x="246.30" y="278.00" width="8.10" height="10.30" fill="#94c01c" />
<text x="256.8" y="286.7" font-size="9.3" text-anchor="start" fill="#231f20" stroke="#231f20" stroke-width="0.22" >B cell 2_Pig</text>
<rect x="246.30" y="288.28" width="8.10" height="10.30" fill="#18ccd8" />
<text x="256.8" y="297.1" font-size="9.3" text-anchor="start" fill="#231f20" stroke="#231f20" stroke-width="0.22" >Na&#239;ve B cell_Pig</text>
<rect x="246.30" y="298.56" width="8.10" height="10.30" fill="#18d27a" />
<text x="256.8" y="307.4" font-size="9.3" text-anchor="start" fill="#231f20" stroke="#231f20" stroke-width="0.22" >Plasma/B cell_Pig</text>
<rect x="656.00" y="229.00" width="7.20" height="9.60" fill="#f88a7c" />
<text x="665.7" y="236.5" font-size="9.3" text-anchor="start" fill="#231f20" stroke="#231f20" stroke-width="0.22" >T cell 1_Human</text>
<rect x="656.00" y="238.55" width="7.20" height="9.60" fill="#f77ef0" />
<text x="665.7" y="246.1" font-size="9.3" text-anchor="start" fill="#231f20" stroke="#231f20" stroke-width="0.22" >T cell 2_Human</text>
<rect x="656.00" y="248.10" width="7.20" height="9.60" fill="#b8b814" />
<text x="665.7" y="255.6" font-size="9.3" text-anchor="start" fill="#231f20" stroke="#231f20" stroke-width="0.22" >Central memory T_Human</text>
<rect x="656.00" y="257.65" width="7.20" height="9.60" fill="#f77ed8" />
<text x="665.7" y="265.2" font-size="9.3" text-anchor="start" fill="#231f20" stroke="#231f20" stroke-width="0.22" >Effector T cell_Human</text>
<rect x="656.00" y="267.20" width="7.20" height="9.60" fill="#b0a8f8" />
<text x="665.7" y="274.7" font-size="9.3" text-anchor="start" fill="#231f20" stroke="#231f20" stroke-width="0.22" >Regulatory T cell_Human</text>
<rect x="656.00" y="276.75" width="7.20" height="9.60" fill="#18ccd8" />
<text x="665.7" y="284.3" font-size="9.3" text-anchor="start" fill="#231f20" stroke="#231f20" stroke-width="0.22" >Effector T cell_Pig</text>
<rect x="656.00" y="286.30" width="7.20" height="9.60" fill="#e8a010" />
<text x="665.7" y="293.8" font-size="9.3" text-anchor="start" fill="#231f20" stroke="#231f20" stroke-width="0.22" >T cell 2_Pig</text>
<rect x="656.00" y="295.85" width="7.20" height="9.60" fill="#18c890" />
<text x="665.7" y="303.4" font-size="9.3" text-anchor="start" fill="#231f20" stroke="#231f20" stroke-width="0.22" >Regulatory T cell_Pig</text>
<rect x="656.00" y="305.40" width="7.20" height="9.60" fill="#44c840" />
<text x="665.7" y="312.9" font-size="9.3" text-anchor="start" fill="#231f20" stroke="#231f20" stroke-width="0.22" >T cell 1_Pig</text>
<rect x="656.00" y="314.95" width="7.20" height="9.60" fill="#18b4f0" />
<text x="665.7" y="322.5" font-size="9.3" text-anchor="start" fill="#231f20" stroke="#231f20" stroke-width="0.22" >Central memory T_Pig</text>
<text x="213.5" y="238.3" font-size="10.5" text-anchor="start" fill="#231f20" stroke="#231f20" stroke-width="0.22" >CD37</text>
<text x="213.5" y="252.9" font-size="10.5" text-anchor="start" fill="#231f20" stroke="#231f20" stroke-width="0.22" >CD48</text>
<text x="213.5" y="262.6" font-size="10.5" text-anchor="start" fill="#231f20" stroke="#231f20" stroke-width="0.22" >CD19</text>
<text x="213.5" y="272.3" font-size="10.5" text-anchor="start" fill="#231f20" stroke="#231f20" stroke-width="0.22" >CD22</text>
<text x="213.5" y="282.3" font-size="10.5" text-anchor="start" fill="#231f20" stroke="#231f20" stroke-width="0.22" >CD72</text>
<text x="213.5" y="299.6" font-size="10.5" text-anchor="start" fill="#231f20" stroke="#231f20" stroke-width="0.22" >CD55</text>
<text x="213.5" y="309.4" font-size="10.5" text-anchor="start" fill="#231f20" stroke="#231f20" stroke-width="0.22" >CCR7</text>
<line x1="204.6" y1="233.5" x2="213.0" y2="234.5" stroke="#231f20" stroke-width="0.8" />
<line x1="204.6" y1="247.4" x2="213.0" y2="249.3" stroke="#231f20" stroke-width="0.8" />
<line x1="204.6" y1="247.4" x2="213.0" y2="259.0" stroke="#231f20" stroke-width="0.8" />
<line x1="204.6" y1="247.4" x2="213.0" y2="268.7" stroke="#231f20" stroke-width="0.8" />
<line x1="204.6" y1="247.4" x2="213.0" y2="278.7" stroke="#231f20" stroke-width="0.8" />
<line x1="204.0" y1="296.0" x2="213.0" y2="296.0" stroke="#231f20" stroke-width="0.8" />
<line x1="204.0" y1="296.0" x2="213.0" y2="305.8" stroke="#231f20" stroke-width="0.8" />
<text x="216.7" y="408.6" font-size="10.5" text-anchor="start" fill="#231f20" stroke="#231f20" stroke-width="0.22" >MCM2</text>
<line x1="203.7" y1="486.2" x2="215.5" y2="409.5" stroke="#231f20" stroke-width="0.7" />
<text x="216.7" y="418.4" font-size="10.5" text-anchor="start" fill="#231f20" stroke="#231f20" stroke-width="0.22" >MCM4</text>
<line x1="203.7" y1="486.2" x2="215.5" y2="416.7" stroke="#231f20" stroke-width="0.7" />
<text x="216.7" y="427.6" font-size="10.5" text-anchor="start" fill="#231f20" stroke="#231f20" stroke-width="0.22" >MCM6</text>
<line x1="203.7" y1="486.2" x2="215.5" y2="423.9" stroke="#231f20" stroke-width="0.7" />
<text x="216.7" y="438.8" font-size="10.5" text-anchor="start" fill="#231f20" stroke="#231f20" stroke-width="0.22" >MCM7</text>
<line x1="203.7" y1="486.2" x2="215.5" y2="435.5" stroke="#231f20" stroke-width="0.7" />
<text x="216.7" y="447.9" font-size="10.5" text-anchor="start" fill="#231f20" stroke="#231f20" stroke-width="0.22" >AURKA</text>
<line x1="203.7" y1="486.2" x2="215.5" y2="442.7" stroke="#231f20" stroke-width="0.7" />
<text x="216.7" y="456.6" font-size="10.5" text-anchor="start" fill="#231f20" stroke="#231f20" stroke-width="0.22" >AURKB</text>
<line x1="203.7" y1="486.2" x2="215.5" y2="451.4" stroke="#231f20" stroke-width="0.7" />
<text x="216.7" y="465.9" font-size="10.5" text-anchor="start" fill="#231f20" stroke="#231f20" stroke-width="0.22" >MKI67</text>
<line x1="203.7" y1="486.2" x2="215.5" y2="460.0" stroke="#231f20" stroke-width="0.7" />
<text x="216.7" y="475.5" font-size="10.5" text-anchor="start" fill="#231f20" stroke="#231f20" stroke-width="0.22" >BIRC5</text>
<line x1="203.7" y1="486.2" x2="215.5" y2="468.7" stroke="#231f20" stroke-width="0.7" />
<text x="216.7" y="484.1" font-size="10.5" text-anchor="start" fill="#231f20" stroke="#231f20" stroke-width="0.22" >PCNA</text>
<line x1="203.7" y1="486.2" x2="215.5" y2="479.6" stroke="#231f20" stroke-width="0.7" />
<text x="216.7" y="493.9" font-size="10.5" text-anchor="start" fill="#231f20" stroke="#231f20" stroke-width="0.22" >TOP2A</text>
<line x1="203.7" y1="486.2" x2="215.5" y2="486.4" stroke="#231f20" stroke-width="0.7" />
<text x="613.5" y="238.9" font-size="10.5" text-anchor="start" fill="#231f20" stroke="#231f20" stroke-width="0.22" >CD3G</text>
<text x="613.5" y="249.6" font-size="10.5" text-anchor="start" fill="#231f20" stroke="#231f20" stroke-width="0.22" >KLRB1</text>
<text x="613.5" y="258.6" font-size="10.5" text-anchor="start" fill="#231f20" stroke="#231f20" stroke-width="0.22" >IL7R</text>
<text x="613.5" y="269.3" font-size="10.5" text-anchor="start" fill="#231f20" stroke="#231f20" stroke-width="0.22" >CD7</text>
<text x="612.5" y="281.5" font-size="10.5" text-anchor="start" fill="#231f20" stroke="#231f20" stroke-width="0.22" >CXCR6</text>
<text x="613.5" y="332.2" font-size="10.5" text-anchor="start" fill="#231f20" stroke="#231f20" stroke-width="0.22" >CD69</text>
<text x="613.5" y="341.6" font-size="10.5" text-anchor="start" fill="#231f20" stroke="#231f20" stroke-width="0.22" >CD48</text>
<text x="613.5" y="350.4" font-size="10.5" text-anchor="start" fill="#231f20" stroke="#231f20" stroke-width="0.22" >CD96</text>
<text x="613.7" y="365.0" font-size="10.5" text-anchor="start" fill="#231f20" stroke="#231f20" stroke-width="0.22" >CD8A</text>
<text x="613.5" y="381.5" font-size="10.5" text-anchor="start" fill="#231f20" stroke="#231f20" stroke-width="0.22" >MCM2</text>
<text x="613.5" y="390.9" font-size="10.5" text-anchor="start" fill="#231f20" stroke="#231f20" stroke-width="0.22" >MCM4</text>
<text x="613.5" y="401.8" font-size="10.5" text-anchor="start" fill="#231f20" stroke="#231f20" stroke-width="0.22" >MCM6</text>
<text x="613.5" y="411.4" font-size="10.5" text-anchor="start" fill="#231f20" stroke="#231f20" stroke-width="0.22" >MCM7</text>
<text x="611.7" y="441.1" font-size="10.5" text-anchor="start" fill="#231f20" stroke="#231f20" stroke-width="0.22" >PCNA</text>
<text x="612.0" y="451.2" font-size="10.5" text-anchor="start" fill="#231f20" stroke="#231f20" stroke-width="0.22" >TOP2A</text>
<text x="613.0" y="461.4" font-size="10.5" text-anchor="start" fill="#231f20" stroke="#231f20" stroke-width="0.22" >MKI67</text>
<text x="614.0" y="471.5" font-size="10.5" text-anchor="start" fill="#231f20" stroke="#231f20" stroke-width="0.22" >BIRC5</text>
<text x="614.0" y="481.6" font-size="10.5" text-anchor="start" fill="#231f20" stroke="#231f20" stroke-width="0.22" >AURKA</text>
<text x="614.0" y="491.3" font-size="10.5" text-anchor="start" fill="#231f20" stroke="#231f20" stroke-width="0.22" >AURKB</text>
<line x1="601.5" y1="235.3" x2="612.0" y2="235.3" stroke="#231f20" stroke-width="0.8" />
<line x1="601.5" y1="235.3" x2="612.0" y2="246.0" stroke="#231f20" stroke-width="0.8" />
<line x1="601.5" y1="235.3" x2="612.0" y2="255.0" stroke="#231f20" stroke-width="0.8" />
<line x1="601.5" y1="235.3" x2="612.0" y2="262.0" stroke="#231f20" stroke-width="0.8" />
<line x1="602.0" y1="280.4" x2="611.0" y2="275.9" stroke="#231f20" stroke-width="0.8" />
<line x1="601.5" y1="329.0" x2="612.0" y2="329.0" stroke="#231f20" stroke-width="0.8" />
<line x1="601.5" y1="329.0" x2="612.0" y2="336.0" stroke="#231f20" stroke-width="0.8" />
<line x1="601.5" y1="329.0" x2="612.0" y2="344.0" stroke="#231f20" stroke-width="0.8" />
<line x1="602.0" y1="362.7" x2="612.0" y2="359.6" stroke="#231f20" stroke-width="0.8" />
<line x1="602.0" y1="379.2" x2="611.5" y2="379.2" stroke="#231f20" stroke-width="0.8" />
<line x1="602.0" y1="379.2" x2="611.5" y2="388.0" stroke="#231f20" stroke-width="0.8" />
<line x1="602.0" y1="379.2" x2="611.5" y2="398.2" stroke="#231f20" stroke-width="0.8" />
<line x1="602.0" y1="408.3" x2="612.0" y2="408.3" stroke="#231f20" stroke-width="0.8" />
<line x1="601.5" y1="488.2" x2="611.0" y2="443.8" stroke="#231f20" stroke-width="0.7" />
<line x1="601.5" y1="488.2" x2="611.0" y2="451.4" stroke="#231f20" stroke-width="0.7" />
<line x1="601.5" y1="488.2" x2="611.0" y2="461.6" stroke="#231f20" stroke-width="0.7" />
<line x1="601.5" y1="488.2" x2="611.0" y2="471.7" stroke="#231f20" stroke-width="0.7" />
<line x1="601.5" y1="488.2" x2="611.0" y2="480.6" stroke="#231f20" stroke-width="0.7" />
<line x1="601.5" y1="488.2" x2="612.0" y2="488.2" stroke="#231f20" stroke-width="0.7" />
<rect x="45.8" y="523.7" width="119.6" height="72.1" fill="none" stroke="#231f20" stroke-width="1.3"/>
<text x="110.7" y="519.3" font-size="10.5" text-anchor="middle" fill="#231f20" stroke="#231f20" stroke-width="0.22" >AMP family</text>
<line x1="41.3" y1="534.7" x2="45.8" y2="534.7" stroke="#231f20" stroke-width="1.0" />
<text x="38.8" y="538.7" font-size="10.8" text-anchor="end" fill="#231f20" stroke="#231f20" stroke-width="0.22" >40</text>
<line x1="41.3" y1="549.3" x2="45.8" y2="549.3" stroke="#231f20" stroke-width="1.0" />
<text x="38.8" y="553.3" font-size="10.8" text-anchor="end" fill="#231f20" stroke="#231f20" stroke-width="0.22" >30</text>
<line x1="41.3" y1="563.9" x2="45.8" y2="563.9" stroke="#231f20" stroke-width="1.0" />
<text x="38.8" y="567.9" font-size="10.8" text-anchor="end" fill="#231f20" stroke="#231f20" stroke-width="0.22" >20</text>
<line x1="41.3" y1="578.6" x2="45.8" y2="578.6" stroke="#231f20" stroke-width="1.0" />
<text x="38.8" y="582.6" font-size="10.8" text-anchor="end" fill="#231f20" stroke="#231f20" stroke-width="0.22" >10</text>
<line x1="41.3" y1="593.2" x2="45.8" y2="593.2" stroke="#231f20" stroke-width="1.0" />
<text x="38.8" y="597.2" font-size="10.8" text-anchor="end" fill="#231f20" stroke="#231f20" stroke-width="0.22" >0</text>
<line x1="80.1" y1="533.8" x2="80.1" y2="546.0" stroke="#bbbbbb" stroke-width="0.6" />
<path d="M79.80,544.30 C79.68,545.42 79.37,549.25 79.10,551.00 C78.83,552.75 78.75,553.52 78.20,554.80 C77.65,556.08 76.92,557.42 75.80,558.70 C74.68,559.98 73.25,561.23 71.50,562.50 C69.75,563.77 67.37,565.03 65.30,566.30 C63.23,567.57 60.70,568.90 59.10,570.10 C57.50,571.30 55.38,572.38 55.70,573.50 C56.02,574.62 58.85,575.77 61.00,576.80 C63.15,577.83 66.37,578.75 68.60,579.70 C70.83,580.65 72.88,581.55 74.40,582.50 C75.92,583.45 76.92,584.28 77.70,585.40 C78.48,586.52 78.75,587.93 79.10,589.20 C79.45,590.47 79.68,592.37 79.80,593.00 L80.40,593.00 C80.52,592.37 80.75,590.47 81.10,589.20 C81.45,587.93 81.72,586.52 82.50,585.40 C83.28,584.28 84.28,583.45 85.80,582.50 C87.32,581.55 89.37,580.65 91.60,579.70 C93.83,578.75 97.05,577.83 99.20,576.80 C101.35,575.77 104.18,574.62 104.50,573.50 C104.82,572.38 102.70,571.30 101.10,570.10 C99.50,568.90 96.97,567.57 94.90,566.30 C92.83,565.03 90.45,563.77 88.70,562.50 C86.95,561.23 85.52,559.98 84.40,558.70 C83.28,557.42 82.55,556.08 82.00,554.80 C81.45,553.52 81.37,552.75 81.10,551.00 C80.83,549.25 80.52,545.42 80.40,544.30 Z" fill="#ff0000"/>
<line x1="134.6" y1="528.5" x2="134.6" y2="545.0" stroke="#bbbbbb" stroke-width="0.6" />
<path d="M134.30,540.00 C134.25,541.67 134.08,546.90 134.00,550.00 C133.92,553.10 134.02,555.62 133.80,558.60 C133.58,561.58 134.12,565.58 132.70,567.90 C131.28,570.22 128.32,571.08 125.30,572.50 C122.28,573.92 117.12,575.32 114.60,576.40 C112.08,577.48 109.70,578.10 110.20,579.00 C110.70,579.90 114.57,580.70 117.60,581.80 C120.63,582.90 125.82,584.32 128.40,585.60 C130.98,586.88 132.12,588.20 133.10,589.50 C134.08,590.80 134.10,592.75 134.30,593.40 L134.90,593.40 C135.10,592.75 135.12,590.80 136.10,589.50 C137.08,588.20 138.22,586.88 140.80,585.60 C143.38,584.32 148.57,582.90 151.60,581.80 C154.63,580.70 158.50,579.90 159.00,579.00 C159.50,578.10 157.12,577.48 154.60,576.40 C152.08,575.32 146.92,573.92 143.90,572.50 C140.88,571.08 137.92,570.22 136.50,567.90 C135.08,565.58 135.62,561.58 135.40,558.60 C135.18,555.62 135.28,553.10 135.20,550.00 C135.12,546.90 134.95,541.67 134.90,540.00 Z" fill="#fdc46a"/>
<rect x="196.3" y="523.7" width="119.2" height="72.1" fill="none" stroke="#231f20" stroke-width="1.3"/>
<text x="260.7" y="519.3" font-size="10.5" text-anchor="middle" fill="#231f20" stroke="#231f20" stroke-width="0.22" >CD family</text>
<line x1="191.8" y1="529.1" x2="196.3" y2="529.1" stroke="#231f20" stroke-width="1.0" />
<text x="189.3" y="533.1" font-size="10.8" text-anchor="end" fill="#231f20" stroke="#231f20" stroke-width="0.22" >60</text>
<line x1="191.8" y1="550.5" x2="196.3" y2="550.5" stroke="#231f20" stroke-width="1.0" />
<text x="189.3" y="554.5" font-size="10.8" text-anchor="end" fill="#231f20" stroke="#231f20" stroke-width="0.22" >40</text>
<line x1="191.8" y1="571.8" x2="196.3" y2="571.8" stroke="#231f20" stroke-width="1.0" />
<text x="189.3" y="575.8" font-size="10.8" text-anchor="end" fill="#231f20" stroke="#231f20" stroke-width="0.22" >20</text>
<line x1="191.8" y1="593.2" x2="196.3" y2="593.2" stroke="#231f20" stroke-width="1.0" />
<text x="189.3" y="597.2" font-size="10.8" text-anchor="end" fill="#231f20" stroke="#231f20" stroke-width="0.22" >0</text>
<line x1="230.6" y1="528.1" x2="230.6" y2="536.0" stroke="#bbbbbb" stroke-width="0.6" />
<path d="M230.40,530.00 C230.30,530.88 230.28,533.73 229.80,535.30 C229.32,536.87 228.73,538.03 227.50,539.40 C226.27,540.77 224.02,541.97 222.40,543.50 C220.78,545.03 218.92,546.72 217.80,548.60 C216.68,550.48 215.80,552.73 215.70,554.80 C215.60,556.87 216.43,558.95 217.20,561.00 C217.97,563.05 219.70,565.40 220.30,567.10 C220.90,568.80 221.65,570.00 220.80,571.20 C219.95,572.40 217.50,573.10 215.20,574.30 C212.90,575.50 207.00,577.03 207.00,578.40 C207.00,579.77 212.30,581.13 215.20,582.50 C218.10,583.87 222.08,585.22 224.40,586.60 C226.72,587.98 228.10,589.60 229.10,590.80 C230.10,592.00 230.18,593.30 230.40,593.80 L230.80,593.80 C231.02,593.30 231.10,592.00 232.10,590.80 C233.10,589.60 234.48,587.98 236.80,586.60 C239.12,585.22 243.10,583.87 246.00,582.50 C248.90,581.13 254.20,579.77 254.20,578.40 C254.20,577.03 248.30,575.50 246.00,574.30 C243.70,573.10 241.25,572.40 240.40,571.20 C239.55,570.00 240.30,568.80 240.90,567.10 C241.50,565.40 243.23,563.05 244.00,561.00 C244.77,558.95 245.60,556.87 245.50,554.80 C245.40,552.73 244.52,550.48 243.40,548.60 C242.28,546.72 240.42,545.03 238.80,543.50 C237.18,541.97 234.93,540.77 233.70,539.40 C232.47,538.03 231.88,536.87 231.40,535.30 C230.92,533.73 230.90,530.88 230.80,530.00 Z" fill="#ff0000"/>
<line x1="285.6" y1="533.9" x2="285.6" y2="545.0" stroke="#bbbbbb" stroke-width="0.6" />
<path d="M285.30,543.00 C285.15,543.80 284.60,545.20 284.40,547.80 C284.20,550.40 284.28,555.25 284.10,558.60 C283.92,561.95 284.85,565.72 283.30,567.90 C281.75,570.08 278.48,570.55 274.80,571.70 C271.12,572.85 261.20,573.77 261.20,574.80 C261.20,575.83 271.23,576.73 274.80,577.90 C278.37,579.07 281.52,580.63 282.60,581.80 C283.68,582.97 281.05,583.75 281.30,584.90 C281.55,586.05 283.43,587.28 284.10,588.70 C284.77,590.12 285.10,592.62 285.30,593.40 L285.90,593.40 C286.10,592.62 286.43,590.12 287.10,588.70 C287.77,587.28 289.65,586.05 289.90,584.90 C290.15,583.75 287.52,582.97 288.60,581.80 C289.68,580.63 292.83,579.07 296.40,577.90 C299.97,576.73 310.00,575.83 310.00,574.80 C310.00,573.77 300.08,572.85 296.40,571.70 C292.72,570.55 289.45,570.08 287.90,567.90 C286.35,565.72 287.28,561.95 287.10,558.60 C286.92,555.25 287.00,550.40 286.80,547.80 C286.60,545.20 286.05,543.80 285.90,543.00 Z" fill="#fdc46a"/>
<rect x="349.6" y="523.7" width="119.7" height="72.1" fill="none" stroke="#231f20" stroke-width="1.3"/>
<text x="411.4" y="519.3" font-size="10.5" text-anchor="middle" fill="#231f20" stroke="#231f20" stroke-width="0.22" >Chemokine</text>
<line x1="345.1" y1="534.2" x2="349.6" y2="534.2" stroke="#231f20" stroke-width="1.0" />
<text x="342.6" y="538.2" font-size="10.8" text-anchor="end" fill="#231f20" stroke="#231f20" stroke-width="0.22" >30</text>
<line x1="345.1" y1="553.5" x2="349.6" y2="553.5" stroke="#231f20" stroke-width="1.0" />
<text x="342.6" y="557.5" font-size="10.8" text-anchor="end" fill="#231f20" stroke="#231f20" stroke-width="0.22" >20</text>
<line x1="345.1" y1="572.8" x2="349.6" y2="572.8" stroke="#231f20" stroke-width="1.0" />
<text x="342.6" y="576.8" font-size="10.8" text-anchor="end" fill="#231f20" stroke="#231f20" stroke-width="0.22" >10</text>
<line x1="345.1" y1="592.1" x2="349.6" y2="592.1" stroke="#231f20" stroke-width="1.0" />
<text x="342.6" y="596.1" font-size="10.8" text-anchor="end" fill="#231f20" stroke="#231f20" stroke-width="0.22" >0</text>
<line x1="382.7" y1="537.0" x2="382.7" y2="562.0" stroke="#bbbbbb" stroke-width="0.6" />
<path d="M382.20,561.70 C381.63,562.47 379.88,564.75 378.80,566.30 C377.72,567.85 376.33,569.45 375.70,571.00 C375.07,572.55 375.38,574.07 375.00,575.60 C374.62,577.13 374.68,578.92 373.40,580.20 C372.12,581.48 369.78,582.18 367.30,583.30 C364.82,584.42 357.73,585.87 358.50,586.90 C359.27,587.93 369.53,588.68 371.90,589.50 C374.27,590.32 372.57,591.32 372.70,591.80 C372.83,592.28 372.70,592.30 372.70,592.40 L392.70,592.40 C392.70,592.30 392.57,592.28 392.70,591.80 C392.83,591.32 391.13,590.32 393.50,589.50 C395.87,588.68 406.13,587.93 406.90,586.90 C407.67,585.87 400.58,584.42 398.10,583.30 C395.62,582.18 393.28,581.48 392.00,580.20 C390.72,578.92 390.78,577.13 390.40,575.60 C390.02,574.07 390.33,572.55 389.70,571.00 C389.07,569.45 387.68,567.85 386.60,566.30 C385.52,564.75 383.77,562.47 383.20,561.70 Z" fill="#ff0000"/>
<line x1="437.3" y1="527.7" x2="437.3" y2="560.0" stroke="#bbbbbb" stroke-width="0.6" />
<path d="M437.00,558.60 C436.92,561.17 436.83,570.13 436.50,574.00 C436.17,577.87 436.42,580.12 435.00,581.80 C433.58,583.48 431.68,583.28 428.00,584.10 C424.32,584.92 412.90,585.80 412.90,586.70 C412.90,587.60 426.00,588.65 428.00,589.50 C430.00,590.35 425.42,591.28 424.90,591.80 C424.38,592.32 424.90,592.47 424.90,592.60 L449.70,592.60 C449.70,592.47 450.22,592.32 449.70,591.80 C449.18,591.28 444.60,590.35 446.60,589.50 C448.60,588.65 461.70,587.60 461.70,586.70 C461.70,585.80 450.28,584.92 446.60,584.10 C442.92,583.28 441.02,583.48 439.60,581.80 C438.18,580.12 438.43,577.87 438.10,574.00 C437.77,570.13 437.68,561.17 437.60,558.60 Z" fill="#fdc46a"/>
<rect x="503.6" y="523.7" width="120.2" height="72.1" fill="none" stroke="#231f20" stroke-width="1.3"/>
<text x="567.2" y="519.3" font-size="10.5" text-anchor="middle" fill="#231f20" stroke="#231f20" stroke-width="0.22" >NLR family</text>
<line x1="499.1" y1="533.0" x2="503.6" y2="533.0" stroke="#231f20" stroke-width="1.0" />
<text x="496.6" y="537.0" font-size="10.8" text-anchor="end" fill="#231f20" stroke="#231f20" stroke-width="0.22" >6</text>
<line x1="499.1" y1="553.1" x2="503.6" y2="553.1" stroke="#231f20" stroke-width="1.0" />
<text x="496.6" y="557.1" font-size="10.8" text-anchor="end" fill="#231f20" stroke="#231f20" stroke-width="0.22" >4</text>
<line x1="499.1" y1="573.1" x2="503.6" y2="573.1" stroke="#231f20" stroke-width="1.0" />
<text x="496.6" y="577.1" font-size="10.8" text-anchor="end" fill="#231f20" stroke="#231f20" stroke-width="0.22" >2</text>
<line x1="499.1" y1="593.2" x2="503.6" y2="593.2" stroke="#231f20" stroke-width="1.0" />
<text x="496.6" y="597.2" font-size="10.8" text-anchor="end" fill="#231f20" stroke="#231f20" stroke-width="0.22" >0</text>
<line x1="537.7" y1="531.6" x2="537.7" y2="557.0" stroke="#bbbbbb" stroke-width="0.6" />
<path d="M537.50,557.00 C537.43,559.33 537.38,567.25 537.10,571.00 C536.82,574.75 535.83,577.18 535.80,579.50 C535.77,581.82 536.78,583.10 536.90,584.90 C537.02,586.70 537.37,589.07 536.50,590.30 C535.63,591.53 535.57,591.77 531.70,592.30 C527.83,592.83 512.38,593.20 513.30,593.50 C514.22,593.80 533.22,594.00 537.20,594.10 L538.20,594.10 C542.18,594.00 561.18,593.80 562.10,593.50 C563.02,593.20 547.57,592.83 543.70,592.30 C539.83,591.77 539.77,591.53 538.90,590.30 C538.03,589.07 538.38,586.70 538.50,584.90 C538.62,583.10 539.63,581.82 539.60,579.50 C539.57,577.18 538.58,574.75 538.30,571.00 C538.02,567.25 537.97,559.33 537.90,557.00 Z" fill="#ff0000"/>
<line x1="593.3" y1="528.5" x2="593.3" y2="593.0" stroke="#bbbbbb" stroke-width="0.6" />
<line x1="569.0" y1="593.5" x2="617.5" y2="593.5" stroke="#cccccc" stroke-width="0.6" />
<rect x="45.8" y="615.7" width="119.7" height="73.4" fill="none" stroke="#231f20" stroke-width="1.3"/>
<text x="108.6" y="611.3" font-size="10.5" text-anchor="middle" fill="#231f20" stroke="#231f20" stroke-width="0.22" >CLR family</text>
<line x1="41.3" y1="637.6" x2="45.8" y2="637.6" stroke="#231f20" stroke-width="1.0" />
<text x="38.8" y="641.6" font-size="10.8" text-anchor="end" fill="#231f20" stroke="#231f20" stroke-width="0.22" >10</text>
<line x1="41.3" y1="661.2" x2="45.8" y2="661.2" stroke="#231f20" stroke-width="1.0" />
<text x="38.8" y="665.2" font-size="10.8" text-anchor="end" fill="#231f20" stroke="#231f20" stroke-width="0.22" >5</text>
<line x1="41.3" y1="684.7" x2="45.8" y2="684.7" stroke="#231f20" stroke-width="1.0" />
<text x="38.8" y="688.7" font-size="10.8" text-anchor="end" fill="#231f20" stroke="#231f20" stroke-width="0.22" >0</text>
<line x1="79.3" y1="619.0" x2="79.3" y2="641.0" stroke="#bbbbbb" stroke-width="0.6" />
<path d="M79.00,640.60 C78.85,642.27 78.52,647.13 78.10,650.60 C77.68,654.07 76.95,658.57 76.50,661.40 C76.05,664.23 75.65,665.53 75.40,667.60 C75.15,669.67 74.87,672.00 75.00,673.80 C75.13,675.60 76.25,677.25 76.20,678.40 C76.15,679.55 76.25,680.05 74.70,680.70 C73.15,681.35 70.20,681.78 66.90,682.30 C63.60,682.82 53.00,683.42 54.90,683.80 C56.80,684.18 74.40,684.47 78.30,684.60 L80.30,684.60 C84.20,684.47 101.80,684.18 103.70,683.80 C105.60,683.42 95.00,682.82 91.70,682.30 C88.40,681.78 85.45,681.35 83.90,680.70 C82.35,680.05 82.45,679.55 82.40,678.40 C82.35,677.25 83.47,675.60 83.60,673.80 C83.73,672.00 83.45,669.67 83.20,667.60 C82.95,665.53 82.55,664.23 82.10,661.40 C81.65,658.57 80.92,654.07 80.50,650.60 C80.08,647.13 79.75,642.27 79.60,640.60 Z" fill="#ff0000"/>
<line x1="133.5" y1="636.0" x2="133.5" y2="684.0" stroke="#bbbbbb" stroke-width="0.6" />
<line x1="109.0" y1="684.2" x2="158.0" y2="684.2" stroke="#cccccc" stroke-width="0.6" />
<rect x="196" y="615.7" width="119.6" height="73.4" fill="none" stroke="#231f20" stroke-width="1.3"/>
<text x="259.3" y="611.3" font-size="10.5" text-anchor="middle" fill="#231f20" stroke="#231f20" stroke-width="0.22" >IFN family</text>
<line x1="191.5" y1="628.6" x2="196.0" y2="628.6" stroke="#231f20" stroke-width="1.0" />
<text x="189.0" y="632.6" font-size="10.8" text-anchor="end" fill="#231f20" stroke="#231f20" stroke-width="0.22" >15</text>
<line x1="191.5" y1="647.1" x2="196.0" y2="647.1" stroke="#231f20" stroke-width="1.0" />
<text x="189.0" y="651.1" font-size="10.8" text-anchor="end" fill="#231f20" stroke="#231f20" stroke-width="0.22" >10</text>
<line x1="191.5" y1="665.5" x2="196.0" y2="665.5" stroke="#231f20" stroke-width="1.0" />
<text x="189.0" y="669.5" font-size="10.8" text-anchor="end" fill="#231f20" stroke="#231f20" stroke-width="0.22" >5</text>
<line x1="191.5" y1="684.0" x2="196.0" y2="684.0" stroke="#231f20" stroke-width="1.0" />
<text x="189.0" y="688.0" font-size="10.8" text-anchor="end" fill="#231f20" stroke="#231f20" stroke-width="0.22" >0</text>
<line x1="230.0" y1="621.3" x2="230.0" y2="636.0" stroke="#bbbbbb" stroke-width="0.6" />
<path d="M229.50,635.20 C229.27,636.48 229.05,640.33 228.10,642.90 C227.15,645.47 226.05,648.03 223.80,650.60 C221.55,653.17 217.43,655.98 214.60,658.30 C211.77,660.62 208.30,662.70 206.80,664.50 C205.30,666.30 205.07,667.68 205.60,669.10 C206.13,670.52 208.77,671.70 210.00,673.00 C211.23,674.30 210.70,675.73 213.00,676.90 C215.30,678.07 222.77,678.98 223.80,680.00 C224.83,681.02 219.97,682.28 219.20,683.00 C218.43,683.72 219.20,684.08 219.20,684.30 L240.80,684.30 C240.80,684.08 241.57,683.72 240.80,683.00 C240.03,682.28 235.17,681.02 236.20,680.00 C237.23,678.98 244.70,678.07 247.00,676.90 C249.30,675.73 248.77,674.30 250.00,673.00 C251.23,671.70 253.87,670.52 254.40,669.10 C254.93,667.68 254.70,666.30 253.20,664.50 C251.70,662.70 248.23,660.62 245.40,658.30 C242.57,655.98 238.45,653.17 236.20,650.60 C233.95,648.03 232.85,645.47 231.90,642.90 C230.95,640.33 230.73,636.48 230.50,635.20 Z" fill="#ff0000"/>
<line x1="284.5" y1="618.2" x2="284.5" y2="636.0" stroke="#bbbbbb" stroke-width="0.6" />
<path d="M284.00,635.20 C283.70,637.77 283.15,646.75 282.20,650.60 C281.25,654.45 280.75,655.72 278.30,658.30 C275.85,660.88 270.53,663.78 267.50,666.10 C264.47,668.42 259.83,670.40 260.10,672.20 C260.37,674.00 266.20,675.48 269.10,676.90 C272.00,678.32 276.10,679.68 277.50,680.70 C278.90,681.72 277.50,682.40 277.50,683.00 C277.50,683.60 277.50,684.08 277.50,684.30 L291.50,684.30 C291.50,684.08 291.50,683.60 291.50,683.00 C291.50,682.40 290.10,681.72 291.50,680.70 C292.90,679.68 297.00,678.32 299.90,676.90 C302.80,675.48 308.63,674.00 308.90,672.20 C309.17,670.40 304.53,668.42 301.50,666.10 C298.47,663.78 293.15,660.88 290.70,658.30 C288.25,655.72 287.75,654.45 286.80,650.60 C285.85,646.75 285.30,637.77 285.00,635.20 Z" fill="#fdc46a"/>
<rect x="349.3" y="615.7" width="120.5" height="73.4" fill="none" stroke="#231f20" stroke-width="1.3"/>
<text x="411.0" y="611.3" font-size="10.5" text-anchor="middle" fill="#231f20" stroke="#231f20" stroke-width="0.22" >IL family</text>
<line x1="344.8" y1="637.1" x2="349.3" y2="637.1" stroke="#231f20" stroke-width="1.0" />
<text x="342.3" y="641.1" font-size="10.8" text-anchor="end" fill="#231f20" stroke="#231f20" stroke-width="0.22" >20</text>
<line x1="344.8" y1="660.5" x2="349.3" y2="660.5" stroke="#231f20" stroke-width="1.0" />
<text x="342.3" y="664.5" font-size="10.8" text-anchor="end" fill="#231f20" stroke="#231f20" stroke-width="0.22" >10</text>
<line x1="344.8" y1="684.0" x2="349.3" y2="684.0" stroke="#231f20" stroke-width="1.0" />
<text x="342.3" y="688.0" font-size="10.8" text-anchor="end" fill="#231f20" stroke="#231f20" stroke-width="0.22" >0</text>
<line x1="383.7" y1="618.2" x2="383.7" y2="636.0" stroke="#bbbbbb" stroke-width="0.6" />
<path d="M383.20,635.20 C382.97,636.48 382.88,640.33 381.80,642.90 C380.72,645.47 379.47,648.03 376.70,650.60 C373.93,653.17 368.10,655.60 365.20,658.30 C362.30,661.00 359.55,664.48 359.30,666.80 C359.05,669.12 361.95,670.52 363.70,672.20 C365.45,673.88 367.63,675.48 369.80,676.90 C371.97,678.32 375.28,679.68 376.70,680.70 C378.12,681.72 378.03,682.45 378.30,683.00 C378.57,683.55 378.30,683.83 378.30,684.00 L389.10,684.00 C389.10,683.83 388.83,683.55 389.10,683.00 C389.37,682.45 389.28,681.72 390.70,680.70 C392.12,679.68 395.43,678.32 397.60,676.90 C399.77,675.48 401.95,673.88 403.70,672.20 C405.45,670.52 408.35,669.12 408.10,666.80 C407.85,664.48 405.10,661.00 402.20,658.30 C399.30,655.60 393.47,653.17 390.70,650.60 C387.93,648.03 386.68,645.47 385.60,642.90 C384.52,640.33 384.43,636.48 384.20,635.20 Z" fill="#ff0000"/>
<line x1="438.6" y1="626.7" x2="438.6" y2="643.0" stroke="#bbbbbb" stroke-width="0.6" />
<path d="M438.00,642.90 C437.72,644.18 437.75,648.28 436.30,650.60 C434.85,652.92 432.00,655.00 429.30,656.80 C426.60,658.60 422.62,659.98 420.10,661.40 C417.58,662.82 413.18,663.88 414.20,665.30 C415.22,666.72 423.55,668.23 426.20,669.90 C428.85,671.57 429.32,673.62 430.10,675.30 C430.88,676.98 430.90,678.72 430.90,680.00 C430.90,681.28 430.23,682.33 430.10,683.00 C429.97,683.67 430.10,683.83 430.10,684.00 L447.10,684.00 C447.10,683.83 447.23,683.67 447.10,683.00 C446.97,682.33 446.30,681.28 446.30,680.00 C446.30,678.72 446.32,676.98 447.10,675.30 C447.88,673.62 448.35,671.57 451.00,669.90 C453.65,668.23 461.98,666.72 463.00,665.30 C464.02,663.88 459.62,662.82 457.10,661.40 C454.58,659.98 450.60,658.60 447.90,656.80 C445.20,655.00 442.35,652.92 440.90,650.60 C439.45,648.28 439.48,644.18 439.20,642.90 Z" fill="#fdc46a"/>
<rect x="503.9" y="615" width="119.7" height="72.9" fill="none" stroke="#231f20" stroke-width="1.3"/>
<text x="566.2" y="610.6" font-size="10.5" text-anchor="middle" fill="#231f20" stroke="#231f20" stroke-width="0.22" >TNF family</text>
<line x1="499.4" y1="617.0" x2="503.9" y2="617.0" stroke="#231f20" stroke-width="1.0" />
<text x="496.9" y="621.0" font-size="10.8" text-anchor="end" fill="#231f20" stroke="#231f20" stroke-width="0.22" >25</text>
<line x1="499.4" y1="630.8" x2="503.9" y2="630.8" stroke="#231f20" stroke-width="1.0" />
<text x="496.9" y="634.8" font-size="10.8" text-anchor="end" fill="#231f20" stroke="#231f20" stroke-width="0.22" >20</text>
<line x1="499.4" y1="644.5" x2="503.9" y2="644.5" stroke="#231f20" stroke-width="1.0" />
<text x="496.9" y="648.5" font-size="10.8" text-anchor="end" fill="#231f20" stroke="#231f20" stroke-width="0.22" >15</text>
<line x1="499.4" y1="658.3" x2="503.9" y2="658.3" stroke="#231f20" stroke-width="1.0" />
<text x="496.9" y="662.3" font-size="10.8" text-anchor="end" fill="#231f20" stroke="#231f20" stroke-width="0.22" >10</text>
<line x1="499.4" y1="672.0" x2="503.9" y2="672.0" stroke="#231f20" stroke-width="1.0" />
<text x="496.9" y="676.0" font-size="10.8" text-anchor="end" fill="#231f20" stroke="#231f20" stroke-width="0.22" >5</text>
<line x1="499.4" y1="685.8" x2="503.9" y2="685.8" stroke="#231f20" stroke-width="1.0" />
<text x="496.9" y="689.8" font-size="10.8" text-anchor="end" fill="#231f20" stroke="#231f20" stroke-width="0.22" >0</text>
<line x1="537.3" y1="618.2" x2="537.3" y2="640.0" stroke="#bbbbbb" stroke-width="0.6" />
<path d="M537.00,639.80 C536.67,641.60 535.98,647.52 535.00,650.60 C534.02,653.68 533.03,655.72 531.10,658.30 C529.17,660.88 525.70,663.78 523.40,666.10 C521.10,668.42 518.90,670.53 517.30,672.20 C515.70,673.87 513.93,674.93 513.80,676.10 C513.67,677.27 514.65,678.30 516.50,679.20 C518.35,680.10 523.50,680.78 524.90,681.50 C526.30,682.22 524.90,682.98 524.90,683.50 C524.90,684.02 524.90,684.42 524.90,684.60 L549.70,684.60 C549.70,684.42 549.70,684.02 549.70,683.50 C549.70,682.98 548.30,682.22 549.70,681.50 C551.10,680.78 556.25,680.10 558.10,679.20 C559.95,678.30 560.93,677.27 560.80,676.10 C560.67,674.93 558.90,673.87 557.30,672.20 C555.70,670.53 553.50,668.42 551.20,666.10 C548.90,663.78 545.43,660.88 543.50,658.30 C541.57,655.72 540.58,653.68 539.60,650.60 C538.62,647.52 537.93,641.60 537.60,639.80 Z" fill="#ff0000"/>
<line x1="589.5" y1="630.5" x2="589.5" y2="651.0" stroke="#bbbbbb" stroke-width="0.6" />
<path d="M588.90,650.60 C588.75,652.67 588.80,659.65 588.00,663.00 C587.20,666.35 586.42,668.65 584.10,670.70 C581.78,672.75 577.07,673.88 574.10,675.30 C571.13,676.72 566.30,678.17 566.30,679.20 C566.30,680.23 572.80,680.73 574.10,681.50 C575.40,682.27 574.10,683.28 574.10,683.80 C574.10,684.32 574.10,684.47 574.10,684.60 L604.90,684.60 C604.90,684.47 604.90,684.32 604.90,683.80 C604.90,683.28 603.60,682.27 604.90,681.50 C606.20,680.73 612.70,680.23 612.70,679.20 C612.70,678.17 607.87,676.72 604.90,675.30 C601.93,673.88 597.22,672.75 594.90,670.70 C592.58,668.65 591.80,666.35 591.00,663.00 C590.20,659.65 590.25,652.67 590.10,650.60 Z" fill="#fdc46a"/>
<rect x="644.40" y="564.90" width="11.60" height="9.00" fill="#ff0000" />
<text x="658.6" y="573.0" font-size="10.3" text-anchor="start" fill="#231f20" stroke="#231f20" stroke-width="0.22" >Human</text>
<rect x="644.40" y="581.90" width="11.60" height="8.70" fill="#fdc46a" />
<text x="658.6" y="589.8" font-size="10.3" text-anchor="start" fill="#231f20" stroke="#231f20" stroke-width="0.22" >Pig</text>
</svg></body></html>
